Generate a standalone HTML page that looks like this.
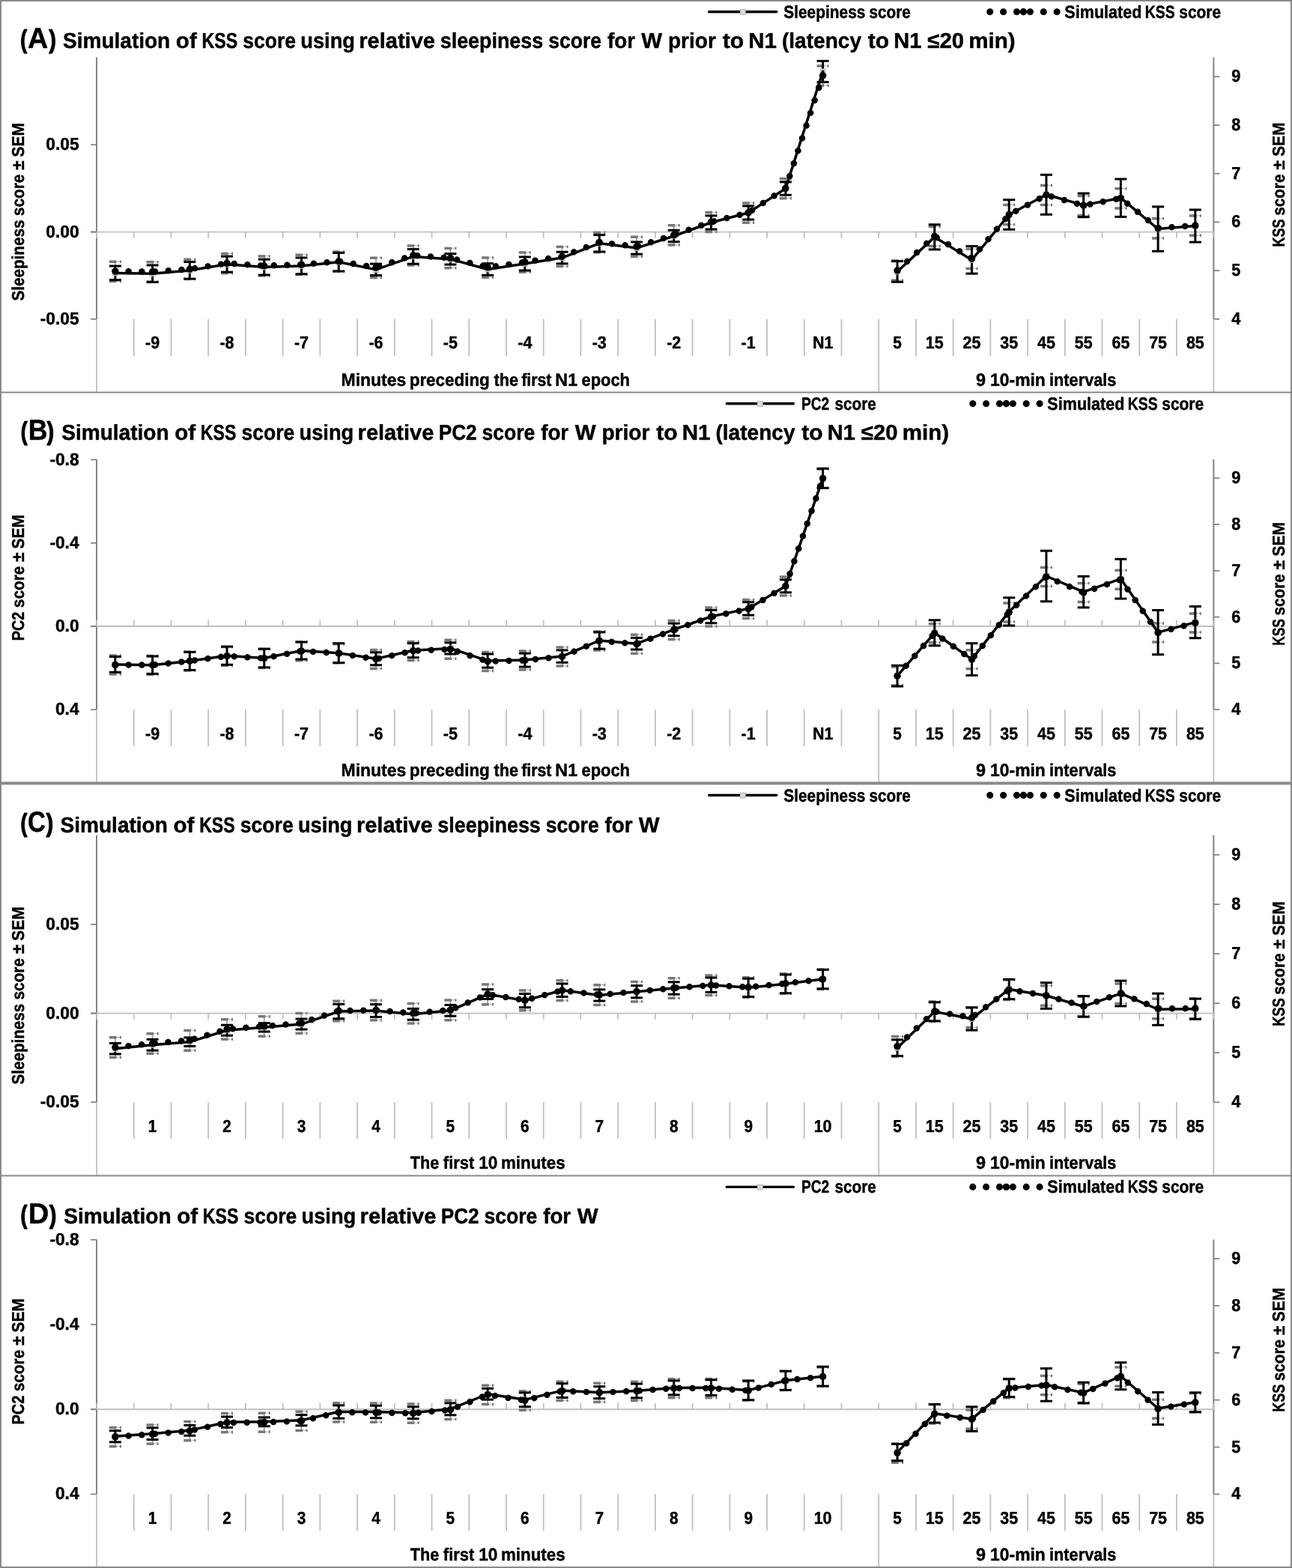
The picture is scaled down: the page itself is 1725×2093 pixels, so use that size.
<!DOCTYPE html>
<html lang="en">
<head>
<meta charset="utf-8">
<title>Simulation of KSS score</title>
<style>
html,body{margin:0;padding:0;background:#fff;}
body{width:1725px;height:2093px;overflow:hidden;}
svg{display:block;}
text{font-family:'Liberation Sans', Arial, sans-serif;font-weight:700;text-rendering:geometricPrecision;fill:#000;stroke:#000;stroke-width:0.45px;stroke-linejoin:round;}
</style>
</head>
<body>
<svg width="1725" height="2093" viewBox="0 0 1725 2093">
<rect width="1725" height="2093" fill="#fff"/>
<g transform="translate(0 0.5)">
<line x1="129" y1="75.9" x2="129" y2="425.5" stroke="#848484" stroke-width="2"/>
<line x1="1620.35" y1="75.9" x2="1620.35" y2="425.5" stroke="#848484" stroke-width="2"/>
<line x1="121.2" y1="192.7" x2="129" y2="192.7" stroke="#848484" stroke-width="1.8"/>
<line x1="121.2" y1="309.1" x2="129" y2="309.1" stroke="#848484" stroke-width="1.8"/>
<line x1="121.2" y1="425.5" x2="129" y2="425.5" stroke="#848484" stroke-width="1.8"/>
<line x1="1620.35" y1="101.8" x2="1628.35" y2="101.8" stroke="#848484" stroke-width="1.8"/>
<line x1="1620.35" y1="166.52" x2="1628.35" y2="166.52" stroke="#848484" stroke-width="1.8"/>
<line x1="1620.35" y1="231.24" x2="1628.35" y2="231.24" stroke="#848484" stroke-width="1.8"/>
<line x1="1620.35" y1="295.96" x2="1628.35" y2="295.96" stroke="#848484" stroke-width="1.8"/>
<line x1="1620.35" y1="360.68" x2="1628.35" y2="360.68" stroke="#848484" stroke-width="1.8"/>
<line x1="1620.35" y1="425.4" x2="1628.35" y2="425.4" stroke="#848484" stroke-width="1.8"/>
<line x1="129" y1="309.1" x2="1620.35" y2="309.1" stroke="#bfbfbf" stroke-width="1.8"/>
<line x1="129" y1="309.1" x2="129" y2="317.3" stroke="#bfbfbf" stroke-width="1.8"/>
<line x1="178.72" y1="309.1" x2="178.72" y2="317.3" stroke="#bfbfbf" stroke-width="1.8"/>
<line x1="228.45" y1="309.1" x2="228.45" y2="317.3" stroke="#bfbfbf" stroke-width="1.8"/>
<line x1="278.17" y1="309.1" x2="278.17" y2="317.3" stroke="#bfbfbf" stroke-width="1.8"/>
<line x1="327.89" y1="309.1" x2="327.89" y2="317.3" stroke="#bfbfbf" stroke-width="1.8"/>
<line x1="377.62" y1="309.1" x2="377.62" y2="317.3" stroke="#bfbfbf" stroke-width="1.8"/>
<line x1="427.34" y1="309.1" x2="427.34" y2="317.3" stroke="#bfbfbf" stroke-width="1.8"/>
<line x1="477.06" y1="309.1" x2="477.06" y2="317.3" stroke="#bfbfbf" stroke-width="1.8"/>
<line x1="526.79" y1="309.1" x2="526.79" y2="317.3" stroke="#bfbfbf" stroke-width="1.8"/>
<line x1="576.51" y1="309.1" x2="576.51" y2="317.3" stroke="#bfbfbf" stroke-width="1.8"/>
<line x1="626.23" y1="309.1" x2="626.23" y2="317.3" stroke="#bfbfbf" stroke-width="1.8"/>
<line x1="675.96" y1="309.1" x2="675.96" y2="317.3" stroke="#bfbfbf" stroke-width="1.8"/>
<line x1="725.68" y1="309.1" x2="725.68" y2="317.3" stroke="#bfbfbf" stroke-width="1.8"/>
<line x1="775.4" y1="309.1" x2="775.4" y2="317.3" stroke="#bfbfbf" stroke-width="1.8"/>
<line x1="825.13" y1="309.1" x2="825.13" y2="317.3" stroke="#bfbfbf" stroke-width="1.8"/>
<line x1="874.85" y1="309.1" x2="874.85" y2="317.3" stroke="#bfbfbf" stroke-width="1.8"/>
<line x1="924.57" y1="309.1" x2="924.57" y2="317.3" stroke="#bfbfbf" stroke-width="1.8"/>
<line x1="974.3" y1="309.1" x2="974.3" y2="317.3" stroke="#bfbfbf" stroke-width="1.8"/>
<line x1="1024.02" y1="309.1" x2="1024.02" y2="317.3" stroke="#bfbfbf" stroke-width="1.8"/>
<line x1="1073.74" y1="309.1" x2="1073.74" y2="317.3" stroke="#bfbfbf" stroke-width="1.8"/>
<line x1="1123.47" y1="309.1" x2="1123.47" y2="317.3" stroke="#bfbfbf" stroke-width="1.8"/>
<line x1="1173.19" y1="309.1" x2="1173.19" y2="317.3" stroke="#bfbfbf" stroke-width="1.8"/>
<line x1="1222.91" y1="309.1" x2="1222.91" y2="317.3" stroke="#bfbfbf" stroke-width="1.8"/>
<line x1="1272.64" y1="309.1" x2="1272.64" y2="317.3" stroke="#bfbfbf" stroke-width="1.8"/>
<line x1="1322.36" y1="309.1" x2="1322.36" y2="317.3" stroke="#bfbfbf" stroke-width="1.8"/>
<line x1="1372.08" y1="309.1" x2="1372.08" y2="317.3" stroke="#bfbfbf" stroke-width="1.8"/>
<line x1="1421.81" y1="309.1" x2="1421.81" y2="317.3" stroke="#bfbfbf" stroke-width="1.8"/>
<line x1="1471.53" y1="309.1" x2="1471.53" y2="317.3" stroke="#bfbfbf" stroke-width="1.8"/>
<line x1="1521.25" y1="309.1" x2="1521.25" y2="317.3" stroke="#bfbfbf" stroke-width="1.8"/>
<line x1="1570.98" y1="309.1" x2="1570.98" y2="317.3" stroke="#bfbfbf" stroke-width="1.8"/>
<line x1="1620.35" y1="309.1" x2="1620.35" y2="317.3" stroke="#bfbfbf" stroke-width="1.8"/>
<line x1="121.2" y1="309.1" x2="128.2" y2="309.1" stroke="#848484" stroke-width="1.8"/>
<line x1="178.72" y1="425.5" x2="178.72" y2="474.8" stroke="#bfbfbf" stroke-width="1.8"/>
<line x1="228.45" y1="425.5" x2="228.45" y2="474.8" stroke="#bfbfbf" stroke-width="1.8"/>
<line x1="278.17" y1="425.5" x2="278.17" y2="474.8" stroke="#bfbfbf" stroke-width="1.8"/>
<line x1="327.89" y1="425.5" x2="327.89" y2="474.8" stroke="#bfbfbf" stroke-width="1.8"/>
<line x1="377.62" y1="425.5" x2="377.62" y2="474.8" stroke="#bfbfbf" stroke-width="1.8"/>
<line x1="427.34" y1="425.5" x2="427.34" y2="474.8" stroke="#bfbfbf" stroke-width="1.8"/>
<line x1="477.06" y1="425.5" x2="477.06" y2="474.8" stroke="#bfbfbf" stroke-width="1.8"/>
<line x1="526.79" y1="425.5" x2="526.79" y2="474.8" stroke="#bfbfbf" stroke-width="1.8"/>
<line x1="576.51" y1="425.5" x2="576.51" y2="474.8" stroke="#bfbfbf" stroke-width="1.8"/>
<line x1="626.23" y1="425.5" x2="626.23" y2="474.8" stroke="#bfbfbf" stroke-width="1.8"/>
<line x1="675.96" y1="425.5" x2="675.96" y2="474.8" stroke="#bfbfbf" stroke-width="1.8"/>
<line x1="725.68" y1="425.5" x2="725.68" y2="474.8" stroke="#bfbfbf" stroke-width="1.8"/>
<line x1="775.4" y1="425.5" x2="775.4" y2="474.8" stroke="#bfbfbf" stroke-width="1.8"/>
<line x1="825.13" y1="425.5" x2="825.13" y2="474.8" stroke="#bfbfbf" stroke-width="1.8"/>
<line x1="874.85" y1="425.5" x2="874.85" y2="474.8" stroke="#bfbfbf" stroke-width="1.8"/>
<line x1="924.57" y1="425.5" x2="924.57" y2="474.8" stroke="#bfbfbf" stroke-width="1.8"/>
<line x1="974.3" y1="425.5" x2="974.3" y2="474.8" stroke="#bfbfbf" stroke-width="1.8"/>
<line x1="1024.02" y1="425.5" x2="1024.02" y2="474.8" stroke="#bfbfbf" stroke-width="1.8"/>
<line x1="1073.74" y1="425.5" x2="1073.74" y2="474.8" stroke="#bfbfbf" stroke-width="1.8"/>
<line x1="1123.47" y1="425.5" x2="1123.47" y2="474.8" stroke="#bfbfbf" stroke-width="1.8"/>
<line x1="1173.19" y1="425.5" x2="1173.19" y2="523.7" stroke="#bfbfbf" stroke-width="1.8"/>
<line x1="1222.91" y1="425.5" x2="1222.91" y2="474.8" stroke="#bfbfbf" stroke-width="1.8"/>
<line x1="1272.64" y1="425.5" x2="1272.64" y2="474.8" stroke="#bfbfbf" stroke-width="1.8"/>
<line x1="1322.36" y1="425.5" x2="1322.36" y2="474.8" stroke="#bfbfbf" stroke-width="1.8"/>
<line x1="1372.08" y1="425.5" x2="1372.08" y2="474.8" stroke="#bfbfbf" stroke-width="1.8"/>
<line x1="1421.81" y1="425.5" x2="1421.81" y2="474.8" stroke="#bfbfbf" stroke-width="1.8"/>
<line x1="1471.53" y1="425.5" x2="1471.53" y2="474.8" stroke="#bfbfbf" stroke-width="1.8"/>
<line x1="1521.25" y1="425.5" x2="1521.25" y2="474.8" stroke="#bfbfbf" stroke-width="1.8"/>
<line x1="1570.98" y1="425.5" x2="1570.98" y2="474.8" stroke="#bfbfbf" stroke-width="1.8"/>
<line x1="129" y1="425.5" x2="129" y2="523.7" stroke="#bfbfbf" stroke-width="1.8"/>
<line x1="1620.35" y1="425.5" x2="1620.35" y2="523.7" stroke="#bfbfbf" stroke-width="1.8"/>
</g>
<g transform="translate(0 0.5)">
<line x1="153.86" y1="348.5" x2="153.86" y2="374.7" stroke="#a8a8a8" stroke-width="2"/>
<line x1="145.86" y1="348.5" x2="161.86" y2="348.5" stroke="#b4b4b4" stroke-width="1"/>
<line x1="145.86" y1="348.7" x2="161.86" y2="348.7" stroke="#787878" stroke-width="3.5" stroke-dasharray="9.7 4.3 2 10"/>
<line x1="145.86" y1="374.7" x2="161.86" y2="374.7" stroke="#b4b4b4" stroke-width="1"/>
<line x1="145.86" y1="374.9" x2="161.86" y2="374.9" stroke="#787878" stroke-width="3.5" stroke-dasharray="9.7 4.3 2 10"/>
<line x1="203.59" y1="349.1" x2="203.59" y2="375.3" stroke="#a8a8a8" stroke-width="2"/>
<line x1="195.59" y1="349.1" x2="211.59" y2="349.1" stroke="#b4b4b4" stroke-width="1"/>
<line x1="195.59" y1="349.3" x2="211.59" y2="349.3" stroke="#787878" stroke-width="3.5" stroke-dasharray="9.7 4.3 2 10"/>
<line x1="195.59" y1="375.3" x2="211.59" y2="375.3" stroke="#b4b4b4" stroke-width="1"/>
<line x1="195.59" y1="375.5" x2="211.59" y2="375.5" stroke="#787878" stroke-width="3.5" stroke-dasharray="9.7 4.3 2 10"/>
<line x1="253.31" y1="345.6" x2="253.31" y2="371.8" stroke="#a8a8a8" stroke-width="2"/>
<line x1="245.31" y1="345.6" x2="261.31" y2="345.6" stroke="#b4b4b4" stroke-width="1"/>
<line x1="245.31" y1="345.8" x2="261.31" y2="345.8" stroke="#787878" stroke-width="3.5" stroke-dasharray="9.7 4.3 2 10"/>
<line x1="245.31" y1="371.8" x2="261.31" y2="371.8" stroke="#b4b4b4" stroke-width="1"/>
<line x1="245.31" y1="372" x2="261.31" y2="372" stroke="#787878" stroke-width="3.5" stroke-dasharray="9.7 4.3 2 10"/>
<line x1="303.03" y1="337.8" x2="303.03" y2="364" stroke="#a8a8a8" stroke-width="2"/>
<line x1="295.03" y1="337.8" x2="311.03" y2="337.8" stroke="#b4b4b4" stroke-width="1"/>
<line x1="295.03" y1="338" x2="311.03" y2="338" stroke="#787878" stroke-width="3.5" stroke-dasharray="9.7 4.3 2 10"/>
<line x1="295.03" y1="364" x2="311.03" y2="364" stroke="#b4b4b4" stroke-width="1"/>
<line x1="295.03" y1="364.2" x2="311.03" y2="364.2" stroke="#787878" stroke-width="3.5" stroke-dasharray="9.7 4.3 2 10"/>
<line x1="352.75" y1="341.2" x2="352.75" y2="367.4" stroke="#a8a8a8" stroke-width="2"/>
<line x1="344.75" y1="341.2" x2="360.75" y2="341.2" stroke="#b4b4b4" stroke-width="1"/>
<line x1="344.75" y1="341.4" x2="360.75" y2="341.4" stroke="#787878" stroke-width="3.5" stroke-dasharray="9.7 4.3 2 10"/>
<line x1="344.75" y1="367.4" x2="360.75" y2="367.4" stroke="#b4b4b4" stroke-width="1"/>
<line x1="344.75" y1="367.6" x2="360.75" y2="367.6" stroke="#787878" stroke-width="3.5" stroke-dasharray="9.7 4.3 2 10"/>
<line x1="402.48" y1="339.5" x2="402.48" y2="365.7" stroke="#a8a8a8" stroke-width="2"/>
<line x1="394.48" y1="339.5" x2="410.48" y2="339.5" stroke="#b4b4b4" stroke-width="1"/>
<line x1="394.48" y1="339.7" x2="410.48" y2="339.7" stroke="#787878" stroke-width="3.5" stroke-dasharray="9.7 4.3 2 10"/>
<line x1="394.48" y1="365.7" x2="410.48" y2="365.7" stroke="#b4b4b4" stroke-width="1"/>
<line x1="394.48" y1="365.9" x2="410.48" y2="365.9" stroke="#787878" stroke-width="3.5" stroke-dasharray="9.7 4.3 2 10"/>
<line x1="452.2" y1="335.2" x2="452.2" y2="361.4" stroke="#a8a8a8" stroke-width="2"/>
<line x1="444.2" y1="335.2" x2="460.2" y2="335.2" stroke="#b4b4b4" stroke-width="1"/>
<line x1="444.2" y1="335.4" x2="460.2" y2="335.4" stroke="#787878" stroke-width="3.5" stroke-dasharray="9.7 4.3 2 10"/>
<line x1="444.2" y1="361.4" x2="460.2" y2="361.4" stroke="#b4b4b4" stroke-width="1"/>
<line x1="444.2" y1="361.6" x2="460.2" y2="361.6" stroke="#787878" stroke-width="3.5" stroke-dasharray="9.7 4.3 2 10"/>
<line x1="501.93" y1="343.5" x2="501.93" y2="369.7" stroke="#a8a8a8" stroke-width="2"/>
<line x1="493.93" y1="343.5" x2="509.93" y2="343.5" stroke="#b4b4b4" stroke-width="1"/>
<line x1="493.93" y1="343.7" x2="509.93" y2="343.7" stroke="#787878" stroke-width="3.5" stroke-dasharray="9.7 4.3 2 10"/>
<line x1="493.93" y1="369.7" x2="509.93" y2="369.7" stroke="#b4b4b4" stroke-width="1"/>
<line x1="493.93" y1="369.9" x2="509.93" y2="369.9" stroke="#787878" stroke-width="3.5" stroke-dasharray="9.7 4.3 2 10"/>
<line x1="551.65" y1="327.2" x2="551.65" y2="353.4" stroke="#a8a8a8" stroke-width="2"/>
<line x1="543.65" y1="327.2" x2="559.65" y2="327.2" stroke="#b4b4b4" stroke-width="1"/>
<line x1="543.65" y1="327.4" x2="559.65" y2="327.4" stroke="#787878" stroke-width="3.5" stroke-dasharray="9.7 4.3 2 10"/>
<line x1="543.65" y1="353.4" x2="559.65" y2="353.4" stroke="#b4b4b4" stroke-width="1"/>
<line x1="543.65" y1="353.6" x2="559.65" y2="353.6" stroke="#787878" stroke-width="3.5" stroke-dasharray="9.7 4.3 2 10"/>
<line x1="601.37" y1="330.8" x2="601.37" y2="357" stroke="#a8a8a8" stroke-width="2"/>
<line x1="593.37" y1="330.8" x2="609.37" y2="330.8" stroke="#b4b4b4" stroke-width="1"/>
<line x1="593.37" y1="331" x2="609.37" y2="331" stroke="#787878" stroke-width="3.5" stroke-dasharray="9.7 4.3 2 10"/>
<line x1="593.37" y1="357" x2="609.37" y2="357" stroke="#b4b4b4" stroke-width="1"/>
<line x1="593.37" y1="357.2" x2="609.37" y2="357.2" stroke="#787878" stroke-width="3.5" stroke-dasharray="9.7 4.3 2 10"/>
<line x1="651.1" y1="343.3" x2="651.1" y2="369.5" stroke="#a8a8a8" stroke-width="2"/>
<line x1="643.1" y1="343.3" x2="659.1" y2="343.3" stroke="#b4b4b4" stroke-width="1"/>
<line x1="643.1" y1="343.5" x2="659.1" y2="343.5" stroke="#787878" stroke-width="3.5" stroke-dasharray="9.7 4.3 2 10"/>
<line x1="643.1" y1="369.5" x2="659.1" y2="369.5" stroke="#b4b4b4" stroke-width="1"/>
<line x1="643.1" y1="369.7" x2="659.1" y2="369.7" stroke="#787878" stroke-width="3.5" stroke-dasharray="9.7 4.3 2 10"/>
<line x1="700.82" y1="336.3" x2="700.82" y2="362.5" stroke="#a8a8a8" stroke-width="2"/>
<line x1="692.82" y1="336.3" x2="708.82" y2="336.3" stroke="#b4b4b4" stroke-width="1"/>
<line x1="692.82" y1="336.5" x2="708.82" y2="336.5" stroke="#787878" stroke-width="3.5" stroke-dasharray="9.7 4.3 2 10"/>
<line x1="692.82" y1="362.5" x2="708.82" y2="362.5" stroke="#b4b4b4" stroke-width="1"/>
<line x1="692.82" y1="362.7" x2="708.82" y2="362.7" stroke="#787878" stroke-width="3.5" stroke-dasharray="9.7 4.3 2 10"/>
<line x1="750.54" y1="328.7" x2="750.54" y2="354.9" stroke="#a8a8a8" stroke-width="2"/>
<line x1="742.54" y1="328.7" x2="758.54" y2="328.7" stroke="#b4b4b4" stroke-width="1"/>
<line x1="742.54" y1="328.9" x2="758.54" y2="328.9" stroke="#787878" stroke-width="3.5" stroke-dasharray="9.7 4.3 2 10"/>
<line x1="742.54" y1="354.9" x2="758.54" y2="354.9" stroke="#b4b4b4" stroke-width="1"/>
<line x1="742.54" y1="355.1" x2="758.54" y2="355.1" stroke="#787878" stroke-width="3.5" stroke-dasharray="9.7 4.3 2 10"/>
<line x1="800.26" y1="309.9" x2="800.26" y2="336.1" stroke="#a8a8a8" stroke-width="2"/>
<line x1="792.26" y1="309.9" x2="808.26" y2="309.9" stroke="#b4b4b4" stroke-width="1"/>
<line x1="792.26" y1="310.1" x2="808.26" y2="310.1" stroke="#787878" stroke-width="3.5" stroke-dasharray="9.7 4.3 2 10"/>
<line x1="792.26" y1="336.1" x2="808.26" y2="336.1" stroke="#b4b4b4" stroke-width="1"/>
<line x1="792.26" y1="336.3" x2="808.26" y2="336.3" stroke="#787878" stroke-width="3.5" stroke-dasharray="9.7 4.3 2 10"/>
<line x1="849.99" y1="315.5" x2="849.99" y2="341.7" stroke="#a8a8a8" stroke-width="2"/>
<line x1="841.99" y1="315.5" x2="857.99" y2="315.5" stroke="#b4b4b4" stroke-width="1"/>
<line x1="841.99" y1="315.7" x2="857.99" y2="315.7" stroke="#787878" stroke-width="3.5" stroke-dasharray="9.7 4.3 2 10"/>
<line x1="841.99" y1="341.7" x2="857.99" y2="341.7" stroke="#b4b4b4" stroke-width="1"/>
<line x1="841.99" y1="341.9" x2="857.99" y2="341.9" stroke="#787878" stroke-width="3.5" stroke-dasharray="9.7 4.3 2 10"/>
<line x1="899.71" y1="300.1" x2="899.71" y2="326.3" stroke="#a8a8a8" stroke-width="2"/>
<line x1="891.71" y1="300.1" x2="907.71" y2="300.1" stroke="#b4b4b4" stroke-width="1"/>
<line x1="891.71" y1="300.3" x2="907.71" y2="300.3" stroke="#787878" stroke-width="3.5" stroke-dasharray="9.7 4.3 2 10"/>
<line x1="891.71" y1="326.3" x2="907.71" y2="326.3" stroke="#b4b4b4" stroke-width="1"/>
<line x1="891.71" y1="326.5" x2="907.71" y2="326.5" stroke="#787878" stroke-width="3.5" stroke-dasharray="9.7 4.3 2 10"/>
<line x1="949.44" y1="282.7" x2="949.44" y2="308.9" stroke="#a8a8a8" stroke-width="2"/>
<line x1="941.44" y1="282.7" x2="957.44" y2="282.7" stroke="#b4b4b4" stroke-width="1"/>
<line x1="941.44" y1="282.9" x2="957.44" y2="282.9" stroke="#787878" stroke-width="3.5" stroke-dasharray="9.7 4.3 2 10"/>
<line x1="941.44" y1="308.9" x2="957.44" y2="308.9" stroke="#b4b4b4" stroke-width="1"/>
<line x1="941.44" y1="309.1" x2="957.44" y2="309.1" stroke="#787878" stroke-width="3.5" stroke-dasharray="9.7 4.3 2 10"/>
<line x1="999.16" y1="270.3" x2="999.16" y2="296.5" stroke="#a8a8a8" stroke-width="2"/>
<line x1="991.16" y1="270.3" x2="1007.16" y2="270.3" stroke="#b4b4b4" stroke-width="1"/>
<line x1="991.16" y1="270.5" x2="1007.16" y2="270.5" stroke="#787878" stroke-width="3.5" stroke-dasharray="9.7 4.3 2 10"/>
<line x1="991.16" y1="296.5" x2="1007.16" y2="296.5" stroke="#b4b4b4" stroke-width="1"/>
<line x1="991.16" y1="296.7" x2="1007.16" y2="296.7" stroke="#787878" stroke-width="3.5" stroke-dasharray="9.7 4.3 2 10"/>
<line x1="1048.88" y1="237.8" x2="1048.88" y2="264" stroke="#a8a8a8" stroke-width="2"/>
<line x1="1040.88" y1="237.8" x2="1056.88" y2="237.8" stroke="#b4b4b4" stroke-width="1"/>
<line x1="1040.88" y1="238" x2="1056.88" y2="238" stroke="#787878" stroke-width="3.5" stroke-dasharray="9.7 4.3 2 10"/>
<line x1="1040.88" y1="264" x2="1056.88" y2="264" stroke="#b4b4b4" stroke-width="1"/>
<line x1="1040.88" y1="264.2" x2="1056.88" y2="264.2" stroke="#787878" stroke-width="3.5" stroke-dasharray="9.7 4.3 2 10"/>
<line x1="1098.61" y1="87.3" x2="1098.61" y2="113.5" stroke="#a8a8a8" stroke-width="2"/>
<line x1="1090.61" y1="87.3" x2="1106.61" y2="87.3" stroke="#b4b4b4" stroke-width="1"/>
<line x1="1090.61" y1="87.5" x2="1106.61" y2="87.5" stroke="#787878" stroke-width="3.5" stroke-dasharray="9.7 4.3 2 10"/>
<line x1="1090.61" y1="113.5" x2="1106.61" y2="113.5" stroke="#b4b4b4" stroke-width="1"/>
<line x1="1090.61" y1="113.7" x2="1106.61" y2="113.7" stroke="#787878" stroke-width="3.5" stroke-dasharray="9.7 4.3 2 10"/>
<line x1="1198.05" y1="347.4" x2="1198.05" y2="373.6" stroke="#a8a8a8" stroke-width="2"/>
<line x1="1190.05" y1="347.4" x2="1206.05" y2="347.4" stroke="#b4b4b4" stroke-width="1"/>
<line x1="1190.05" y1="347.6" x2="1206.05" y2="347.6" stroke="#787878" stroke-width="3.5" stroke-dasharray="9.7 4.3 2 10"/>
<line x1="1190.05" y1="373.6" x2="1206.05" y2="373.6" stroke="#b4b4b4" stroke-width="1"/>
<line x1="1190.05" y1="373.8" x2="1206.05" y2="373.8" stroke="#787878" stroke-width="3.5" stroke-dasharray="9.7 4.3 2 10"/>
<line x1="1247.78" y1="301.7" x2="1247.78" y2="327.9" stroke="#a8a8a8" stroke-width="2"/>
<line x1="1239.78" y1="301.7" x2="1255.78" y2="301.7" stroke="#b4b4b4" stroke-width="1"/>
<line x1="1239.78" y1="301.9" x2="1255.78" y2="301.9" stroke="#787878" stroke-width="3.5" stroke-dasharray="9.7 4.3 2 10"/>
<line x1="1239.78" y1="327.9" x2="1255.78" y2="327.9" stroke="#b4b4b4" stroke-width="1"/>
<line x1="1239.78" y1="328.1" x2="1255.78" y2="328.1" stroke="#787878" stroke-width="3.5" stroke-dasharray="9.7 4.3 2 10"/>
<line x1="1297.5" y1="331.6" x2="1297.5" y2="357.8" stroke="#a8a8a8" stroke-width="2"/>
<line x1="1289.5" y1="331.6" x2="1305.5" y2="331.6" stroke="#b4b4b4" stroke-width="1"/>
<line x1="1289.5" y1="331.8" x2="1305.5" y2="331.8" stroke="#787878" stroke-width="3.5" stroke-dasharray="9.7 4.3 2 10"/>
<line x1="1289.5" y1="357.8" x2="1305.5" y2="357.8" stroke="#b4b4b4" stroke-width="1"/>
<line x1="1289.5" y1="358" x2="1305.5" y2="358" stroke="#787878" stroke-width="3.5" stroke-dasharray="9.7 4.3 2 10"/>
<line x1="1347.22" y1="272.9" x2="1347.22" y2="299.1" stroke="#a8a8a8" stroke-width="2"/>
<line x1="1339.22" y1="272.9" x2="1355.22" y2="272.9" stroke="#b4b4b4" stroke-width="1"/>
<line x1="1339.22" y1="273.1" x2="1355.22" y2="273.1" stroke="#787878" stroke-width="3.5" stroke-dasharray="9.7 4.3 2 10"/>
<line x1="1339.22" y1="299.1" x2="1355.22" y2="299.1" stroke="#b4b4b4" stroke-width="1"/>
<line x1="1339.22" y1="299.3" x2="1355.22" y2="299.3" stroke="#787878" stroke-width="3.5" stroke-dasharray="9.7 4.3 2 10"/>
<line x1="1396.95" y1="246.7" x2="1396.95" y2="272.9" stroke="#a8a8a8" stroke-width="2"/>
<line x1="1388.95" y1="246.7" x2="1404.95" y2="246.7" stroke="#b4b4b4" stroke-width="1"/>
<line x1="1388.95" y1="246.9" x2="1404.95" y2="246.9" stroke="#787878" stroke-width="3.5" stroke-dasharray="9.7 4.3 2 10"/>
<line x1="1388.95" y1="272.9" x2="1404.95" y2="272.9" stroke="#b4b4b4" stroke-width="1"/>
<line x1="1388.95" y1="273.1" x2="1404.95" y2="273.1" stroke="#787878" stroke-width="3.5" stroke-dasharray="9.7 4.3 2 10"/>
<line x1="1446.67" y1="260.7" x2="1446.67" y2="286.9" stroke="#a8a8a8" stroke-width="2"/>
<line x1="1438.67" y1="260.7" x2="1454.67" y2="260.7" stroke="#b4b4b4" stroke-width="1"/>
<line x1="1438.67" y1="260.9" x2="1454.67" y2="260.9" stroke="#787878" stroke-width="3.5" stroke-dasharray="9.7 4.3 2 10"/>
<line x1="1438.67" y1="286.9" x2="1454.67" y2="286.9" stroke="#b4b4b4" stroke-width="1"/>
<line x1="1438.67" y1="287.1" x2="1454.67" y2="287.1" stroke="#787878" stroke-width="3.5" stroke-dasharray="9.7 4.3 2 10"/>
<line x1="1496.39" y1="251" x2="1496.39" y2="277.2" stroke="#a8a8a8" stroke-width="2"/>
<line x1="1488.39" y1="251" x2="1504.39" y2="251" stroke="#b4b4b4" stroke-width="1"/>
<line x1="1488.39" y1="251.2" x2="1504.39" y2="251.2" stroke="#787878" stroke-width="3.5" stroke-dasharray="9.7 4.3 2 10"/>
<line x1="1488.39" y1="277.2" x2="1504.39" y2="277.2" stroke="#b4b4b4" stroke-width="1"/>
<line x1="1488.39" y1="277.4" x2="1504.39" y2="277.4" stroke="#787878" stroke-width="3.5" stroke-dasharray="9.7 4.3 2 10"/>
<line x1="1546.12" y1="291" x2="1546.12" y2="317.2" stroke="#a8a8a8" stroke-width="2"/>
<line x1="1538.12" y1="291" x2="1554.12" y2="291" stroke="#b4b4b4" stroke-width="1"/>
<line x1="1538.12" y1="291.2" x2="1554.12" y2="291.2" stroke="#787878" stroke-width="3.5" stroke-dasharray="9.7 4.3 2 10"/>
<line x1="1538.12" y1="317.2" x2="1554.12" y2="317.2" stroke="#b4b4b4" stroke-width="1"/>
<line x1="1538.12" y1="317.4" x2="1554.12" y2="317.4" stroke="#787878" stroke-width="3.5" stroke-dasharray="9.7 4.3 2 10"/>
<line x1="1595.84" y1="287.4" x2="1595.84" y2="313.6" stroke="#a8a8a8" stroke-width="2"/>
<line x1="1587.84" y1="287.4" x2="1603.84" y2="287.4" stroke="#b4b4b4" stroke-width="1"/>
<line x1="1587.84" y1="287.6" x2="1603.84" y2="287.6" stroke="#787878" stroke-width="3.5" stroke-dasharray="9.7 4.3 2 10"/>
<line x1="1587.84" y1="313.6" x2="1603.84" y2="313.6" stroke="#b4b4b4" stroke-width="1"/>
<line x1="1587.84" y1="313.8" x2="1603.84" y2="313.8" stroke="#787878" stroke-width="3.5" stroke-dasharray="9.7 4.3 2 10"/>
<line x1="153.86" y1="354.6" x2="153.86" y2="373.2" stroke="#000" stroke-width="3"/>
<line x1="145.86" y1="354.6" x2="161.86" y2="354.6" stroke="#000" stroke-width="3"/>
<line x1="145.86" y1="373.2" x2="161.86" y2="373.2" stroke="#000" stroke-width="3"/>
<line x1="203.59" y1="353.5" x2="203.59" y2="376.1" stroke="#000" stroke-width="3"/>
<line x1="195.59" y1="353.5" x2="211.59" y2="353.5" stroke="#000" stroke-width="3"/>
<line x1="195.59" y1="376.1" x2="211.59" y2="376.1" stroke="#000" stroke-width="3"/>
<line x1="253.31" y1="349.1" x2="253.31" y2="371.7" stroke="#000" stroke-width="3"/>
<line x1="245.31" y1="349.1" x2="261.31" y2="349.1" stroke="#000" stroke-width="3"/>
<line x1="245.31" y1="371.7" x2="261.31" y2="371.7" stroke="#000" stroke-width="3"/>
<line x1="303.03" y1="341.7" x2="303.03" y2="362.7" stroke="#000" stroke-width="3"/>
<line x1="295.03" y1="341.7" x2="311.03" y2="341.7" stroke="#000" stroke-width="3"/>
<line x1="295.03" y1="362.7" x2="311.03" y2="362.7" stroke="#000" stroke-width="3"/>
<line x1="352.75" y1="345.7" x2="352.75" y2="366.5" stroke="#000" stroke-width="3"/>
<line x1="344.75" y1="345.7" x2="360.75" y2="345.7" stroke="#000" stroke-width="3"/>
<line x1="344.75" y1="366.5" x2="360.75" y2="366.5" stroke="#000" stroke-width="3"/>
<line x1="402.48" y1="343.5" x2="402.48" y2="365.3" stroke="#000" stroke-width="3"/>
<line x1="394.48" y1="343.5" x2="410.48" y2="343.5" stroke="#000" stroke-width="3"/>
<line x1="394.48" y1="365.3" x2="410.48" y2="365.3" stroke="#000" stroke-width="3"/>
<line x1="452.2" y1="337" x2="452.2" y2="361.6" stroke="#000" stroke-width="3"/>
<line x1="444.2" y1="337" x2="460.2" y2="337" stroke="#000" stroke-width="3"/>
<line x1="444.2" y1="361.6" x2="460.2" y2="361.6" stroke="#000" stroke-width="3"/>
<line x1="501.93" y1="351.7" x2="501.93" y2="367.1" stroke="#000" stroke-width="3"/>
<line x1="493.93" y1="351.7" x2="509.93" y2="351.7" stroke="#000" stroke-width="3"/>
<line x1="493.93" y1="367.1" x2="509.93" y2="367.1" stroke="#000" stroke-width="3"/>
<line x1="551.65" y1="332.1" x2="551.65" y2="351.7" stroke="#000" stroke-width="3"/>
<line x1="543.65" y1="332.1" x2="559.65" y2="332.1" stroke="#000" stroke-width="3"/>
<line x1="543.65" y1="351.7" x2="559.65" y2="351.7" stroke="#000" stroke-width="3"/>
<line x1="601.37" y1="338.2" x2="601.37" y2="352.6" stroke="#000" stroke-width="3"/>
<line x1="593.37" y1="338.2" x2="609.37" y2="338.2" stroke="#000" stroke-width="3"/>
<line x1="593.37" y1="352.6" x2="609.37" y2="352.6" stroke="#000" stroke-width="3"/>
<line x1="651.1" y1="351.2" x2="651.1" y2="366.8" stroke="#000" stroke-width="3"/>
<line x1="643.1" y1="351.2" x2="659.1" y2="351.2" stroke="#000" stroke-width="3"/>
<line x1="643.1" y1="366.8" x2="659.1" y2="366.8" stroke="#000" stroke-width="3"/>
<line x1="700.82" y1="342.5" x2="700.82" y2="360.5" stroke="#000" stroke-width="3"/>
<line x1="692.82" y1="342.5" x2="708.82" y2="342.5" stroke="#000" stroke-width="3"/>
<line x1="692.82" y1="360.5" x2="708.82" y2="360.5" stroke="#000" stroke-width="3"/>
<line x1="750.54" y1="335.8" x2="750.54" y2="351.4" stroke="#000" stroke-width="3"/>
<line x1="742.54" y1="335.8" x2="758.54" y2="335.8" stroke="#000" stroke-width="3"/>
<line x1="742.54" y1="351.4" x2="758.54" y2="351.4" stroke="#000" stroke-width="3"/>
<line x1="800.26" y1="313.1" x2="800.26" y2="335.5" stroke="#000" stroke-width="3"/>
<line x1="792.26" y1="313.1" x2="808.26" y2="313.1" stroke="#000" stroke-width="3"/>
<line x1="792.26" y1="335.5" x2="808.26" y2="335.5" stroke="#000" stroke-width="3"/>
<line x1="849.99" y1="322.5" x2="849.99" y2="338.7" stroke="#000" stroke-width="3"/>
<line x1="841.99" y1="322.5" x2="857.99" y2="322.5" stroke="#000" stroke-width="3"/>
<line x1="841.99" y1="338.7" x2="857.99" y2="338.7" stroke="#000" stroke-width="3"/>
<line x1="899.71" y1="306.8" x2="899.71" y2="322.2" stroke="#000" stroke-width="3"/>
<line x1="891.71" y1="306.8" x2="907.71" y2="306.8" stroke="#000" stroke-width="3"/>
<line x1="891.71" y1="322.2" x2="907.71" y2="322.2" stroke="#000" stroke-width="3"/>
<line x1="949.44" y1="287.4" x2="949.44" y2="305.6" stroke="#000" stroke-width="3"/>
<line x1="941.44" y1="287.4" x2="957.44" y2="287.4" stroke="#000" stroke-width="3"/>
<line x1="941.44" y1="305.6" x2="957.44" y2="305.6" stroke="#000" stroke-width="3"/>
<line x1="999.16" y1="274.4" x2="999.16" y2="292.6" stroke="#000" stroke-width="3"/>
<line x1="991.16" y1="274.4" x2="1007.16" y2="274.4" stroke="#000" stroke-width="3"/>
<line x1="991.16" y1="292.6" x2="1007.16" y2="292.6" stroke="#000" stroke-width="3"/>
<line x1="1048.88" y1="242.4" x2="1048.88" y2="259.8" stroke="#000" stroke-width="3"/>
<line x1="1040.88" y1="242.4" x2="1056.88" y2="242.4" stroke="#000" stroke-width="3"/>
<line x1="1040.88" y1="259.8" x2="1056.88" y2="259.8" stroke="#000" stroke-width="3"/>
<line x1="1098.61" y1="80.9" x2="1098.61" y2="109.1" stroke="#000" stroke-width="3"/>
<line x1="1090.61" y1="80.9" x2="1106.61" y2="80.9" stroke="#000" stroke-width="3"/>
<line x1="1090.61" y1="109.1" x2="1106.61" y2="109.1" stroke="#000" stroke-width="3"/>
<line x1="1198.05" y1="348.2" x2="1198.05" y2="375.8" stroke="#000" stroke-width="3"/>
<line x1="1190.05" y1="348.2" x2="1206.05" y2="348.2" stroke="#000" stroke-width="3"/>
<line x1="1190.05" y1="375.8" x2="1206.05" y2="375.8" stroke="#000" stroke-width="3"/>
<line x1="1247.78" y1="299.3" x2="1247.78" y2="332.5" stroke="#000" stroke-width="3"/>
<line x1="1239.78" y1="299.3" x2="1255.78" y2="299.3" stroke="#000" stroke-width="3"/>
<line x1="1239.78" y1="332.5" x2="1255.78" y2="332.5" stroke="#000" stroke-width="3"/>
<line x1="1297.5" y1="328.1" x2="1297.5" y2="364.7" stroke="#000" stroke-width="3"/>
<line x1="1289.5" y1="328.1" x2="1305.5" y2="328.1" stroke="#000" stroke-width="3"/>
<line x1="1289.5" y1="364.7" x2="1305.5" y2="364.7" stroke="#000" stroke-width="3"/>
<line x1="1347.22" y1="266.2" x2="1347.22" y2="305.8" stroke="#000" stroke-width="3"/>
<line x1="1339.22" y1="266.2" x2="1355.22" y2="266.2" stroke="#000" stroke-width="3"/>
<line x1="1339.22" y1="305.8" x2="1355.22" y2="305.8" stroke="#000" stroke-width="3"/>
<line x1="1396.95" y1="232.8" x2="1396.95" y2="285.8" stroke="#000" stroke-width="3"/>
<line x1="1388.95" y1="232.8" x2="1404.95" y2="232.8" stroke="#000" stroke-width="3"/>
<line x1="1388.95" y1="285.8" x2="1404.95" y2="285.8" stroke="#000" stroke-width="3"/>
<line x1="1446.67" y1="257.6" x2="1446.67" y2="289.2" stroke="#000" stroke-width="3"/>
<line x1="1438.67" y1="257.6" x2="1454.67" y2="257.6" stroke="#000" stroke-width="3"/>
<line x1="1438.67" y1="289.2" x2="1454.67" y2="289.2" stroke="#000" stroke-width="3"/>
<line x1="1496.39" y1="238.5" x2="1496.39" y2="288.9" stroke="#000" stroke-width="3"/>
<line x1="1488.39" y1="238.5" x2="1504.39" y2="238.5" stroke="#000" stroke-width="3"/>
<line x1="1488.39" y1="288.9" x2="1504.39" y2="288.9" stroke="#000" stroke-width="3"/>
<line x1="1546.12" y1="275.4" x2="1546.12" y2="334.8" stroke="#000" stroke-width="3"/>
<line x1="1538.12" y1="275.4" x2="1554.12" y2="275.4" stroke="#000" stroke-width="3"/>
<line x1="1538.12" y1="334.8" x2="1554.12" y2="334.8" stroke="#000" stroke-width="3"/>
<line x1="1595.84" y1="279.5" x2="1595.84" y2="322.7" stroke="#000" stroke-width="3"/>
<line x1="1587.84" y1="279.5" x2="1603.84" y2="279.5" stroke="#000" stroke-width="3"/>
<line x1="1587.84" y1="322.7" x2="1603.84" y2="322.7" stroke="#000" stroke-width="3"/>
<rect x="150.46" y="360.5" width="6.8" height="6.8" fill="#dadada" stroke="#b9b9b9" stroke-width="1.1"/>
<rect x="200.19" y="361.4" width="6.8" height="6.8" fill="#dadada" stroke="#b9b9b9" stroke-width="1.1"/>
<rect x="249.91" y="357" width="6.8" height="6.8" fill="#dadada" stroke="#b9b9b9" stroke-width="1.1"/>
<rect x="299.63" y="348.8" width="6.8" height="6.8" fill="#dadada" stroke="#b9b9b9" stroke-width="1.1"/>
<rect x="349.36" y="352.7" width="6.8" height="6.8" fill="#dadada" stroke="#b9b9b9" stroke-width="1.1"/>
<rect x="399.08" y="351" width="6.8" height="6.8" fill="#dadada" stroke="#b9b9b9" stroke-width="1.1"/>
<rect x="448.8" y="345.9" width="6.8" height="6.8" fill="#dadada" stroke="#b9b9b9" stroke-width="1.1"/>
<rect x="498.53" y="356" width="6.8" height="6.8" fill="#dadada" stroke="#b9b9b9" stroke-width="1.1"/>
<rect x="548.25" y="338.5" width="6.8" height="6.8" fill="#dadada" stroke="#b9b9b9" stroke-width="1.1"/>
<rect x="597.97" y="342" width="6.8" height="6.8" fill="#dadada" stroke="#b9b9b9" stroke-width="1.1"/>
<rect x="647.7" y="355.6" width="6.8" height="6.8" fill="#dadada" stroke="#b9b9b9" stroke-width="1.1"/>
<rect x="697.42" y="348.1" width="6.8" height="6.8" fill="#dadada" stroke="#b9b9b9" stroke-width="1.1"/>
<rect x="747.14" y="340.2" width="6.8" height="6.8" fill="#dadada" stroke="#b9b9b9" stroke-width="1.1"/>
<rect x="796.87" y="320.9" width="6.8" height="6.8" fill="#dadada" stroke="#b9b9b9" stroke-width="1.1"/>
<rect x="846.59" y="327.2" width="6.8" height="6.8" fill="#dadada" stroke="#b9b9b9" stroke-width="1.1"/>
<rect x="896.31" y="311.1" width="6.8" height="6.8" fill="#dadada" stroke="#b9b9b9" stroke-width="1.1"/>
<rect x="946.04" y="293.1" width="6.8" height="6.8" fill="#dadada" stroke="#b9b9b9" stroke-width="1.1"/>
<rect x="995.76" y="280.1" width="6.8" height="6.8" fill="#dadada" stroke="#b9b9b9" stroke-width="1.1"/>
<rect x="1045.48" y="247.7" width="6.8" height="6.8" fill="#dadada" stroke="#b9b9b9" stroke-width="1.1"/>
<rect x="1095.2" y="91.6" width="6.8" height="6.8" fill="#dadada" stroke="#b9b9b9" stroke-width="1.1"/>
<rect x="1194.65" y="358.6" width="6.8" height="6.8" fill="#dadada" stroke="#b9b9b9" stroke-width="1.1"/>
<rect x="1244.38" y="312.5" width="6.8" height="6.8" fill="#dadada" stroke="#b9b9b9" stroke-width="1.1"/>
<rect x="1294.1" y="343" width="6.8" height="6.8" fill="#dadada" stroke="#b9b9b9" stroke-width="1.1"/>
<rect x="1343.82" y="282.6" width="6.8" height="6.8" fill="#dadada" stroke="#b9b9b9" stroke-width="1.1"/>
<rect x="1393.55" y="255.9" width="6.8" height="6.8" fill="#dadada" stroke="#b9b9b9" stroke-width="1.1"/>
<rect x="1443.27" y="270" width="6.8" height="6.8" fill="#dadada" stroke="#b9b9b9" stroke-width="1.1"/>
<rect x="1492.99" y="260.3" width="6.8" height="6.8" fill="#dadada" stroke="#b9b9b9" stroke-width="1.1"/>
<rect x="1542.71" y="301.7" width="6.8" height="6.8" fill="#dadada" stroke="#b9b9b9" stroke-width="1.1"/>
<rect x="1592.44" y="297.7" width="6.8" height="6.8" fill="#dadada" stroke="#b9b9b9" stroke-width="1.1"/>
<polyline points="153.86,363.9 203.59,364.8 253.31,360.4 303.03,352.2 352.75,356.1 402.48,354.4 452.2,349.3 501.93,359.4 551.65,341.9 601.37,345.4 651.1,359 700.82,351.5 750.54,343.6 800.26,324.3 849.99,330.6 899.71,314.5 949.44,296.5 999.16,283.5 1048.88,251.1 1098.61,95" fill="none" stroke="#000" stroke-width="3.5" stroke-linejoin="round" stroke-linecap="round"/>
<polyline points="1198.05,362 1247.78,315.9 1297.5,346.4 1347.22,286 1396.95,259.3 1446.67,273.4 1496.39,263.7 1546.12,305.1 1595.84,301.1" fill="none" stroke="#000" stroke-width="3.5" stroke-linejoin="round" stroke-linecap="round"/>
<polyline points="153.86,361.6 203.59,362.2 253.31,358.7 303.03,350.9 352.75,354.3 402.48,352.6 452.2,348.3 501.93,356.6 551.65,340.3 601.37,343.9 651.1,356.4 700.82,349.4 750.54,341.8 800.26,323 849.99,328.6 899.71,313.2 949.44,295.8 999.16,283.4 1048.88,250.9 1098.61,100.4" fill="none" stroke="#000" stroke-width="8.5" stroke-linecap="round" stroke-linejoin="round" stroke-dasharray="0.01 17.72"/>
<polyline points="1198.05,360.5 1247.78,314.8 1297.5,344.7 1347.22,286 1396.95,259.8 1446.67,273.8 1496.39,264.1 1546.12,304.1 1595.84,300.5" fill="none" stroke="#000" stroke-width="8.5" stroke-linecap="round" stroke-linejoin="round" stroke-dasharray="0.01 17.72"/>
<circle cx="153.86" cy="361.6" r="4.7" fill="#000"/>
<circle cx="203.59" cy="362.2" r="4.7" fill="#000"/>
<circle cx="253.31" cy="358.7" r="4.7" fill="#000"/>
<circle cx="303.03" cy="350.9" r="4.7" fill="#000"/>
<circle cx="352.75" cy="354.3" r="4.7" fill="#000"/>
<circle cx="402.48" cy="352.6" r="4.7" fill="#000"/>
<circle cx="452.2" cy="348.3" r="4.7" fill="#000"/>
<circle cx="501.93" cy="356.6" r="4.7" fill="#000"/>
<circle cx="551.65" cy="340.3" r="4.7" fill="#000"/>
<circle cx="601.37" cy="343.9" r="4.7" fill="#000"/>
<circle cx="651.1" cy="356.4" r="4.7" fill="#000"/>
<circle cx="700.82" cy="349.4" r="4.7" fill="#000"/>
<circle cx="750.54" cy="341.8" r="4.7" fill="#000"/>
<circle cx="800.26" cy="323" r="4.7" fill="#000"/>
<circle cx="849.99" cy="328.6" r="4.7" fill="#000"/>
<circle cx="899.71" cy="313.2" r="4.7" fill="#000"/>
<circle cx="949.44" cy="295.8" r="4.7" fill="#000"/>
<circle cx="999.16" cy="283.4" r="4.7" fill="#000"/>
<circle cx="1048.88" cy="250.9" r="4.7" fill="#000"/>
<circle cx="1098.61" cy="100.4" r="4.7" fill="#000"/>
<circle cx="1198.05" cy="360.5" r="4.7" fill="#000"/>
<circle cx="1247.78" cy="314.8" r="4.7" fill="#000"/>
<circle cx="1297.5" cy="344.7" r="4.7" fill="#000"/>
<circle cx="1347.22" cy="286" r="4.7" fill="#000"/>
<circle cx="1396.95" cy="259.8" r="4.7" fill="#000"/>
<circle cx="1446.67" cy="273.8" r="4.7" fill="#000"/>
<circle cx="1496.39" cy="264.1" r="4.7" fill="#000"/>
<circle cx="1546.12" cy="304.1" r="4.7" fill="#000"/>
<circle cx="1595.84" cy="300.5" r="4.7" fill="#000"/>
</g>
<g>
<line x1="946.7" y1="15.7" x2="1036.8" y2="15.7" stroke="#000" stroke-width="3.4" stroke-linecap="round"/>
<rect x="988.35" y="12.55" width="6.8" height="6.8" fill="#dadada" stroke="#b9b9b9" stroke-width="1.1"/>
<line x1="1321.7" y1="15.7" x2="1411.6" y2="15.7" stroke="#000" stroke-width="9.1" stroke-linecap="round" stroke-dasharray="0.01 17.88"/>
<circle cx="1366.4" cy="15.7" r="4.7" fill="#000"/>
</g>
<g>
<text y="23.7" font-size="23.5"><tspan x="1046.23" textLength="109.17" lengthAdjust="spacingAndGlyphs">Sleepiness</tspan> <tspan x="1160.43" textLength="55.37" lengthAdjust="spacingAndGlyphs">score</tspan></text>
<text y="23.7" font-size="23.5"><tspan x="1421.32" textLength="103.14" lengthAdjust="spacingAndGlyphs">Simulated</tspan> <tspan x="1528.78" textLength="39.99" lengthAdjust="spacingAndGlyphs">KSS</tspan> <tspan x="1574.22" textLength="55.98" lengthAdjust="spacingAndGlyphs">score</tspan></text>
<text y="63.8" font-size="38.4"><tspan x="27.15" font-size="33.8" stroke-width="1.3" textLength="8.77" lengthAdjust="spacingAndGlyphs">(</tspan><tspan x="37.05" font-size="38.4" textLength="27.19" lengthAdjust="spacingAndGlyphs">A</tspan><tspan x="65.5" font-size="33.8" stroke-width="1.3" textLength="9.3" lengthAdjust="spacingAndGlyphs">)</tspan></text>
<text y="64.1" font-size="28.8"><tspan x="83.99" textLength="143.27" lengthAdjust="spacingAndGlyphs">Simulation</tspan> <tspan x="234.86" textLength="27.88" lengthAdjust="spacingAndGlyphs">of</tspan> <tspan x="269.56" textLength="47.54" lengthAdjust="spacingAndGlyphs">KSS</tspan> <tspan x="324.25" textLength="70.79" lengthAdjust="spacingAndGlyphs">score</tspan> <tspan x="401.32" textLength="72.59" lengthAdjust="spacingAndGlyphs">using</tspan> <tspan x="479.31" textLength="101.7" lengthAdjust="spacingAndGlyphs">relative</tspan> <tspan x="587.74" textLength="137.48" lengthAdjust="spacingAndGlyphs">sleepiness</tspan> <tspan x="732.25" textLength="70.79" lengthAdjust="spacingAndGlyphs">score</tspan> <tspan x="810.97" textLength="37.03" lengthAdjust="spacingAndGlyphs">for</tspan> <tspan x="856.25" textLength="27.82" lengthAdjust="spacingAndGlyphs">W</tspan> <tspan x="891.96" textLength="64.04" lengthAdjust="spacingAndGlyphs">prior</tspan> <tspan x="964.75" textLength="28.43" lengthAdjust="spacingAndGlyphs">to</tspan> <tspan x="999.28" textLength="37.74" lengthAdjust="spacingAndGlyphs">N1</tspan> <tspan x="1043.93" textLength="106.12" lengthAdjust="spacingAndGlyphs">(latency</tspan> <tspan x="1158.65" textLength="28.43" lengthAdjust="spacingAndGlyphs">to</tspan> <tspan x="1193.21" textLength="37.1" lengthAdjust="spacingAndGlyphs">N1</tspan> <tspan x="1238.36" textLength="48.85" lengthAdjust="spacingAndGlyphs">≤20</tspan> <tspan x="1293.17" textLength="62.45" lengthAdjust="spacingAndGlyphs">min)</tspan></text>
<text x="105.6" y="200.2" font-size="23.1" text-anchor="end" textLength="44.28" lengthAdjust="spacingAndGlyphs">0.05</text>
<text x="105.6" y="316.6" font-size="23.1" text-anchor="end" textLength="44.28" lengthAdjust="spacingAndGlyphs">0.00</text>
<text x="105.6" y="433" font-size="23.1" text-anchor="end" textLength="51.86" lengthAdjust="spacingAndGlyphs">-0.05</text>
<text x="1644.3" y="109.3" font-size="23.1" textLength="12.08" lengthAdjust="spacingAndGlyphs">9</text>
<text x="1644.3" y="174.02" font-size="23.1" textLength="12.08" lengthAdjust="spacingAndGlyphs">8</text>
<text x="1644.3" y="238.74" font-size="23.1" textLength="12.08" lengthAdjust="spacingAndGlyphs">7</text>
<text x="1644.3" y="303.46" font-size="23.1" textLength="12.08" lengthAdjust="spacingAndGlyphs">6</text>
<text x="1644.3" y="368.18" font-size="23.1" textLength="12.08" lengthAdjust="spacingAndGlyphs">5</text>
<text x="1644.3" y="432.9" font-size="23.1" textLength="12.08" lengthAdjust="spacingAndGlyphs">4</text>
<text y="31.8" font-size="23" transform="rotate(-90)"><tspan x="-401.46" textLength="107.86" lengthAdjust="spacingAndGlyphs">Sleepiness</tspan> <tspan x="-288.17" textLength="55.47" lengthAdjust="spacingAndGlyphs">score</tspan> <tspan x="-226.7" textLength="12.38" lengthAdjust="spacingAndGlyphs">±</tspan> <tspan x="-209.47" textLength="45.34" lengthAdjust="spacingAndGlyphs">SEM</tspan></text>
<text y="1714.7" font-size="23" transform="rotate(-90)"><tspan x="-329.53" textLength="37.05" lengthAdjust="spacingAndGlyphs">KSS</tspan> <tspan x="-287.87" textLength="55.26" lengthAdjust="spacingAndGlyphs">score</tspan> <tspan x="-226.6" textLength="12.38" lengthAdjust="spacingAndGlyphs">±</tspan> <tspan x="-208.87" textLength="45.34" lengthAdjust="spacingAndGlyphs">SEM</tspan></text>
<text x="203.59" y="465.4" font-size="23.1" text-anchor="middle" textLength="19.1" lengthAdjust="spacingAndGlyphs">-9</text>
<text x="303.03" y="465.4" font-size="23.1" text-anchor="middle" textLength="19.1" lengthAdjust="spacingAndGlyphs">-8</text>
<text x="402.48" y="465.4" font-size="23.1" text-anchor="middle" textLength="19.1" lengthAdjust="spacingAndGlyphs">-7</text>
<text x="501.93" y="465.4" font-size="23.1" text-anchor="middle" textLength="19.1" lengthAdjust="spacingAndGlyphs">-6</text>
<text x="601.37" y="465.4" font-size="23.1" text-anchor="middle" textLength="19.1" lengthAdjust="spacingAndGlyphs">-5</text>
<text x="700.82" y="465.4" font-size="23.1" text-anchor="middle" textLength="19.1" lengthAdjust="spacingAndGlyphs">-4</text>
<text x="800.26" y="465.4" font-size="23.1" text-anchor="middle" textLength="19.1" lengthAdjust="spacingAndGlyphs">-3</text>
<text x="899.71" y="465.4" font-size="23.1" text-anchor="middle" textLength="19.1" lengthAdjust="spacingAndGlyphs">-2</text>
<text x="999.16" y="465.4" font-size="23.1" text-anchor="middle" textLength="19.1" lengthAdjust="spacingAndGlyphs">-1</text>
<text x="1098.61" y="465.4" font-size="23.1" text-anchor="middle" textLength="27.46" lengthAdjust="spacingAndGlyphs">N1</text>
<text x="1198.05" y="465.4" font-size="23.1" text-anchor="middle" textLength="11.56" lengthAdjust="spacingAndGlyphs">5</text>
<text x="1247.78" y="465.4" font-size="23.1" text-anchor="middle" textLength="23.9" lengthAdjust="spacingAndGlyphs">15</text>
<text x="1297.5" y="465.4" font-size="23.1" text-anchor="middle" textLength="23.9" lengthAdjust="spacingAndGlyphs">25</text>
<text x="1347.22" y="465.4" font-size="23.1" text-anchor="middle" textLength="23.9" lengthAdjust="spacingAndGlyphs">35</text>
<text x="1396.95" y="465.4" font-size="23.1" text-anchor="middle" textLength="23.9" lengthAdjust="spacingAndGlyphs">45</text>
<text x="1446.67" y="465.4" font-size="23.1" text-anchor="middle" textLength="23.9" lengthAdjust="spacingAndGlyphs">55</text>
<text x="1496.39" y="465.4" font-size="23.1" text-anchor="middle" textLength="23.9" lengthAdjust="spacingAndGlyphs">65</text>
<text x="1546.12" y="465.4" font-size="23.1" text-anchor="middle" textLength="23.9" lengthAdjust="spacingAndGlyphs">75</text>
<text x="1595.84" y="465.4" font-size="23.1" text-anchor="middle" textLength="23.9" lengthAdjust="spacingAndGlyphs">85</text>
<text y="514.5" font-size="23.5"><tspan x="455.57" textLength="86.6" lengthAdjust="spacingAndGlyphs">Minutes</tspan> <tspan x="546.71" textLength="107.11" lengthAdjust="spacingAndGlyphs">preceding</tspan> <tspan x="659.53" textLength="32.59" lengthAdjust="spacingAndGlyphs">the</tspan> <tspan x="696.14" textLength="40.28" lengthAdjust="spacingAndGlyphs">first</tspan> <tspan x="741.36" textLength="29.7" lengthAdjust="spacingAndGlyphs">N1</tspan> <tspan x="776.49" textLength="64.49" lengthAdjust="spacingAndGlyphs">epoch</tspan></text>
<text y="514.5" font-size="23.5"><tspan x="1303.05" textLength="13.05" lengthAdjust="spacingAndGlyphs">9</tspan> <tspan x="1322.08" textLength="73.77" lengthAdjust="spacingAndGlyphs">10-min</tspan> <tspan x="1401.05" textLength="89.39" lengthAdjust="spacingAndGlyphs">intervals</tspan></text>
</g>
<g transform="translate(0 0.4)">
<line x1="129" y1="612.8" x2="129" y2="946.8" stroke="#848484" stroke-width="2"/>
<line x1="1620.35" y1="612.8" x2="1620.35" y2="946.8" stroke="#848484" stroke-width="2"/>
<line x1="121.2" y1="613.2" x2="129" y2="613.2" stroke="#848484" stroke-width="1.8"/>
<line x1="121.2" y1="724.4" x2="129" y2="724.4" stroke="#848484" stroke-width="1.8"/>
<line x1="121.2" y1="835.6" x2="129" y2="835.6" stroke="#848484" stroke-width="1.8"/>
<line x1="121.2" y1="946.8" x2="129" y2="946.8" stroke="#848484" stroke-width="1.8"/>
<line x1="1620.35" y1="637.8" x2="1628.35" y2="637.8" stroke="#848484" stroke-width="1.8"/>
<line x1="1620.35" y1="699.6" x2="1628.35" y2="699.6" stroke="#848484" stroke-width="1.8"/>
<line x1="1620.35" y1="761.4" x2="1628.35" y2="761.4" stroke="#848484" stroke-width="1.8"/>
<line x1="1620.35" y1="823.2" x2="1628.35" y2="823.2" stroke="#848484" stroke-width="1.8"/>
<line x1="1620.35" y1="885" x2="1628.35" y2="885" stroke="#848484" stroke-width="1.8"/>
<line x1="1620.35" y1="946.8" x2="1628.35" y2="946.8" stroke="#848484" stroke-width="1.8"/>
<line x1="129" y1="835.6" x2="1620.35" y2="835.6" stroke="#bfbfbf" stroke-width="1.8"/>
<line x1="129" y1="835.6" x2="129" y2="827.4" stroke="#bfbfbf" stroke-width="1.8"/>
<line x1="178.72" y1="835.6" x2="178.72" y2="827.4" stroke="#bfbfbf" stroke-width="1.8"/>
<line x1="228.45" y1="835.6" x2="228.45" y2="827.4" stroke="#bfbfbf" stroke-width="1.8"/>
<line x1="278.17" y1="835.6" x2="278.17" y2="827.4" stroke="#bfbfbf" stroke-width="1.8"/>
<line x1="327.89" y1="835.6" x2="327.89" y2="827.4" stroke="#bfbfbf" stroke-width="1.8"/>
<line x1="377.62" y1="835.6" x2="377.62" y2="827.4" stroke="#bfbfbf" stroke-width="1.8"/>
<line x1="427.34" y1="835.6" x2="427.34" y2="827.4" stroke="#bfbfbf" stroke-width="1.8"/>
<line x1="477.06" y1="835.6" x2="477.06" y2="827.4" stroke="#bfbfbf" stroke-width="1.8"/>
<line x1="526.79" y1="835.6" x2="526.79" y2="827.4" stroke="#bfbfbf" stroke-width="1.8"/>
<line x1="576.51" y1="835.6" x2="576.51" y2="827.4" stroke="#bfbfbf" stroke-width="1.8"/>
<line x1="626.23" y1="835.6" x2="626.23" y2="827.4" stroke="#bfbfbf" stroke-width="1.8"/>
<line x1="675.96" y1="835.6" x2="675.96" y2="827.4" stroke="#bfbfbf" stroke-width="1.8"/>
<line x1="725.68" y1="835.6" x2="725.68" y2="827.4" stroke="#bfbfbf" stroke-width="1.8"/>
<line x1="775.4" y1="835.6" x2="775.4" y2="827.4" stroke="#bfbfbf" stroke-width="1.8"/>
<line x1="825.13" y1="835.6" x2="825.13" y2="827.4" stroke="#bfbfbf" stroke-width="1.8"/>
<line x1="874.85" y1="835.6" x2="874.85" y2="827.4" stroke="#bfbfbf" stroke-width="1.8"/>
<line x1="924.57" y1="835.6" x2="924.57" y2="827.4" stroke="#bfbfbf" stroke-width="1.8"/>
<line x1="974.3" y1="835.6" x2="974.3" y2="827.4" stroke="#bfbfbf" stroke-width="1.8"/>
<line x1="1024.02" y1="835.6" x2="1024.02" y2="827.4" stroke="#bfbfbf" stroke-width="1.8"/>
<line x1="1073.74" y1="835.6" x2="1073.74" y2="827.4" stroke="#bfbfbf" stroke-width="1.8"/>
<line x1="1123.47" y1="835.6" x2="1123.47" y2="827.4" stroke="#bfbfbf" stroke-width="1.8"/>
<line x1="1173.19" y1="835.6" x2="1173.19" y2="827.4" stroke="#bfbfbf" stroke-width="1.8"/>
<line x1="1222.91" y1="835.6" x2="1222.91" y2="827.4" stroke="#bfbfbf" stroke-width="1.8"/>
<line x1="1272.64" y1="835.6" x2="1272.64" y2="827.4" stroke="#bfbfbf" stroke-width="1.8"/>
<line x1="1322.36" y1="835.6" x2="1322.36" y2="827.4" stroke="#bfbfbf" stroke-width="1.8"/>
<line x1="1372.08" y1="835.6" x2="1372.08" y2="827.4" stroke="#bfbfbf" stroke-width="1.8"/>
<line x1="1421.81" y1="835.6" x2="1421.81" y2="827.4" stroke="#bfbfbf" stroke-width="1.8"/>
<line x1="1471.53" y1="835.6" x2="1471.53" y2="827.4" stroke="#bfbfbf" stroke-width="1.8"/>
<line x1="1521.25" y1="835.6" x2="1521.25" y2="827.4" stroke="#bfbfbf" stroke-width="1.8"/>
<line x1="1570.98" y1="835.6" x2="1570.98" y2="827.4" stroke="#bfbfbf" stroke-width="1.8"/>
<line x1="1620.35" y1="835.6" x2="1620.35" y2="827.4" stroke="#bfbfbf" stroke-width="1.8"/>
<line x1="121.2" y1="835.6" x2="128.2" y2="835.6" stroke="#848484" stroke-width="1.8"/>
<line x1="178.72" y1="946.8" x2="178.72" y2="995.6" stroke="#bfbfbf" stroke-width="1.8"/>
<line x1="228.45" y1="946.8" x2="228.45" y2="995.6" stroke="#bfbfbf" stroke-width="1.8"/>
<line x1="278.17" y1="946.8" x2="278.17" y2="995.6" stroke="#bfbfbf" stroke-width="1.8"/>
<line x1="327.89" y1="946.8" x2="327.89" y2="995.6" stroke="#bfbfbf" stroke-width="1.8"/>
<line x1="377.62" y1="946.8" x2="377.62" y2="995.6" stroke="#bfbfbf" stroke-width="1.8"/>
<line x1="427.34" y1="946.8" x2="427.34" y2="995.6" stroke="#bfbfbf" stroke-width="1.8"/>
<line x1="477.06" y1="946.8" x2="477.06" y2="995.6" stroke="#bfbfbf" stroke-width="1.8"/>
<line x1="526.79" y1="946.8" x2="526.79" y2="995.6" stroke="#bfbfbf" stroke-width="1.8"/>
<line x1="576.51" y1="946.8" x2="576.51" y2="995.6" stroke="#bfbfbf" stroke-width="1.8"/>
<line x1="626.23" y1="946.8" x2="626.23" y2="995.6" stroke="#bfbfbf" stroke-width="1.8"/>
<line x1="675.96" y1="946.8" x2="675.96" y2="995.6" stroke="#bfbfbf" stroke-width="1.8"/>
<line x1="725.68" y1="946.8" x2="725.68" y2="995.6" stroke="#bfbfbf" stroke-width="1.8"/>
<line x1="775.4" y1="946.8" x2="775.4" y2="995.6" stroke="#bfbfbf" stroke-width="1.8"/>
<line x1="825.13" y1="946.8" x2="825.13" y2="995.6" stroke="#bfbfbf" stroke-width="1.8"/>
<line x1="874.85" y1="946.8" x2="874.85" y2="995.6" stroke="#bfbfbf" stroke-width="1.8"/>
<line x1="924.57" y1="946.8" x2="924.57" y2="995.6" stroke="#bfbfbf" stroke-width="1.8"/>
<line x1="974.3" y1="946.8" x2="974.3" y2="995.6" stroke="#bfbfbf" stroke-width="1.8"/>
<line x1="1024.02" y1="946.8" x2="1024.02" y2="995.6" stroke="#bfbfbf" stroke-width="1.8"/>
<line x1="1073.74" y1="946.8" x2="1073.74" y2="995.6" stroke="#bfbfbf" stroke-width="1.8"/>
<line x1="1123.47" y1="946.8" x2="1123.47" y2="995.6" stroke="#bfbfbf" stroke-width="1.8"/>
<line x1="1173.19" y1="946.8" x2="1173.19" y2="1045.5" stroke="#bfbfbf" stroke-width="1.8"/>
<line x1="1222.91" y1="946.8" x2="1222.91" y2="995.6" stroke="#bfbfbf" stroke-width="1.8"/>
<line x1="1272.64" y1="946.8" x2="1272.64" y2="995.6" stroke="#bfbfbf" stroke-width="1.8"/>
<line x1="1322.36" y1="946.8" x2="1322.36" y2="995.6" stroke="#bfbfbf" stroke-width="1.8"/>
<line x1="1372.08" y1="946.8" x2="1372.08" y2="995.6" stroke="#bfbfbf" stroke-width="1.8"/>
<line x1="1421.81" y1="946.8" x2="1421.81" y2="995.6" stroke="#bfbfbf" stroke-width="1.8"/>
<line x1="1471.53" y1="946.8" x2="1471.53" y2="995.6" stroke="#bfbfbf" stroke-width="1.8"/>
<line x1="1521.25" y1="946.8" x2="1521.25" y2="995.6" stroke="#bfbfbf" stroke-width="1.8"/>
<line x1="1570.98" y1="946.8" x2="1570.98" y2="995.6" stroke="#bfbfbf" stroke-width="1.8"/>
<line x1="129" y1="946.8" x2="129" y2="1045.5" stroke="#bfbfbf" stroke-width="1.8"/>
<line x1="1620.35" y1="946.8" x2="1620.35" y2="1045.5" stroke="#bfbfbf" stroke-width="1.8"/>
</g>
<g transform="translate(0 0.4)">
<line x1="153.86" y1="874.5" x2="153.86" y2="899.5" stroke="#a8a8a8" stroke-width="2"/>
<line x1="145.86" y1="874.5" x2="161.86" y2="874.5" stroke="#b4b4b4" stroke-width="1"/>
<line x1="145.86" y1="874.7" x2="161.86" y2="874.7" stroke="#787878" stroke-width="3.5" stroke-dasharray="9.7 4.3 2 10"/>
<line x1="145.86" y1="899.5" x2="161.86" y2="899.5" stroke="#b4b4b4" stroke-width="1"/>
<line x1="145.86" y1="899.7" x2="161.86" y2="899.7" stroke="#787878" stroke-width="3.5" stroke-dasharray="9.7 4.3 2 10"/>
<line x1="203.59" y1="874.8" x2="203.59" y2="899.8" stroke="#a8a8a8" stroke-width="2"/>
<line x1="195.59" y1="874.8" x2="211.59" y2="874.8" stroke="#b4b4b4" stroke-width="1"/>
<line x1="195.59" y1="875" x2="211.59" y2="875" stroke="#787878" stroke-width="3.5" stroke-dasharray="9.7 4.3 2 10"/>
<line x1="195.59" y1="899.8" x2="211.59" y2="899.8" stroke="#b4b4b4" stroke-width="1"/>
<line x1="195.59" y1="900" x2="211.59" y2="900" stroke="#787878" stroke-width="3.5" stroke-dasharray="9.7 4.3 2 10"/>
<line x1="253.31" y1="869.4" x2="253.31" y2="894.4" stroke="#a8a8a8" stroke-width="2"/>
<line x1="245.31" y1="869.4" x2="261.31" y2="869.4" stroke="#b4b4b4" stroke-width="1"/>
<line x1="245.31" y1="869.6" x2="261.31" y2="869.6" stroke="#787878" stroke-width="3.5" stroke-dasharray="9.7 4.3 2 10"/>
<line x1="245.31" y1="894.4" x2="261.31" y2="894.4" stroke="#b4b4b4" stroke-width="1"/>
<line x1="245.31" y1="894.6" x2="261.31" y2="894.6" stroke="#787878" stroke-width="3.5" stroke-dasharray="9.7 4.3 2 10"/>
<line x1="303.03" y1="862.8" x2="303.03" y2="887.8" stroke="#a8a8a8" stroke-width="2"/>
<line x1="295.03" y1="862.8" x2="311.03" y2="862.8" stroke="#b4b4b4" stroke-width="1"/>
<line x1="295.03" y1="863" x2="311.03" y2="863" stroke="#787878" stroke-width="3.5" stroke-dasharray="9.7 4.3 2 10"/>
<line x1="295.03" y1="887.8" x2="311.03" y2="887.8" stroke="#b4b4b4" stroke-width="1"/>
<line x1="295.03" y1="888" x2="311.03" y2="888" stroke="#787878" stroke-width="3.5" stroke-dasharray="9.7 4.3 2 10"/>
<line x1="352.75" y1="865.8" x2="352.75" y2="890.8" stroke="#a8a8a8" stroke-width="2"/>
<line x1="344.75" y1="865.8" x2="360.75" y2="865.8" stroke="#b4b4b4" stroke-width="1"/>
<line x1="344.75" y1="866" x2="360.75" y2="866" stroke="#787878" stroke-width="3.5" stroke-dasharray="9.7 4.3 2 10"/>
<line x1="344.75" y1="890.8" x2="360.75" y2="890.8" stroke="#b4b4b4" stroke-width="1"/>
<line x1="344.75" y1="891" x2="360.75" y2="891" stroke="#787878" stroke-width="3.5" stroke-dasharray="9.7 4.3 2 10"/>
<line x1="402.48" y1="856.1" x2="402.48" y2="881.1" stroke="#a8a8a8" stroke-width="2"/>
<line x1="394.48" y1="856.1" x2="410.48" y2="856.1" stroke="#b4b4b4" stroke-width="1"/>
<line x1="394.48" y1="856.3" x2="410.48" y2="856.3" stroke="#787878" stroke-width="3.5" stroke-dasharray="9.7 4.3 2 10"/>
<line x1="394.48" y1="881.1" x2="410.48" y2="881.1" stroke="#b4b4b4" stroke-width="1"/>
<line x1="394.48" y1="881.3" x2="410.48" y2="881.3" stroke="#787878" stroke-width="3.5" stroke-dasharray="9.7 4.3 2 10"/>
<line x1="452.2" y1="859.1" x2="452.2" y2="884.1" stroke="#a8a8a8" stroke-width="2"/>
<line x1="444.2" y1="859.1" x2="460.2" y2="859.1" stroke="#b4b4b4" stroke-width="1"/>
<line x1="444.2" y1="859.3" x2="460.2" y2="859.3" stroke="#787878" stroke-width="3.5" stroke-dasharray="9.7 4.3 2 10"/>
<line x1="444.2" y1="884.1" x2="460.2" y2="884.1" stroke="#b4b4b4" stroke-width="1"/>
<line x1="444.2" y1="884.3" x2="460.2" y2="884.3" stroke="#787878" stroke-width="3.5" stroke-dasharray="9.7 4.3 2 10"/>
<line x1="501.93" y1="866.9" x2="501.93" y2="891.9" stroke="#a8a8a8" stroke-width="2"/>
<line x1="493.93" y1="866.9" x2="509.93" y2="866.9" stroke="#b4b4b4" stroke-width="1"/>
<line x1="493.93" y1="867.1" x2="509.93" y2="867.1" stroke="#787878" stroke-width="3.5" stroke-dasharray="9.7 4.3 2 10"/>
<line x1="493.93" y1="891.9" x2="509.93" y2="891.9" stroke="#b4b4b4" stroke-width="1"/>
<line x1="493.93" y1="892.1" x2="509.93" y2="892.1" stroke="#787878" stroke-width="3.5" stroke-dasharray="9.7 4.3 2 10"/>
<line x1="551.65" y1="855.8" x2="551.65" y2="880.8" stroke="#a8a8a8" stroke-width="2"/>
<line x1="543.65" y1="855.8" x2="559.65" y2="855.8" stroke="#b4b4b4" stroke-width="1"/>
<line x1="543.65" y1="856" x2="559.65" y2="856" stroke="#787878" stroke-width="3.5" stroke-dasharray="9.7 4.3 2 10"/>
<line x1="543.65" y1="880.8" x2="559.65" y2="880.8" stroke="#b4b4b4" stroke-width="1"/>
<line x1="543.65" y1="881" x2="559.65" y2="881" stroke="#787878" stroke-width="3.5" stroke-dasharray="9.7 4.3 2 10"/>
<line x1="601.37" y1="853.7" x2="601.37" y2="878.7" stroke="#a8a8a8" stroke-width="2"/>
<line x1="593.37" y1="853.7" x2="609.37" y2="853.7" stroke="#b4b4b4" stroke-width="1"/>
<line x1="593.37" y1="853.9" x2="609.37" y2="853.9" stroke="#787878" stroke-width="3.5" stroke-dasharray="9.7 4.3 2 10"/>
<line x1="593.37" y1="878.7" x2="609.37" y2="878.7" stroke="#b4b4b4" stroke-width="1"/>
<line x1="593.37" y1="878.9" x2="609.37" y2="878.9" stroke="#787878" stroke-width="3.5" stroke-dasharray="9.7 4.3 2 10"/>
<line x1="651.1" y1="869.9" x2="651.1" y2="894.9" stroke="#a8a8a8" stroke-width="2"/>
<line x1="643.1" y1="869.9" x2="659.1" y2="869.9" stroke="#b4b4b4" stroke-width="1"/>
<line x1="643.1" y1="870.1" x2="659.1" y2="870.1" stroke="#787878" stroke-width="3.5" stroke-dasharray="9.7 4.3 2 10"/>
<line x1="643.1" y1="894.9" x2="659.1" y2="894.9" stroke="#b4b4b4" stroke-width="1"/>
<line x1="643.1" y1="895.1" x2="659.1" y2="895.1" stroke="#787878" stroke-width="3.5" stroke-dasharray="9.7 4.3 2 10"/>
<line x1="700.82" y1="868.5" x2="700.82" y2="893.5" stroke="#a8a8a8" stroke-width="2"/>
<line x1="692.82" y1="868.5" x2="708.82" y2="868.5" stroke="#b4b4b4" stroke-width="1"/>
<line x1="692.82" y1="868.7" x2="708.82" y2="868.7" stroke="#787878" stroke-width="3.5" stroke-dasharray="9.7 4.3 2 10"/>
<line x1="692.82" y1="893.5" x2="708.82" y2="893.5" stroke="#b4b4b4" stroke-width="1"/>
<line x1="692.82" y1="893.7" x2="708.82" y2="893.7" stroke="#787878" stroke-width="3.5" stroke-dasharray="9.7 4.3 2 10"/>
<line x1="750.54" y1="863.5" x2="750.54" y2="888.5" stroke="#a8a8a8" stroke-width="2"/>
<line x1="742.54" y1="863.5" x2="758.54" y2="863.5" stroke="#b4b4b4" stroke-width="1"/>
<line x1="742.54" y1="863.7" x2="758.54" y2="863.7" stroke="#787878" stroke-width="3.5" stroke-dasharray="9.7 4.3 2 10"/>
<line x1="742.54" y1="888.5" x2="758.54" y2="888.5" stroke="#b4b4b4" stroke-width="1"/>
<line x1="742.54" y1="888.7" x2="758.54" y2="888.7" stroke="#787878" stroke-width="3.5" stroke-dasharray="9.7 4.3 2 10"/>
<line x1="800.26" y1="842.3" x2="800.26" y2="867.3" stroke="#a8a8a8" stroke-width="2"/>
<line x1="792.26" y1="842.3" x2="808.26" y2="842.3" stroke="#b4b4b4" stroke-width="1"/>
<line x1="792.26" y1="842.5" x2="808.26" y2="842.5" stroke="#787878" stroke-width="3.5" stroke-dasharray="9.7 4.3 2 10"/>
<line x1="792.26" y1="867.3" x2="808.26" y2="867.3" stroke="#b4b4b4" stroke-width="1"/>
<line x1="792.26" y1="867.5" x2="808.26" y2="867.5" stroke="#787878" stroke-width="3.5" stroke-dasharray="9.7 4.3 2 10"/>
<line x1="849.99" y1="846.7" x2="849.99" y2="871.7" stroke="#a8a8a8" stroke-width="2"/>
<line x1="841.99" y1="846.7" x2="857.99" y2="846.7" stroke="#b4b4b4" stroke-width="1"/>
<line x1="841.99" y1="846.9" x2="857.99" y2="846.9" stroke="#787878" stroke-width="3.5" stroke-dasharray="9.7 4.3 2 10"/>
<line x1="841.99" y1="871.7" x2="857.99" y2="871.7" stroke="#b4b4b4" stroke-width="1"/>
<line x1="841.99" y1="871.9" x2="857.99" y2="871.9" stroke="#787878" stroke-width="3.5" stroke-dasharray="9.7 4.3 2 10"/>
<line x1="899.71" y1="827.9" x2="899.71" y2="852.9" stroke="#a8a8a8" stroke-width="2"/>
<line x1="891.71" y1="827.9" x2="907.71" y2="827.9" stroke="#b4b4b4" stroke-width="1"/>
<line x1="891.71" y1="828.1" x2="907.71" y2="828.1" stroke="#787878" stroke-width="3.5" stroke-dasharray="9.7 4.3 2 10"/>
<line x1="891.71" y1="852.9" x2="907.71" y2="852.9" stroke="#b4b4b4" stroke-width="1"/>
<line x1="891.71" y1="853.1" x2="907.71" y2="853.1" stroke="#787878" stroke-width="3.5" stroke-dasharray="9.7 4.3 2 10"/>
<line x1="949.44" y1="810.5" x2="949.44" y2="835.5" stroke="#a8a8a8" stroke-width="2"/>
<line x1="941.44" y1="810.5" x2="957.44" y2="810.5" stroke="#b4b4b4" stroke-width="1"/>
<line x1="941.44" y1="810.7" x2="957.44" y2="810.7" stroke="#787878" stroke-width="3.5" stroke-dasharray="9.7 4.3 2 10"/>
<line x1="941.44" y1="835.5" x2="957.44" y2="835.5" stroke="#b4b4b4" stroke-width="1"/>
<line x1="941.44" y1="835.7" x2="957.44" y2="835.7" stroke="#787878" stroke-width="3.5" stroke-dasharray="9.7 4.3 2 10"/>
<line x1="999.16" y1="799.9" x2="999.16" y2="824.9" stroke="#a8a8a8" stroke-width="2"/>
<line x1="991.16" y1="799.9" x2="1007.16" y2="799.9" stroke="#b4b4b4" stroke-width="1"/>
<line x1="991.16" y1="800.1" x2="1007.16" y2="800.1" stroke="#787878" stroke-width="3.5" stroke-dasharray="9.7 4.3 2 10"/>
<line x1="991.16" y1="824.9" x2="1007.16" y2="824.9" stroke="#b4b4b4" stroke-width="1"/>
<line x1="991.16" y1="825.1" x2="1007.16" y2="825.1" stroke="#787878" stroke-width="3.5" stroke-dasharray="9.7 4.3 2 10"/>
<line x1="1048.88" y1="769.5" x2="1048.88" y2="794.5" stroke="#a8a8a8" stroke-width="2"/>
<line x1="1040.88" y1="769.5" x2="1056.88" y2="769.5" stroke="#b4b4b4" stroke-width="1"/>
<line x1="1040.88" y1="769.7" x2="1056.88" y2="769.7" stroke="#787878" stroke-width="3.5" stroke-dasharray="9.7 4.3 2 10"/>
<line x1="1040.88" y1="794.5" x2="1056.88" y2="794.5" stroke="#b4b4b4" stroke-width="1"/>
<line x1="1040.88" y1="794.7" x2="1056.88" y2="794.7" stroke="#787878" stroke-width="3.5" stroke-dasharray="9.7 4.3 2 10"/>
<line x1="1098.61" y1="625.7" x2="1098.61" y2="650.7" stroke="#a8a8a8" stroke-width="2"/>
<line x1="1090.61" y1="625.7" x2="1106.61" y2="625.7" stroke="#b4b4b4" stroke-width="1"/>
<line x1="1090.61" y1="625.9" x2="1106.61" y2="625.9" stroke="#787878" stroke-width="3.5" stroke-dasharray="9.7 4.3 2 10"/>
<line x1="1090.61" y1="650.7" x2="1106.61" y2="650.7" stroke="#b4b4b4" stroke-width="1"/>
<line x1="1090.61" y1="650.9" x2="1106.61" y2="650.9" stroke="#787878" stroke-width="3.5" stroke-dasharray="9.7 4.3 2 10"/>
<line x1="1198.05" y1="889.3" x2="1198.05" y2="914.3" stroke="#a8a8a8" stroke-width="2"/>
<line x1="1190.05" y1="889.3" x2="1206.05" y2="889.3" stroke="#b4b4b4" stroke-width="1"/>
<line x1="1190.05" y1="889.5" x2="1206.05" y2="889.5" stroke="#787878" stroke-width="3.5" stroke-dasharray="9.7 4.3 2 10"/>
<line x1="1190.05" y1="914.3" x2="1206.05" y2="914.3" stroke="#b4b4b4" stroke-width="1"/>
<line x1="1190.05" y1="914.5" x2="1206.05" y2="914.5" stroke="#787878" stroke-width="3.5" stroke-dasharray="9.7 4.3 2 10"/>
<line x1="1247.78" y1="832.2" x2="1247.78" y2="857.2" stroke="#a8a8a8" stroke-width="2"/>
<line x1="1239.78" y1="832.2" x2="1255.78" y2="832.2" stroke="#b4b4b4" stroke-width="1"/>
<line x1="1239.78" y1="832.4" x2="1255.78" y2="832.4" stroke="#787878" stroke-width="3.5" stroke-dasharray="9.7 4.3 2 10"/>
<line x1="1239.78" y1="857.2" x2="1255.78" y2="857.2" stroke="#b4b4b4" stroke-width="1"/>
<line x1="1239.78" y1="857.4" x2="1255.78" y2="857.4" stroke="#787878" stroke-width="3.5" stroke-dasharray="9.7 4.3 2 10"/>
<line x1="1297.5" y1="867.2" x2="1297.5" y2="892.2" stroke="#a8a8a8" stroke-width="2"/>
<line x1="1289.5" y1="867.2" x2="1305.5" y2="867.2" stroke="#b4b4b4" stroke-width="1"/>
<line x1="1289.5" y1="867.4" x2="1305.5" y2="867.4" stroke="#787878" stroke-width="3.5" stroke-dasharray="9.7 4.3 2 10"/>
<line x1="1289.5" y1="892.2" x2="1305.5" y2="892.2" stroke="#b4b4b4" stroke-width="1"/>
<line x1="1289.5" y1="892.4" x2="1305.5" y2="892.4" stroke="#787878" stroke-width="3.5" stroke-dasharray="9.7 4.3 2 10"/>
<line x1="1347.22" y1="804.3" x2="1347.22" y2="829.3" stroke="#a8a8a8" stroke-width="2"/>
<line x1="1339.22" y1="804.3" x2="1355.22" y2="804.3" stroke="#b4b4b4" stroke-width="1"/>
<line x1="1339.22" y1="804.5" x2="1355.22" y2="804.5" stroke="#787878" stroke-width="3.5" stroke-dasharray="9.7 4.3 2 10"/>
<line x1="1339.22" y1="829.3" x2="1355.22" y2="829.3" stroke="#b4b4b4" stroke-width="1"/>
<line x1="1339.22" y1="829.5" x2="1355.22" y2="829.5" stroke="#787878" stroke-width="3.5" stroke-dasharray="9.7 4.3 2 10"/>
<line x1="1396.95" y1="757" x2="1396.95" y2="782" stroke="#a8a8a8" stroke-width="2"/>
<line x1="1388.95" y1="757" x2="1404.95" y2="757" stroke="#b4b4b4" stroke-width="1"/>
<line x1="1388.95" y1="757.2" x2="1404.95" y2="757.2" stroke="#787878" stroke-width="3.5" stroke-dasharray="9.7 4.3 2 10"/>
<line x1="1388.95" y1="782" x2="1404.95" y2="782" stroke="#b4b4b4" stroke-width="1"/>
<line x1="1388.95" y1="782.2" x2="1404.95" y2="782.2" stroke="#787878" stroke-width="3.5" stroke-dasharray="9.7 4.3 2 10"/>
<line x1="1446.67" y1="778" x2="1446.67" y2="803" stroke="#a8a8a8" stroke-width="2"/>
<line x1="1438.67" y1="778" x2="1454.67" y2="778" stroke="#b4b4b4" stroke-width="1"/>
<line x1="1438.67" y1="778.2" x2="1454.67" y2="778.2" stroke="#787878" stroke-width="3.5" stroke-dasharray="9.7 4.3 2 10"/>
<line x1="1438.67" y1="803" x2="1454.67" y2="803" stroke="#b4b4b4" stroke-width="1"/>
<line x1="1438.67" y1="803.2" x2="1454.67" y2="803.2" stroke="#787878" stroke-width="3.5" stroke-dasharray="9.7 4.3 2 10"/>
<line x1="1496.39" y1="760.7" x2="1496.39" y2="785.7" stroke="#a8a8a8" stroke-width="2"/>
<line x1="1488.39" y1="760.7" x2="1504.39" y2="760.7" stroke="#b4b4b4" stroke-width="1"/>
<line x1="1488.39" y1="760.9" x2="1504.39" y2="760.9" stroke="#787878" stroke-width="3.5" stroke-dasharray="9.7 4.3 2 10"/>
<line x1="1488.39" y1="785.7" x2="1504.39" y2="785.7" stroke="#b4b4b4" stroke-width="1"/>
<line x1="1488.39" y1="785.9" x2="1504.39" y2="785.9" stroke="#787878" stroke-width="3.5" stroke-dasharray="9.7 4.3 2 10"/>
<line x1="1546.12" y1="831.5" x2="1546.12" y2="856.5" stroke="#a8a8a8" stroke-width="2"/>
<line x1="1538.12" y1="831.5" x2="1554.12" y2="831.5" stroke="#b4b4b4" stroke-width="1"/>
<line x1="1538.12" y1="831.7" x2="1554.12" y2="831.7" stroke="#787878" stroke-width="3.5" stroke-dasharray="9.7 4.3 2 10"/>
<line x1="1538.12" y1="856.5" x2="1554.12" y2="856.5" stroke="#b4b4b4" stroke-width="1"/>
<line x1="1538.12" y1="856.7" x2="1554.12" y2="856.7" stroke="#787878" stroke-width="3.5" stroke-dasharray="9.7 4.3 2 10"/>
<line x1="1595.84" y1="818.5" x2="1595.84" y2="843.5" stroke="#a8a8a8" stroke-width="2"/>
<line x1="1587.84" y1="818.5" x2="1603.84" y2="818.5" stroke="#b4b4b4" stroke-width="1"/>
<line x1="1587.84" y1="818.7" x2="1603.84" y2="818.7" stroke="#787878" stroke-width="3.5" stroke-dasharray="9.7 4.3 2 10"/>
<line x1="1587.84" y1="843.5" x2="1603.84" y2="843.5" stroke="#b4b4b4" stroke-width="1"/>
<line x1="1587.84" y1="843.7" x2="1603.84" y2="843.7" stroke="#787878" stroke-width="3.5" stroke-dasharray="9.7 4.3 2 10"/>
<line x1="153.86" y1="876.1" x2="153.86" y2="896.9" stroke="#000" stroke-width="3"/>
<line x1="145.86" y1="876.1" x2="161.86" y2="876.1" stroke="#000" stroke-width="3"/>
<line x1="145.86" y1="896.9" x2="161.86" y2="896.9" stroke="#000" stroke-width="3"/>
<line x1="203.59" y1="875.6" x2="203.59" y2="899" stroke="#000" stroke-width="3"/>
<line x1="195.59" y1="875.6" x2="211.59" y2="875.6" stroke="#000" stroke-width="3"/>
<line x1="195.59" y1="899" x2="211.59" y2="899" stroke="#000" stroke-width="3"/>
<line x1="253.31" y1="870" x2="253.31" y2="894" stroke="#000" stroke-width="3"/>
<line x1="245.31" y1="870" x2="261.31" y2="870" stroke="#000" stroke-width="3"/>
<line x1="245.31" y1="894" x2="261.31" y2="894" stroke="#000" stroke-width="3"/>
<line x1="303.03" y1="862.7" x2="303.03" y2="886.9" stroke="#000" stroke-width="3"/>
<line x1="295.03" y1="862.7" x2="311.03" y2="862.7" stroke="#000" stroke-width="3"/>
<line x1="295.03" y1="886.9" x2="311.03" y2="886.9" stroke="#000" stroke-width="3"/>
<line x1="352.75" y1="865.7" x2="352.75" y2="890.5" stroke="#000" stroke-width="3"/>
<line x1="344.75" y1="865.7" x2="360.75" y2="865.7" stroke="#000" stroke-width="3"/>
<line x1="344.75" y1="890.5" x2="360.75" y2="890.5" stroke="#000" stroke-width="3"/>
<line x1="402.48" y1="856.6" x2="402.48" y2="879.6" stroke="#000" stroke-width="3"/>
<line x1="394.48" y1="856.6" x2="410.48" y2="856.6" stroke="#000" stroke-width="3"/>
<line x1="394.48" y1="879.6" x2="410.48" y2="879.6" stroke="#000" stroke-width="3"/>
<line x1="452.2" y1="858.3" x2="452.2" y2="884.3" stroke="#000" stroke-width="3"/>
<line x1="444.2" y1="858.3" x2="460.2" y2="858.3" stroke="#000" stroke-width="3"/>
<line x1="444.2" y1="884.3" x2="460.2" y2="884.3" stroke="#000" stroke-width="3"/>
<line x1="501.93" y1="870.4" x2="501.93" y2="887.4" stroke="#000" stroke-width="3"/>
<line x1="493.93" y1="870.4" x2="509.93" y2="870.4" stroke="#000" stroke-width="3"/>
<line x1="493.93" y1="887.4" x2="509.93" y2="887.4" stroke="#000" stroke-width="3"/>
<line x1="551.65" y1="858.3" x2="551.65" y2="877.3" stroke="#000" stroke-width="3"/>
<line x1="543.65" y1="858.3" x2="559.65" y2="858.3" stroke="#000" stroke-width="3"/>
<line x1="543.65" y1="877.3" x2="559.65" y2="877.3" stroke="#000" stroke-width="3"/>
<line x1="601.37" y1="857.4" x2="601.37" y2="872.6" stroke="#000" stroke-width="3"/>
<line x1="593.37" y1="857.4" x2="609.37" y2="857.4" stroke="#000" stroke-width="3"/>
<line x1="593.37" y1="872.6" x2="609.37" y2="872.6" stroke="#000" stroke-width="3"/>
<line x1="651.1" y1="872.6" x2="651.1" y2="890.8" stroke="#000" stroke-width="3"/>
<line x1="643.1" y1="872.6" x2="659.1" y2="872.6" stroke="#000" stroke-width="3"/>
<line x1="643.1" y1="890.8" x2="659.1" y2="890.8" stroke="#000" stroke-width="3"/>
<line x1="700.82" y1="871.7" x2="700.82" y2="889.7" stroke="#000" stroke-width="3"/>
<line x1="692.82" y1="871.7" x2="708.82" y2="871.7" stroke="#000" stroke-width="3"/>
<line x1="692.82" y1="889.7" x2="708.82" y2="889.7" stroke="#000" stroke-width="3"/>
<line x1="750.54" y1="867.5" x2="750.54" y2="883.9" stroke="#000" stroke-width="3"/>
<line x1="742.54" y1="867.5" x2="758.54" y2="867.5" stroke="#000" stroke-width="3"/>
<line x1="742.54" y1="883.9" x2="758.54" y2="883.9" stroke="#000" stroke-width="3"/>
<line x1="800.26" y1="843.5" x2="800.26" y2="865.7" stroke="#000" stroke-width="3"/>
<line x1="792.26" y1="843.5" x2="808.26" y2="843.5" stroke="#000" stroke-width="3"/>
<line x1="792.26" y1="865.7" x2="808.26" y2="865.7" stroke="#000" stroke-width="3"/>
<line x1="849.99" y1="851" x2="849.99" y2="866.6" stroke="#000" stroke-width="3"/>
<line x1="841.99" y1="851" x2="857.99" y2="851" stroke="#000" stroke-width="3"/>
<line x1="841.99" y1="866.6" x2="857.99" y2="866.6" stroke="#000" stroke-width="3"/>
<line x1="899.71" y1="831.7" x2="899.71" y2="848.3" stroke="#000" stroke-width="3"/>
<line x1="891.71" y1="831.7" x2="907.71" y2="831.7" stroke="#000" stroke-width="3"/>
<line x1="891.71" y1="848.3" x2="907.71" y2="848.3" stroke="#000" stroke-width="3"/>
<line x1="949.44" y1="813.9" x2="949.44" y2="831.3" stroke="#000" stroke-width="3"/>
<line x1="941.44" y1="813.9" x2="957.44" y2="813.9" stroke="#000" stroke-width="3"/>
<line x1="941.44" y1="831.3" x2="957.44" y2="831.3" stroke="#000" stroke-width="3"/>
<line x1="999.16" y1="803.3" x2="999.16" y2="820.7" stroke="#000" stroke-width="3"/>
<line x1="991.16" y1="803.3" x2="1007.16" y2="803.3" stroke="#000" stroke-width="3"/>
<line x1="991.16" y1="820.7" x2="1007.16" y2="820.7" stroke="#000" stroke-width="3"/>
<line x1="1048.88" y1="773.4" x2="1048.88" y2="790.4" stroke="#000" stroke-width="3"/>
<line x1="1040.88" y1="773.4" x2="1056.88" y2="773.4" stroke="#000" stroke-width="3"/>
<line x1="1040.88" y1="790.4" x2="1056.88" y2="790.4" stroke="#000" stroke-width="3"/>
<line x1="1098.61" y1="625" x2="1098.61" y2="651" stroke="#000" stroke-width="3"/>
<line x1="1090.61" y1="625" x2="1106.61" y2="625" stroke="#000" stroke-width="3"/>
<line x1="1090.61" y1="651" x2="1106.61" y2="651" stroke="#000" stroke-width="3"/>
<line x1="1198.05" y1="887.9" x2="1198.05" y2="915.7" stroke="#000" stroke-width="3"/>
<line x1="1190.05" y1="887.9" x2="1206.05" y2="887.9" stroke="#000" stroke-width="3"/>
<line x1="1190.05" y1="915.7" x2="1206.05" y2="915.7" stroke="#000" stroke-width="3"/>
<line x1="1247.78" y1="827.4" x2="1247.78" y2="861.4" stroke="#000" stroke-width="3"/>
<line x1="1239.78" y1="827.4" x2="1255.78" y2="827.4" stroke="#000" stroke-width="3"/>
<line x1="1239.78" y1="861.4" x2="1255.78" y2="861.4" stroke="#000" stroke-width="3"/>
<line x1="1297.5" y1="858.3" x2="1297.5" y2="901.1" stroke="#000" stroke-width="3"/>
<line x1="1289.5" y1="858.3" x2="1305.5" y2="858.3" stroke="#000" stroke-width="3"/>
<line x1="1289.5" y1="901.1" x2="1305.5" y2="901.1" stroke="#000" stroke-width="3"/>
<line x1="1347.22" y1="797.4" x2="1347.22" y2="834.6" stroke="#000" stroke-width="3"/>
<line x1="1339.22" y1="797.4" x2="1355.22" y2="797.4" stroke="#000" stroke-width="3"/>
<line x1="1339.22" y1="834.6" x2="1355.22" y2="834.6" stroke="#000" stroke-width="3"/>
<line x1="1396.95" y1="734.8" x2="1396.95" y2="802.4" stroke="#000" stroke-width="3"/>
<line x1="1388.95" y1="734.8" x2="1404.95" y2="734.8" stroke="#000" stroke-width="3"/>
<line x1="1388.95" y1="802.4" x2="1404.95" y2="802.4" stroke="#000" stroke-width="3"/>
<line x1="1446.67" y1="768.9" x2="1446.67" y2="810.5" stroke="#000" stroke-width="3"/>
<line x1="1438.67" y1="768.9" x2="1454.67" y2="768.9" stroke="#000" stroke-width="3"/>
<line x1="1438.67" y1="810.5" x2="1454.67" y2="810.5" stroke="#000" stroke-width="3"/>
<line x1="1496.39" y1="745.9" x2="1496.39" y2="798.7" stroke="#000" stroke-width="3"/>
<line x1="1488.39" y1="745.9" x2="1504.39" y2="745.9" stroke="#000" stroke-width="3"/>
<line x1="1488.39" y1="798.7" x2="1504.39" y2="798.7" stroke="#000" stroke-width="3"/>
<line x1="1546.12" y1="814.1" x2="1546.12" y2="873.3" stroke="#000" stroke-width="3"/>
<line x1="1538.12" y1="814.1" x2="1554.12" y2="814.1" stroke="#000" stroke-width="3"/>
<line x1="1538.12" y1="873.3" x2="1554.12" y2="873.3" stroke="#000" stroke-width="3"/>
<line x1="1595.84" y1="809.1" x2="1595.84" y2="851.3" stroke="#000" stroke-width="3"/>
<line x1="1587.84" y1="809.1" x2="1603.84" y2="809.1" stroke="#000" stroke-width="3"/>
<line x1="1587.84" y1="851.3" x2="1603.84" y2="851.3" stroke="#000" stroke-width="3"/>
<rect x="150.46" y="883.1" width="6.8" height="6.8" fill="#dadada" stroke="#b9b9b9" stroke-width="1.1"/>
<rect x="200.19" y="883.9" width="6.8" height="6.8" fill="#dadada" stroke="#b9b9b9" stroke-width="1.1"/>
<rect x="249.91" y="878.6" width="6.8" height="6.8" fill="#dadada" stroke="#b9b9b9" stroke-width="1.1"/>
<rect x="299.63" y="871.4" width="6.8" height="6.8" fill="#dadada" stroke="#b9b9b9" stroke-width="1.1"/>
<rect x="349.36" y="874.7" width="6.8" height="6.8" fill="#dadada" stroke="#b9b9b9" stroke-width="1.1"/>
<rect x="399.08" y="864.7" width="6.8" height="6.8" fill="#dadada" stroke="#b9b9b9" stroke-width="1.1"/>
<rect x="448.8" y="867.9" width="6.8" height="6.8" fill="#dadada" stroke="#b9b9b9" stroke-width="1.1"/>
<rect x="498.53" y="875.5" width="6.8" height="6.8" fill="#dadada" stroke="#b9b9b9" stroke-width="1.1"/>
<rect x="548.25" y="864.4" width="6.8" height="6.8" fill="#dadada" stroke="#b9b9b9" stroke-width="1.1"/>
<rect x="597.97" y="861.6" width="6.8" height="6.8" fill="#dadada" stroke="#b9b9b9" stroke-width="1.1"/>
<rect x="647.7" y="878.3" width="6.8" height="6.8" fill="#dadada" stroke="#b9b9b9" stroke-width="1.1"/>
<rect x="697.42" y="877.3" width="6.8" height="6.8" fill="#dadada" stroke="#b9b9b9" stroke-width="1.1"/>
<rect x="747.14" y="872.3" width="6.8" height="6.8" fill="#dadada" stroke="#b9b9b9" stroke-width="1.1"/>
<rect x="796.87" y="851.2" width="6.8" height="6.8" fill="#dadada" stroke="#b9b9b9" stroke-width="1.1"/>
<rect x="846.59" y="855.4" width="6.8" height="6.8" fill="#dadada" stroke="#b9b9b9" stroke-width="1.1"/>
<rect x="896.31" y="836.6" width="6.8" height="6.8" fill="#dadada" stroke="#b9b9b9" stroke-width="1.1"/>
<rect x="946.04" y="819.2" width="6.8" height="6.8" fill="#dadada" stroke="#b9b9b9" stroke-width="1.1"/>
<rect x="995.76" y="808.6" width="6.8" height="6.8" fill="#dadada" stroke="#b9b9b9" stroke-width="1.1"/>
<rect x="1045.48" y="778.5" width="6.8" height="6.8" fill="#dadada" stroke="#b9b9b9" stroke-width="1.1"/>
<rect x="1095.2" y="634.6" width="6.8" height="6.8" fill="#dadada" stroke="#b9b9b9" stroke-width="1.1"/>
<rect x="1194.65" y="898.4" width="6.8" height="6.8" fill="#dadada" stroke="#b9b9b9" stroke-width="1.1"/>
<rect x="1244.38" y="841" width="6.8" height="6.8" fill="#dadada" stroke="#b9b9b9" stroke-width="1.1"/>
<rect x="1294.1" y="876.3" width="6.8" height="6.8" fill="#dadada" stroke="#b9b9b9" stroke-width="1.1"/>
<rect x="1343.82" y="812.6" width="6.8" height="6.8" fill="#dadada" stroke="#b9b9b9" stroke-width="1.1"/>
<rect x="1393.55" y="765.2" width="6.8" height="6.8" fill="#dadada" stroke="#b9b9b9" stroke-width="1.1"/>
<rect x="1443.27" y="786.3" width="6.8" height="6.8" fill="#dadada" stroke="#b9b9b9" stroke-width="1.1"/>
<rect x="1492.99" y="768.9" width="6.8" height="6.8" fill="#dadada" stroke="#b9b9b9" stroke-width="1.1"/>
<rect x="1542.71" y="840.3" width="6.8" height="6.8" fill="#dadada" stroke="#b9b9b9" stroke-width="1.1"/>
<rect x="1592.44" y="826.8" width="6.8" height="6.8" fill="#dadada" stroke="#b9b9b9" stroke-width="1.1"/>
<polyline points="153.86,886.5 203.59,887.3 253.31,882 303.03,874.8 352.75,878.1 402.48,868.1 452.2,871.3 501.93,878.9 551.65,867.8 601.37,865 651.1,881.7 700.82,880.7 750.54,875.7 800.26,854.6 849.99,858.8 899.71,840 949.44,822.6 999.16,812 1048.88,781.9 1098.61,638" fill="none" stroke="#000" stroke-width="3.5" stroke-linejoin="round" stroke-linecap="round"/>
<polyline points="1198.05,901.8 1247.78,844.4 1297.5,879.7 1347.22,816 1396.95,768.6 1446.67,789.7 1496.39,772.3 1546.12,843.7 1595.84,830.2" fill="none" stroke="#000" stroke-width="3.5" stroke-linejoin="round" stroke-linecap="round"/>
<polyline points="153.86,887 203.59,887.3 253.31,881.9 303.03,875.3 352.75,878.3 402.48,868.6 452.2,871.6 501.93,879.4 551.65,868.3 601.37,866.2 651.1,882.4 700.82,881 750.54,876 800.26,854.8 849.99,859.2 899.71,840.4 949.44,823 999.16,812.4 1048.88,782 1098.61,638.2" fill="none" stroke="#000" stroke-width="8.5" stroke-linecap="round" stroke-linejoin="round" stroke-dasharray="0.01 17.72"/>
<polyline points="1198.05,901.8 1247.78,844.7 1297.5,879.7 1347.22,816.8 1396.95,769.5 1446.67,790.5 1496.39,773.2 1546.12,844 1595.84,831" fill="none" stroke="#000" stroke-width="8.5" stroke-linecap="round" stroke-linejoin="round" stroke-dasharray="0.01 17.72"/>
<circle cx="153.86" cy="887" r="4.7" fill="#000"/>
<circle cx="203.59" cy="887.3" r="4.7" fill="#000"/>
<circle cx="253.31" cy="881.9" r="4.7" fill="#000"/>
<circle cx="303.03" cy="875.3" r="4.7" fill="#000"/>
<circle cx="352.75" cy="878.3" r="4.7" fill="#000"/>
<circle cx="402.48" cy="868.6" r="4.7" fill="#000"/>
<circle cx="452.2" cy="871.6" r="4.7" fill="#000"/>
<circle cx="501.93" cy="879.4" r="4.7" fill="#000"/>
<circle cx="551.65" cy="868.3" r="4.7" fill="#000"/>
<circle cx="601.37" cy="866.2" r="4.7" fill="#000"/>
<circle cx="651.1" cy="882.4" r="4.7" fill="#000"/>
<circle cx="700.82" cy="881" r="4.7" fill="#000"/>
<circle cx="750.54" cy="876" r="4.7" fill="#000"/>
<circle cx="800.26" cy="854.8" r="4.7" fill="#000"/>
<circle cx="849.99" cy="859.2" r="4.7" fill="#000"/>
<circle cx="899.71" cy="840.4" r="4.7" fill="#000"/>
<circle cx="949.44" cy="823" r="4.7" fill="#000"/>
<circle cx="999.16" cy="812.4" r="4.7" fill="#000"/>
<circle cx="1048.88" cy="782" r="4.7" fill="#000"/>
<circle cx="1098.61" cy="638.2" r="4.7" fill="#000"/>
<circle cx="1198.05" cy="901.8" r="4.7" fill="#000"/>
<circle cx="1247.78" cy="844.7" r="4.7" fill="#000"/>
<circle cx="1297.5" cy="879.7" r="4.7" fill="#000"/>
<circle cx="1347.22" cy="816.8" r="4.7" fill="#000"/>
<circle cx="1396.95" cy="769.5" r="4.7" fill="#000"/>
<circle cx="1446.67" cy="790.5" r="4.7" fill="#000"/>
<circle cx="1496.39" cy="773.2" r="4.7" fill="#000"/>
<circle cx="1546.12" cy="844" r="4.7" fill="#000"/>
<circle cx="1595.84" cy="831" r="4.7" fill="#000"/>
</g>
<g>
<line x1="970.3" y1="538.8" x2="1059.4" y2="538.8" stroke="#000" stroke-width="3.4" stroke-linecap="round"/>
<rect x="1011.45" y="535.65" width="6.8" height="6.8" fill="#dadada" stroke="#b9b9b9" stroke-width="1.1"/>
<line x1="1298.8" y1="538.8" x2="1388.5" y2="538.8" stroke="#000" stroke-width="9.1" stroke-linecap="round" stroke-dasharray="0.01 17.84"/>
<circle cx="1343.4" cy="538.8" r="4.7" fill="#000"/>
</g>
<g>
<text y="546.8" font-size="23.5"><tspan x="1069.9" textLength="37.35" lengthAdjust="spacingAndGlyphs">PC2</tspan> <tspan x="1114.43" textLength="55.37" lengthAdjust="spacingAndGlyphs">score</tspan></text>
<text y="546.8" font-size="23.5"><tspan x="1398.32" textLength="103.14" lengthAdjust="spacingAndGlyphs">Simulated</tspan> <tspan x="1505.78" textLength="39.99" lengthAdjust="spacingAndGlyphs">KSS</tspan> <tspan x="1551.22" textLength="55.98" lengthAdjust="spacingAndGlyphs">score</tspan></text>
<text y="587" font-size="38.4"><tspan x="27.65" font-size="33.8" stroke-width="1.3" textLength="8.77" lengthAdjust="spacingAndGlyphs">(</tspan><tspan x="37.66" font-size="38.4" textLength="25.74" lengthAdjust="spacingAndGlyphs">B</tspan><tspan x="62.8" font-size="33.8" stroke-width="1.3" textLength="9.3" lengthAdjust="spacingAndGlyphs">)</tspan></text>
<text y="587.3" font-size="28.8"><tspan x="82.29" textLength="143.27" lengthAdjust="spacingAndGlyphs">Simulation</tspan> <tspan x="233.16" textLength="27.88" lengthAdjust="spacingAndGlyphs">of</tspan> <tspan x="267.86" textLength="47.54" lengthAdjust="spacingAndGlyphs">KSS</tspan> <tspan x="322.55" textLength="70.79" lengthAdjust="spacingAndGlyphs">score</tspan> <tspan x="399.62" textLength="72.59" lengthAdjust="spacingAndGlyphs">using</tspan> <tspan x="477.61" textLength="101.7" lengthAdjust="spacingAndGlyphs">relative</tspan> <tspan x="585.68" textLength="51.02" lengthAdjust="spacingAndGlyphs">PC2</tspan> <tspan x="643.45" textLength="70.79" lengthAdjust="spacingAndGlyphs">score</tspan> <tspan x="722.17" textLength="37.03" lengthAdjust="spacingAndGlyphs">for</tspan> <tspan x="767.75" textLength="27.82" lengthAdjust="spacingAndGlyphs">W</tspan> <tspan x="803.46" textLength="64.04" lengthAdjust="spacingAndGlyphs">prior</tspan> <tspan x="876.25" textLength="28.43" lengthAdjust="spacingAndGlyphs">to</tspan> <tspan x="910.78" textLength="37.74" lengthAdjust="spacingAndGlyphs">N1</tspan> <tspan x="955.43" textLength="106.12" lengthAdjust="spacingAndGlyphs">(latency</tspan> <tspan x="1070.15" textLength="28.43" lengthAdjust="spacingAndGlyphs">to</tspan> <tspan x="1104.71" textLength="37.1" lengthAdjust="spacingAndGlyphs">N1</tspan> <tspan x="1149.86" textLength="48.85" lengthAdjust="spacingAndGlyphs">≤20</tspan> <tspan x="1204.67" textLength="62.45" lengthAdjust="spacingAndGlyphs">min)</tspan></text>
<text x="105.6" y="620.6" font-size="23.1" text-anchor="end" textLength="39.21" lengthAdjust="spacingAndGlyphs">-0.8</text>
<text x="105.6" y="731.8" font-size="23.1" text-anchor="end" textLength="39.21" lengthAdjust="spacingAndGlyphs">-0.4</text>
<text x="105.6" y="843" font-size="23.1" text-anchor="end" textLength="31.63" lengthAdjust="spacingAndGlyphs">0.0</text>
<text x="105.6" y="954.2" font-size="23.1" text-anchor="end" textLength="31.63" lengthAdjust="spacingAndGlyphs">0.4</text>
<text x="1644.3" y="645.2" font-size="23.1" textLength="12.08" lengthAdjust="spacingAndGlyphs">9</text>
<text x="1644.3" y="707" font-size="23.1" textLength="12.08" lengthAdjust="spacingAndGlyphs">8</text>
<text x="1644.3" y="768.8" font-size="23.1" textLength="12.08" lengthAdjust="spacingAndGlyphs">7</text>
<text x="1644.3" y="830.6" font-size="23.1" textLength="12.08" lengthAdjust="spacingAndGlyphs">6</text>
<text x="1644.3" y="892.4" font-size="23.1" textLength="12.08" lengthAdjust="spacingAndGlyphs">5</text>
<text x="1644.3" y="954.2" font-size="23.1" textLength="12.08" lengthAdjust="spacingAndGlyphs">4</text>
<text y="31.8" font-size="23" transform="rotate(-90)"><tspan x="-855.14" textLength="38.5" lengthAdjust="spacingAndGlyphs">PC2</tspan> <tspan x="-811.17" textLength="55.47" lengthAdjust="spacingAndGlyphs">score</tspan> <tspan x="-749.7" textLength="12.38" lengthAdjust="spacingAndGlyphs">±</tspan> <tspan x="-732.47" textLength="45.34" lengthAdjust="spacingAndGlyphs">SEM</tspan></text>
<text y="1714.7" font-size="23" transform="rotate(-90)"><tspan x="-861.79" textLength="35.68" lengthAdjust="spacingAndGlyphs">KSS</tspan> <tspan x="-821.47" textLength="55.26" lengthAdjust="spacingAndGlyphs">score</tspan> <tspan x="-760.2" textLength="12.38" lengthAdjust="spacingAndGlyphs">±</tspan> <tspan x="-742.47" textLength="45.34" lengthAdjust="spacingAndGlyphs">SEM</tspan></text>
<text x="203.59" y="986.7" font-size="23.1" text-anchor="middle" textLength="19.1" lengthAdjust="spacingAndGlyphs">-9</text>
<text x="303.03" y="986.7" font-size="23.1" text-anchor="middle" textLength="19.1" lengthAdjust="spacingAndGlyphs">-8</text>
<text x="402.48" y="986.7" font-size="23.1" text-anchor="middle" textLength="19.1" lengthAdjust="spacingAndGlyphs">-7</text>
<text x="501.93" y="986.7" font-size="23.1" text-anchor="middle" textLength="19.1" lengthAdjust="spacingAndGlyphs">-6</text>
<text x="601.37" y="986.7" font-size="23.1" text-anchor="middle" textLength="19.1" lengthAdjust="spacingAndGlyphs">-5</text>
<text x="700.82" y="986.7" font-size="23.1" text-anchor="middle" textLength="19.1" lengthAdjust="spacingAndGlyphs">-4</text>
<text x="800.26" y="986.7" font-size="23.1" text-anchor="middle" textLength="19.1" lengthAdjust="spacingAndGlyphs">-3</text>
<text x="899.71" y="986.7" font-size="23.1" text-anchor="middle" textLength="19.1" lengthAdjust="spacingAndGlyphs">-2</text>
<text x="999.16" y="986.7" font-size="23.1" text-anchor="middle" textLength="19.1" lengthAdjust="spacingAndGlyphs">-1</text>
<text x="1098.61" y="986.7" font-size="23.1" text-anchor="middle" textLength="27.46" lengthAdjust="spacingAndGlyphs">N1</text>
<text x="1198.05" y="986.7" font-size="23.1" text-anchor="middle" textLength="11.56" lengthAdjust="spacingAndGlyphs">5</text>
<text x="1247.78" y="986.7" font-size="23.1" text-anchor="middle" textLength="23.9" lengthAdjust="spacingAndGlyphs">15</text>
<text x="1297.5" y="986.7" font-size="23.1" text-anchor="middle" textLength="23.9" lengthAdjust="spacingAndGlyphs">25</text>
<text x="1347.22" y="986.7" font-size="23.1" text-anchor="middle" textLength="23.9" lengthAdjust="spacingAndGlyphs">35</text>
<text x="1396.95" y="986.7" font-size="23.1" text-anchor="middle" textLength="23.9" lengthAdjust="spacingAndGlyphs">45</text>
<text x="1446.67" y="986.7" font-size="23.1" text-anchor="middle" textLength="23.9" lengthAdjust="spacingAndGlyphs">55</text>
<text x="1496.39" y="986.7" font-size="23.1" text-anchor="middle" textLength="23.9" lengthAdjust="spacingAndGlyphs">65</text>
<text x="1546.12" y="986.7" font-size="23.1" text-anchor="middle" textLength="23.9" lengthAdjust="spacingAndGlyphs">75</text>
<text x="1595.84" y="986.7" font-size="23.1" text-anchor="middle" textLength="23.9" lengthAdjust="spacingAndGlyphs">85</text>
<text y="1035.8" font-size="23.5"><tspan x="455.57" textLength="86.6" lengthAdjust="spacingAndGlyphs">Minutes</tspan> <tspan x="546.71" textLength="107.11" lengthAdjust="spacingAndGlyphs">preceding</tspan> <tspan x="659.53" textLength="32.59" lengthAdjust="spacingAndGlyphs">the</tspan> <tspan x="696.14" textLength="40.28" lengthAdjust="spacingAndGlyphs">first</tspan> <tspan x="741.36" textLength="29.7" lengthAdjust="spacingAndGlyphs">N1</tspan> <tspan x="776.49" textLength="64.49" lengthAdjust="spacingAndGlyphs">epoch</tspan></text>
<text y="1035.8" font-size="23.5"><tspan x="1303.05" textLength="13.05" lengthAdjust="spacingAndGlyphs">9</tspan> <tspan x="1322.08" textLength="73.77" lengthAdjust="spacingAndGlyphs">10-min</tspan> <tspan x="1401.05" textLength="89.39" lengthAdjust="spacingAndGlyphs">intervals</tspan></text>
</g>
<g transform="translate(0 0.05)">
<line x1="129" y1="1114.75" x2="129" y2="1471.2" stroke="#848484" stroke-width="2"/>
<line x1="1620.35" y1="1114.75" x2="1620.35" y2="1471.2" stroke="#848484" stroke-width="2"/>
<line x1="121.2" y1="1233.8" x2="129" y2="1233.8" stroke="#848484" stroke-width="1.8"/>
<line x1="121.2" y1="1352.5" x2="129" y2="1352.5" stroke="#848484" stroke-width="1.8"/>
<line x1="121.2" y1="1471.2" x2="129" y2="1471.2" stroke="#848484" stroke-width="1.8"/>
<line x1="1620.35" y1="1141" x2="1628.35" y2="1141" stroke="#848484" stroke-width="1.8"/>
<line x1="1620.35" y1="1207.05" x2="1628.35" y2="1207.05" stroke="#848484" stroke-width="1.8"/>
<line x1="1620.35" y1="1273.1" x2="1628.35" y2="1273.1" stroke="#848484" stroke-width="1.8"/>
<line x1="1620.35" y1="1339.15" x2="1628.35" y2="1339.15" stroke="#848484" stroke-width="1.8"/>
<line x1="1620.35" y1="1405.2" x2="1628.35" y2="1405.2" stroke="#848484" stroke-width="1.8"/>
<line x1="1620.35" y1="1471.25" x2="1628.35" y2="1471.25" stroke="#848484" stroke-width="1.8"/>
<line x1="129" y1="1352.5" x2="1620.35" y2="1352.5" stroke="#bfbfbf" stroke-width="1.8"/>
<line x1="129" y1="1352.5" x2="129" y2="1360.7" stroke="#bfbfbf" stroke-width="1.8"/>
<line x1="178.72" y1="1352.5" x2="178.72" y2="1360.7" stroke="#bfbfbf" stroke-width="1.8"/>
<line x1="228.45" y1="1352.5" x2="228.45" y2="1360.7" stroke="#bfbfbf" stroke-width="1.8"/>
<line x1="278.17" y1="1352.5" x2="278.17" y2="1360.7" stroke="#bfbfbf" stroke-width="1.8"/>
<line x1="327.89" y1="1352.5" x2="327.89" y2="1360.7" stroke="#bfbfbf" stroke-width="1.8"/>
<line x1="377.62" y1="1352.5" x2="377.62" y2="1360.7" stroke="#bfbfbf" stroke-width="1.8"/>
<line x1="427.34" y1="1352.5" x2="427.34" y2="1360.7" stroke="#bfbfbf" stroke-width="1.8"/>
<line x1="477.06" y1="1352.5" x2="477.06" y2="1360.7" stroke="#bfbfbf" stroke-width="1.8"/>
<line x1="526.79" y1="1352.5" x2="526.79" y2="1360.7" stroke="#bfbfbf" stroke-width="1.8"/>
<line x1="576.51" y1="1352.5" x2="576.51" y2="1360.7" stroke="#bfbfbf" stroke-width="1.8"/>
<line x1="626.23" y1="1352.5" x2="626.23" y2="1360.7" stroke="#bfbfbf" stroke-width="1.8"/>
<line x1="675.96" y1="1352.5" x2="675.96" y2="1360.7" stroke="#bfbfbf" stroke-width="1.8"/>
<line x1="725.68" y1="1352.5" x2="725.68" y2="1360.7" stroke="#bfbfbf" stroke-width="1.8"/>
<line x1="775.4" y1="1352.5" x2="775.4" y2="1360.7" stroke="#bfbfbf" stroke-width="1.8"/>
<line x1="825.13" y1="1352.5" x2="825.13" y2="1360.7" stroke="#bfbfbf" stroke-width="1.8"/>
<line x1="874.85" y1="1352.5" x2="874.85" y2="1360.7" stroke="#bfbfbf" stroke-width="1.8"/>
<line x1="924.57" y1="1352.5" x2="924.57" y2="1360.7" stroke="#bfbfbf" stroke-width="1.8"/>
<line x1="974.3" y1="1352.5" x2="974.3" y2="1360.7" stroke="#bfbfbf" stroke-width="1.8"/>
<line x1="1024.02" y1="1352.5" x2="1024.02" y2="1360.7" stroke="#bfbfbf" stroke-width="1.8"/>
<line x1="1073.74" y1="1352.5" x2="1073.74" y2="1360.7" stroke="#bfbfbf" stroke-width="1.8"/>
<line x1="1123.47" y1="1352.5" x2="1123.47" y2="1360.7" stroke="#bfbfbf" stroke-width="1.8"/>
<line x1="1173.19" y1="1352.5" x2="1173.19" y2="1360.7" stroke="#bfbfbf" stroke-width="1.8"/>
<line x1="1222.91" y1="1352.5" x2="1222.91" y2="1360.7" stroke="#bfbfbf" stroke-width="1.8"/>
<line x1="1272.64" y1="1352.5" x2="1272.64" y2="1360.7" stroke="#bfbfbf" stroke-width="1.8"/>
<line x1="1322.36" y1="1352.5" x2="1322.36" y2="1360.7" stroke="#bfbfbf" stroke-width="1.8"/>
<line x1="1372.08" y1="1352.5" x2="1372.08" y2="1360.7" stroke="#bfbfbf" stroke-width="1.8"/>
<line x1="1421.81" y1="1352.5" x2="1421.81" y2="1360.7" stroke="#bfbfbf" stroke-width="1.8"/>
<line x1="1471.53" y1="1352.5" x2="1471.53" y2="1360.7" stroke="#bfbfbf" stroke-width="1.8"/>
<line x1="1521.25" y1="1352.5" x2="1521.25" y2="1360.7" stroke="#bfbfbf" stroke-width="1.8"/>
<line x1="1570.98" y1="1352.5" x2="1570.98" y2="1360.7" stroke="#bfbfbf" stroke-width="1.8"/>
<line x1="1620.35" y1="1352.5" x2="1620.35" y2="1360.7" stroke="#bfbfbf" stroke-width="1.8"/>
<line x1="121.2" y1="1352.5" x2="128.2" y2="1352.5" stroke="#848484" stroke-width="1.8"/>
<line x1="178.72" y1="1471.2" x2="178.72" y2="1520" stroke="#bfbfbf" stroke-width="1.8"/>
<line x1="228.45" y1="1471.2" x2="228.45" y2="1520" stroke="#bfbfbf" stroke-width="1.8"/>
<line x1="278.17" y1="1471.2" x2="278.17" y2="1520" stroke="#bfbfbf" stroke-width="1.8"/>
<line x1="327.89" y1="1471.2" x2="327.89" y2="1520" stroke="#bfbfbf" stroke-width="1.8"/>
<line x1="377.62" y1="1471.2" x2="377.62" y2="1520" stroke="#bfbfbf" stroke-width="1.8"/>
<line x1="427.34" y1="1471.2" x2="427.34" y2="1520" stroke="#bfbfbf" stroke-width="1.8"/>
<line x1="477.06" y1="1471.2" x2="477.06" y2="1520" stroke="#bfbfbf" stroke-width="1.8"/>
<line x1="526.79" y1="1471.2" x2="526.79" y2="1520" stroke="#bfbfbf" stroke-width="1.8"/>
<line x1="576.51" y1="1471.2" x2="576.51" y2="1520" stroke="#bfbfbf" stroke-width="1.8"/>
<line x1="626.23" y1="1471.2" x2="626.23" y2="1520" stroke="#bfbfbf" stroke-width="1.8"/>
<line x1="675.96" y1="1471.2" x2="675.96" y2="1520" stroke="#bfbfbf" stroke-width="1.8"/>
<line x1="725.68" y1="1471.2" x2="725.68" y2="1520" stroke="#bfbfbf" stroke-width="1.8"/>
<line x1="775.4" y1="1471.2" x2="775.4" y2="1520" stroke="#bfbfbf" stroke-width="1.8"/>
<line x1="825.13" y1="1471.2" x2="825.13" y2="1520" stroke="#bfbfbf" stroke-width="1.8"/>
<line x1="874.85" y1="1471.2" x2="874.85" y2="1520" stroke="#bfbfbf" stroke-width="1.8"/>
<line x1="924.57" y1="1471.2" x2="924.57" y2="1520" stroke="#bfbfbf" stroke-width="1.8"/>
<line x1="974.3" y1="1471.2" x2="974.3" y2="1520" stroke="#bfbfbf" stroke-width="1.8"/>
<line x1="1024.02" y1="1471.2" x2="1024.02" y2="1520" stroke="#bfbfbf" stroke-width="1.8"/>
<line x1="1073.74" y1="1471.2" x2="1073.74" y2="1520" stroke="#bfbfbf" stroke-width="1.8"/>
<line x1="1123.47" y1="1471.2" x2="1123.47" y2="1520" stroke="#bfbfbf" stroke-width="1.8"/>
<line x1="1173.19" y1="1471.2" x2="1173.19" y2="1569.4" stroke="#bfbfbf" stroke-width="1.8"/>
<line x1="1222.91" y1="1471.2" x2="1222.91" y2="1520" stroke="#bfbfbf" stroke-width="1.8"/>
<line x1="1272.64" y1="1471.2" x2="1272.64" y2="1520" stroke="#bfbfbf" stroke-width="1.8"/>
<line x1="1322.36" y1="1471.2" x2="1322.36" y2="1520" stroke="#bfbfbf" stroke-width="1.8"/>
<line x1="1372.08" y1="1471.2" x2="1372.08" y2="1520" stroke="#bfbfbf" stroke-width="1.8"/>
<line x1="1421.81" y1="1471.2" x2="1421.81" y2="1520" stroke="#bfbfbf" stroke-width="1.8"/>
<line x1="1471.53" y1="1471.2" x2="1471.53" y2="1520" stroke="#bfbfbf" stroke-width="1.8"/>
<line x1="1521.25" y1="1471.2" x2="1521.25" y2="1520" stroke="#bfbfbf" stroke-width="1.8"/>
<line x1="1570.98" y1="1471.2" x2="1570.98" y2="1520" stroke="#bfbfbf" stroke-width="1.8"/>
<line x1="129" y1="1471.2" x2="129" y2="1569.4" stroke="#bfbfbf" stroke-width="1.8"/>
<line x1="1620.35" y1="1471.2" x2="1620.35" y2="1569.4" stroke="#bfbfbf" stroke-width="1.8"/>
</g>
<g transform="translate(0 0.05)">
<line x1="153.86" y1="1384.6" x2="153.86" y2="1411.2" stroke="#a8a8a8" stroke-width="2"/>
<line x1="145.86" y1="1384.6" x2="161.86" y2="1384.6" stroke="#b4b4b4" stroke-width="1"/>
<line x1="145.86" y1="1384.8" x2="161.86" y2="1384.8" stroke="#787878" stroke-width="3.5" stroke-dasharray="9.7 4.3 2 10"/>
<line x1="145.86" y1="1411.2" x2="161.86" y2="1411.2" stroke="#b4b4b4" stroke-width="1"/>
<line x1="145.86" y1="1411.4" x2="161.86" y2="1411.4" stroke="#787878" stroke-width="3.5" stroke-dasharray="9.7 4.3 2 10"/>
<line x1="203.59" y1="1379.5" x2="203.59" y2="1406.1" stroke="#a8a8a8" stroke-width="2"/>
<line x1="195.59" y1="1379.5" x2="211.59" y2="1379.5" stroke="#b4b4b4" stroke-width="1"/>
<line x1="195.59" y1="1379.7" x2="211.59" y2="1379.7" stroke="#787878" stroke-width="3.5" stroke-dasharray="9.7 4.3 2 10"/>
<line x1="195.59" y1="1406.1" x2="211.59" y2="1406.1" stroke="#b4b4b4" stroke-width="1"/>
<line x1="195.59" y1="1406.3" x2="211.59" y2="1406.3" stroke="#787878" stroke-width="3.5" stroke-dasharray="9.7 4.3 2 10"/>
<line x1="253.31" y1="1375.3" x2="253.31" y2="1401.9" stroke="#a8a8a8" stroke-width="2"/>
<line x1="245.31" y1="1375.3" x2="261.31" y2="1375.3" stroke="#b4b4b4" stroke-width="1"/>
<line x1="245.31" y1="1375.5" x2="261.31" y2="1375.5" stroke="#787878" stroke-width="3.5" stroke-dasharray="9.7 4.3 2 10"/>
<line x1="245.31" y1="1401.9" x2="261.31" y2="1401.9" stroke="#b4b4b4" stroke-width="1"/>
<line x1="245.31" y1="1402.1" x2="261.31" y2="1402.1" stroke="#787878" stroke-width="3.5" stroke-dasharray="9.7 4.3 2 10"/>
<line x1="303.03" y1="1360.5" x2="303.03" y2="1387.1" stroke="#a8a8a8" stroke-width="2"/>
<line x1="295.03" y1="1360.5" x2="311.03" y2="1360.5" stroke="#b4b4b4" stroke-width="1"/>
<line x1="295.03" y1="1360.7" x2="311.03" y2="1360.7" stroke="#787878" stroke-width="3.5" stroke-dasharray="9.7 4.3 2 10"/>
<line x1="295.03" y1="1387.1" x2="311.03" y2="1387.1" stroke="#b4b4b4" stroke-width="1"/>
<line x1="295.03" y1="1387.3" x2="311.03" y2="1387.3" stroke="#787878" stroke-width="3.5" stroke-dasharray="9.7 4.3 2 10"/>
<line x1="352.75" y1="1356.5" x2="352.75" y2="1383.1" stroke="#a8a8a8" stroke-width="2"/>
<line x1="344.75" y1="1356.5" x2="360.75" y2="1356.5" stroke="#b4b4b4" stroke-width="1"/>
<line x1="344.75" y1="1356.7" x2="360.75" y2="1356.7" stroke="#787878" stroke-width="3.5" stroke-dasharray="9.7 4.3 2 10"/>
<line x1="344.75" y1="1383.1" x2="360.75" y2="1383.1" stroke="#b4b4b4" stroke-width="1"/>
<line x1="344.75" y1="1383.3" x2="360.75" y2="1383.3" stroke="#787878" stroke-width="3.5" stroke-dasharray="9.7 4.3 2 10"/>
<line x1="402.48" y1="1352.3" x2="402.48" y2="1378.9" stroke="#a8a8a8" stroke-width="2"/>
<line x1="394.48" y1="1352.3" x2="410.48" y2="1352.3" stroke="#b4b4b4" stroke-width="1"/>
<line x1="394.48" y1="1352.5" x2="410.48" y2="1352.5" stroke="#787878" stroke-width="3.5" stroke-dasharray="9.7 4.3 2 10"/>
<line x1="394.48" y1="1378.9" x2="410.48" y2="1378.9" stroke="#b4b4b4" stroke-width="1"/>
<line x1="394.48" y1="1379.1" x2="410.48" y2="1379.1" stroke="#787878" stroke-width="3.5" stroke-dasharray="9.7 4.3 2 10"/>
<line x1="452.2" y1="1335.9" x2="452.2" y2="1362.5" stroke="#a8a8a8" stroke-width="2"/>
<line x1="444.2" y1="1335.9" x2="460.2" y2="1335.9" stroke="#b4b4b4" stroke-width="1"/>
<line x1="444.2" y1="1336.1" x2="460.2" y2="1336.1" stroke="#787878" stroke-width="3.5" stroke-dasharray="9.7 4.3 2 10"/>
<line x1="444.2" y1="1362.5" x2="460.2" y2="1362.5" stroke="#b4b4b4" stroke-width="1"/>
<line x1="444.2" y1="1362.7" x2="460.2" y2="1362.7" stroke="#787878" stroke-width="3.5" stroke-dasharray="9.7 4.3 2 10"/>
<line x1="501.93" y1="1335" x2="501.93" y2="1361.6" stroke="#a8a8a8" stroke-width="2"/>
<line x1="493.93" y1="1335" x2="509.93" y2="1335" stroke="#b4b4b4" stroke-width="1"/>
<line x1="493.93" y1="1335.2" x2="509.93" y2="1335.2" stroke="#787878" stroke-width="3.5" stroke-dasharray="9.7 4.3 2 10"/>
<line x1="493.93" y1="1361.6" x2="509.93" y2="1361.6" stroke="#b4b4b4" stroke-width="1"/>
<line x1="493.93" y1="1361.8" x2="509.93" y2="1361.8" stroke="#787878" stroke-width="3.5" stroke-dasharray="9.7 4.3 2 10"/>
<line x1="551.65" y1="1339.2" x2="551.65" y2="1365.8" stroke="#a8a8a8" stroke-width="2"/>
<line x1="543.65" y1="1339.2" x2="559.65" y2="1339.2" stroke="#b4b4b4" stroke-width="1"/>
<line x1="543.65" y1="1339.4" x2="559.65" y2="1339.4" stroke="#787878" stroke-width="3.5" stroke-dasharray="9.7 4.3 2 10"/>
<line x1="543.65" y1="1365.8" x2="559.65" y2="1365.8" stroke="#b4b4b4" stroke-width="1"/>
<line x1="543.65" y1="1366" x2="559.65" y2="1366" stroke="#787878" stroke-width="3.5" stroke-dasharray="9.7 4.3 2 10"/>
<line x1="601.37" y1="1334.8" x2="601.37" y2="1361.4" stroke="#a8a8a8" stroke-width="2"/>
<line x1="593.37" y1="1334.8" x2="609.37" y2="1334.8" stroke="#b4b4b4" stroke-width="1"/>
<line x1="593.37" y1="1335" x2="609.37" y2="1335" stroke="#787878" stroke-width="3.5" stroke-dasharray="9.7 4.3 2 10"/>
<line x1="593.37" y1="1361.4" x2="609.37" y2="1361.4" stroke="#b4b4b4" stroke-width="1"/>
<line x1="593.37" y1="1361.6" x2="609.37" y2="1361.6" stroke="#787878" stroke-width="3.5" stroke-dasharray="9.7 4.3 2 10"/>
<line x1="651.1" y1="1313.8" x2="651.1" y2="1340.4" stroke="#a8a8a8" stroke-width="2"/>
<line x1="643.1" y1="1313.8" x2="659.1" y2="1313.8" stroke="#b4b4b4" stroke-width="1"/>
<line x1="643.1" y1="1314" x2="659.1" y2="1314" stroke="#787878" stroke-width="3.5" stroke-dasharray="9.7 4.3 2 10"/>
<line x1="643.1" y1="1340.4" x2="659.1" y2="1340.4" stroke="#b4b4b4" stroke-width="1"/>
<line x1="643.1" y1="1340.6" x2="659.1" y2="1340.6" stroke="#787878" stroke-width="3.5" stroke-dasharray="9.7 4.3 2 10"/>
<line x1="700.82" y1="1321.8" x2="700.82" y2="1348.4" stroke="#a8a8a8" stroke-width="2"/>
<line x1="692.82" y1="1321.8" x2="708.82" y2="1321.8" stroke="#b4b4b4" stroke-width="1"/>
<line x1="692.82" y1="1322" x2="708.82" y2="1322" stroke="#787878" stroke-width="3.5" stroke-dasharray="9.7 4.3 2 10"/>
<line x1="692.82" y1="1348.4" x2="708.82" y2="1348.4" stroke="#b4b4b4" stroke-width="1"/>
<line x1="692.82" y1="1348.6" x2="708.82" y2="1348.6" stroke="#787878" stroke-width="3.5" stroke-dasharray="9.7 4.3 2 10"/>
<line x1="750.54" y1="1308.6" x2="750.54" y2="1335.2" stroke="#a8a8a8" stroke-width="2"/>
<line x1="742.54" y1="1308.6" x2="758.54" y2="1308.6" stroke="#b4b4b4" stroke-width="1"/>
<line x1="742.54" y1="1308.8" x2="758.54" y2="1308.8" stroke="#787878" stroke-width="3.5" stroke-dasharray="9.7 4.3 2 10"/>
<line x1="742.54" y1="1335.2" x2="758.54" y2="1335.2" stroke="#b4b4b4" stroke-width="1"/>
<line x1="742.54" y1="1335.4" x2="758.54" y2="1335.4" stroke="#787878" stroke-width="3.5" stroke-dasharray="9.7 4.3 2 10"/>
<line x1="800.26" y1="1314.6" x2="800.26" y2="1341.2" stroke="#a8a8a8" stroke-width="2"/>
<line x1="792.26" y1="1314.6" x2="808.26" y2="1314.6" stroke="#b4b4b4" stroke-width="1"/>
<line x1="792.26" y1="1314.8" x2="808.26" y2="1314.8" stroke="#787878" stroke-width="3.5" stroke-dasharray="9.7 4.3 2 10"/>
<line x1="792.26" y1="1341.2" x2="808.26" y2="1341.2" stroke="#b4b4b4" stroke-width="1"/>
<line x1="792.26" y1="1341.4" x2="808.26" y2="1341.4" stroke="#787878" stroke-width="3.5" stroke-dasharray="9.7 4.3 2 10"/>
<line x1="849.99" y1="1310.2" x2="849.99" y2="1336.8" stroke="#a8a8a8" stroke-width="2"/>
<line x1="841.99" y1="1310.2" x2="857.99" y2="1310.2" stroke="#b4b4b4" stroke-width="1"/>
<line x1="841.99" y1="1310.4" x2="857.99" y2="1310.4" stroke="#787878" stroke-width="3.5" stroke-dasharray="9.7 4.3 2 10"/>
<line x1="841.99" y1="1336.8" x2="857.99" y2="1336.8" stroke="#b4b4b4" stroke-width="1"/>
<line x1="841.99" y1="1337" x2="857.99" y2="1337" stroke="#787878" stroke-width="3.5" stroke-dasharray="9.7 4.3 2 10"/>
<line x1="899.71" y1="1305.5" x2="899.71" y2="1332.1" stroke="#a8a8a8" stroke-width="2"/>
<line x1="891.71" y1="1305.5" x2="907.71" y2="1305.5" stroke="#b4b4b4" stroke-width="1"/>
<line x1="891.71" y1="1305.7" x2="907.71" y2="1305.7" stroke="#787878" stroke-width="3.5" stroke-dasharray="9.7 4.3 2 10"/>
<line x1="891.71" y1="1332.1" x2="907.71" y2="1332.1" stroke="#b4b4b4" stroke-width="1"/>
<line x1="891.71" y1="1332.3" x2="907.71" y2="1332.3" stroke="#787878" stroke-width="3.5" stroke-dasharray="9.7 4.3 2 10"/>
<line x1="949.44" y1="1301.7" x2="949.44" y2="1328.3" stroke="#a8a8a8" stroke-width="2"/>
<line x1="941.44" y1="1301.7" x2="957.44" y2="1301.7" stroke="#b4b4b4" stroke-width="1"/>
<line x1="941.44" y1="1301.9" x2="957.44" y2="1301.9" stroke="#787878" stroke-width="3.5" stroke-dasharray="9.7 4.3 2 10"/>
<line x1="941.44" y1="1328.3" x2="957.44" y2="1328.3" stroke="#b4b4b4" stroke-width="1"/>
<line x1="941.44" y1="1328.5" x2="957.44" y2="1328.5" stroke="#787878" stroke-width="3.5" stroke-dasharray="9.7 4.3 2 10"/>
<line x1="999.16" y1="1304.4" x2="999.16" y2="1331" stroke="#a8a8a8" stroke-width="2"/>
<line x1="991.16" y1="1304.4" x2="1007.16" y2="1304.4" stroke="#b4b4b4" stroke-width="1"/>
<line x1="991.16" y1="1304.6" x2="1007.16" y2="1304.6" stroke="#787878" stroke-width="3.5" stroke-dasharray="9.7 4.3 2 10"/>
<line x1="991.16" y1="1331" x2="1007.16" y2="1331" stroke="#b4b4b4" stroke-width="1"/>
<line x1="991.16" y1="1331.2" x2="1007.16" y2="1331.2" stroke="#787878" stroke-width="3.5" stroke-dasharray="9.7 4.3 2 10"/>
<line x1="1048.88" y1="1299.4" x2="1048.88" y2="1326" stroke="#a8a8a8" stroke-width="2"/>
<line x1="1040.88" y1="1299.4" x2="1056.88" y2="1299.4" stroke="#b4b4b4" stroke-width="1"/>
<line x1="1040.88" y1="1299.6" x2="1056.88" y2="1299.6" stroke="#787878" stroke-width="3.5" stroke-dasharray="9.7 4.3 2 10"/>
<line x1="1040.88" y1="1326" x2="1056.88" y2="1326" stroke="#b4b4b4" stroke-width="1"/>
<line x1="1040.88" y1="1326.2" x2="1056.88" y2="1326.2" stroke="#787878" stroke-width="3.5" stroke-dasharray="9.7 4.3 2 10"/>
<line x1="1098.61" y1="1293.7" x2="1098.61" y2="1320.3" stroke="#a8a8a8" stroke-width="2"/>
<line x1="1090.61" y1="1293.7" x2="1106.61" y2="1293.7" stroke="#b4b4b4" stroke-width="1"/>
<line x1="1090.61" y1="1293.9" x2="1106.61" y2="1293.9" stroke="#787878" stroke-width="3.5" stroke-dasharray="9.7 4.3 2 10"/>
<line x1="1090.61" y1="1320.3" x2="1106.61" y2="1320.3" stroke="#b4b4b4" stroke-width="1"/>
<line x1="1090.61" y1="1320.5" x2="1106.61" y2="1320.5" stroke="#787878" stroke-width="3.5" stroke-dasharray="9.7 4.3 2 10"/>
<line x1="1198.05" y1="1383.3" x2="1198.05" y2="1409.9" stroke="#a8a8a8" stroke-width="2"/>
<line x1="1190.05" y1="1383.3" x2="1206.05" y2="1383.3" stroke="#b4b4b4" stroke-width="1"/>
<line x1="1190.05" y1="1383.5" x2="1206.05" y2="1383.5" stroke="#787878" stroke-width="3.5" stroke-dasharray="9.7 4.3 2 10"/>
<line x1="1190.05" y1="1409.9" x2="1206.05" y2="1409.9" stroke="#b4b4b4" stroke-width="1"/>
<line x1="1190.05" y1="1410.1" x2="1206.05" y2="1410.1" stroke="#787878" stroke-width="3.5" stroke-dasharray="9.7 4.3 2 10"/>
<line x1="1247.78" y1="1336.7" x2="1247.78" y2="1363.3" stroke="#a8a8a8" stroke-width="2"/>
<line x1="1239.78" y1="1336.7" x2="1255.78" y2="1336.7" stroke="#b4b4b4" stroke-width="1"/>
<line x1="1239.78" y1="1336.9" x2="1255.78" y2="1336.9" stroke="#787878" stroke-width="3.5" stroke-dasharray="9.7 4.3 2 10"/>
<line x1="1239.78" y1="1363.3" x2="1255.78" y2="1363.3" stroke="#b4b4b4" stroke-width="1"/>
<line x1="1239.78" y1="1363.5" x2="1255.78" y2="1363.5" stroke="#787878" stroke-width="3.5" stroke-dasharray="9.7 4.3 2 10"/>
<line x1="1297.5" y1="1344.9" x2="1297.5" y2="1371.5" stroke="#a8a8a8" stroke-width="2"/>
<line x1="1289.5" y1="1344.9" x2="1305.5" y2="1344.9" stroke="#b4b4b4" stroke-width="1"/>
<line x1="1289.5" y1="1345.1" x2="1305.5" y2="1345.1" stroke="#787878" stroke-width="3.5" stroke-dasharray="9.7 4.3 2 10"/>
<line x1="1289.5" y1="1371.5" x2="1305.5" y2="1371.5" stroke="#b4b4b4" stroke-width="1"/>
<line x1="1289.5" y1="1371.7" x2="1305.5" y2="1371.7" stroke="#787878" stroke-width="3.5" stroke-dasharray="9.7 4.3 2 10"/>
<line x1="1347.22" y1="1307.7" x2="1347.22" y2="1334.3" stroke="#a8a8a8" stroke-width="2"/>
<line x1="1339.22" y1="1307.7" x2="1355.22" y2="1307.7" stroke="#b4b4b4" stroke-width="1"/>
<line x1="1339.22" y1="1307.9" x2="1355.22" y2="1307.9" stroke="#787878" stroke-width="3.5" stroke-dasharray="9.7 4.3 2 10"/>
<line x1="1339.22" y1="1334.3" x2="1355.22" y2="1334.3" stroke="#b4b4b4" stroke-width="1"/>
<line x1="1339.22" y1="1334.5" x2="1355.22" y2="1334.5" stroke="#787878" stroke-width="3.5" stroke-dasharray="9.7 4.3 2 10"/>
<line x1="1396.95" y1="1315.5" x2="1396.95" y2="1342.1" stroke="#a8a8a8" stroke-width="2"/>
<line x1="1388.95" y1="1315.5" x2="1404.95" y2="1315.5" stroke="#b4b4b4" stroke-width="1"/>
<line x1="1388.95" y1="1315.7" x2="1404.95" y2="1315.7" stroke="#787878" stroke-width="3.5" stroke-dasharray="9.7 4.3 2 10"/>
<line x1="1388.95" y1="1342.1" x2="1404.95" y2="1342.1" stroke="#b4b4b4" stroke-width="1"/>
<line x1="1388.95" y1="1342.3" x2="1404.95" y2="1342.3" stroke="#787878" stroke-width="3.5" stroke-dasharray="9.7 4.3 2 10"/>
<line x1="1446.67" y1="1329.7" x2="1446.67" y2="1356.3" stroke="#a8a8a8" stroke-width="2"/>
<line x1="1438.67" y1="1329.7" x2="1454.67" y2="1329.7" stroke="#b4b4b4" stroke-width="1"/>
<line x1="1438.67" y1="1329.9" x2="1454.67" y2="1329.9" stroke="#787878" stroke-width="3.5" stroke-dasharray="9.7 4.3 2 10"/>
<line x1="1438.67" y1="1356.3" x2="1454.67" y2="1356.3" stroke="#b4b4b4" stroke-width="1"/>
<line x1="1438.67" y1="1356.5" x2="1454.67" y2="1356.5" stroke="#787878" stroke-width="3.5" stroke-dasharray="9.7 4.3 2 10"/>
<line x1="1496.39" y1="1312.7" x2="1496.39" y2="1339.3" stroke="#a8a8a8" stroke-width="2"/>
<line x1="1488.39" y1="1312.7" x2="1504.39" y2="1312.7" stroke="#b4b4b4" stroke-width="1"/>
<line x1="1488.39" y1="1312.9" x2="1504.39" y2="1312.9" stroke="#787878" stroke-width="3.5" stroke-dasharray="9.7 4.3 2 10"/>
<line x1="1488.39" y1="1339.3" x2="1504.39" y2="1339.3" stroke="#b4b4b4" stroke-width="1"/>
<line x1="1488.39" y1="1339.5" x2="1504.39" y2="1339.5" stroke="#787878" stroke-width="3.5" stroke-dasharray="9.7 4.3 2 10"/>
<line x1="1546.12" y1="1332.9" x2="1546.12" y2="1359.5" stroke="#a8a8a8" stroke-width="2"/>
<line x1="1538.12" y1="1332.9" x2="1554.12" y2="1332.9" stroke="#b4b4b4" stroke-width="1"/>
<line x1="1538.12" y1="1333.1" x2="1554.12" y2="1333.1" stroke="#787878" stroke-width="3.5" stroke-dasharray="9.7 4.3 2 10"/>
<line x1="1538.12" y1="1359.5" x2="1554.12" y2="1359.5" stroke="#b4b4b4" stroke-width="1"/>
<line x1="1538.12" y1="1359.7" x2="1554.12" y2="1359.7" stroke="#787878" stroke-width="3.5" stroke-dasharray="9.7 4.3 2 10"/>
<line x1="1595.84" y1="1332.7" x2="1595.84" y2="1359.3" stroke="#a8a8a8" stroke-width="2"/>
<line x1="1587.84" y1="1332.7" x2="1603.84" y2="1332.7" stroke="#b4b4b4" stroke-width="1"/>
<line x1="1587.84" y1="1332.9" x2="1603.84" y2="1332.9" stroke="#787878" stroke-width="3.5" stroke-dasharray="9.7 4.3 2 10"/>
<line x1="1587.84" y1="1359.3" x2="1603.84" y2="1359.3" stroke="#b4b4b4" stroke-width="1"/>
<line x1="1587.84" y1="1359.5" x2="1603.84" y2="1359.5" stroke="#787878" stroke-width="3.5" stroke-dasharray="9.7 4.3 2 10"/>
<line x1="153.86" y1="1392.5" x2="153.86" y2="1406.9" stroke="#000" stroke-width="3"/>
<line x1="145.86" y1="1392.5" x2="161.86" y2="1392.5" stroke="#000" stroke-width="3"/>
<line x1="145.86" y1="1406.9" x2="161.86" y2="1406.9" stroke="#000" stroke-width="3"/>
<line x1="203.59" y1="1387.3" x2="203.59" y2="1402.1" stroke="#000" stroke-width="3"/>
<line x1="195.59" y1="1387.3" x2="211.59" y2="1387.3" stroke="#000" stroke-width="3"/>
<line x1="195.59" y1="1402.1" x2="211.59" y2="1402.1" stroke="#000" stroke-width="3"/>
<line x1="253.31" y1="1384.9" x2="253.31" y2="1396.5" stroke="#000" stroke-width="3"/>
<line x1="245.31" y1="1384.9" x2="261.31" y2="1384.9" stroke="#000" stroke-width="3"/>
<line x1="245.31" y1="1396.5" x2="261.31" y2="1396.5" stroke="#000" stroke-width="3"/>
<line x1="303.03" y1="1368.2" x2="303.03" y2="1382.2" stroke="#000" stroke-width="3"/>
<line x1="295.03" y1="1368.2" x2="311.03" y2="1368.2" stroke="#000" stroke-width="3"/>
<line x1="295.03" y1="1382.2" x2="311.03" y2="1382.2" stroke="#000" stroke-width="3"/>
<line x1="352.75" y1="1365.6" x2="352.75" y2="1377" stroke="#000" stroke-width="3"/>
<line x1="344.75" y1="1365.6" x2="360.75" y2="1365.6" stroke="#000" stroke-width="3"/>
<line x1="344.75" y1="1377" x2="360.75" y2="1377" stroke="#000" stroke-width="3"/>
<line x1="402.48" y1="1360" x2="402.48" y2="1374" stroke="#000" stroke-width="3"/>
<line x1="394.48" y1="1360" x2="410.48" y2="1360" stroke="#000" stroke-width="3"/>
<line x1="394.48" y1="1374" x2="410.48" y2="1374" stroke="#000" stroke-width="3"/>
<line x1="452.2" y1="1340.3" x2="452.2" y2="1359.7" stroke="#000" stroke-width="3"/>
<line x1="444.2" y1="1340.3" x2="460.2" y2="1340.3" stroke="#000" stroke-width="3"/>
<line x1="444.2" y1="1359.7" x2="460.2" y2="1359.7" stroke="#000" stroke-width="3"/>
<line x1="501.93" y1="1340.6" x2="501.93" y2="1357.4" stroke="#000" stroke-width="3"/>
<line x1="493.93" y1="1340.6" x2="509.93" y2="1340.6" stroke="#000" stroke-width="3"/>
<line x1="493.93" y1="1357.4" x2="509.93" y2="1357.4" stroke="#000" stroke-width="3"/>
<line x1="551.65" y1="1346.4" x2="551.65" y2="1361.2" stroke="#000" stroke-width="3"/>
<line x1="543.65" y1="1346.4" x2="559.65" y2="1346.4" stroke="#000" stroke-width="3"/>
<line x1="543.65" y1="1361.2" x2="559.65" y2="1361.2" stroke="#000" stroke-width="3"/>
<line x1="601.37" y1="1341.4" x2="601.37" y2="1356.2" stroke="#000" stroke-width="3"/>
<line x1="593.37" y1="1341.4" x2="609.37" y2="1341.4" stroke="#000" stroke-width="3"/>
<line x1="593.37" y1="1356.2" x2="609.37" y2="1356.2" stroke="#000" stroke-width="3"/>
<line x1="651.1" y1="1320.6" x2="651.1" y2="1333.4" stroke="#000" stroke-width="3"/>
<line x1="643.1" y1="1320.6" x2="659.1" y2="1320.6" stroke="#000" stroke-width="3"/>
<line x1="643.1" y1="1333.4" x2="659.1" y2="1333.4" stroke="#000" stroke-width="3"/>
<line x1="700.82" y1="1326.5" x2="700.82" y2="1344.7" stroke="#000" stroke-width="3"/>
<line x1="692.82" y1="1326.5" x2="708.82" y2="1326.5" stroke="#000" stroke-width="3"/>
<line x1="692.82" y1="1344.7" x2="708.82" y2="1344.7" stroke="#000" stroke-width="3"/>
<line x1="750.54" y1="1313" x2="750.54" y2="1330.4" stroke="#000" stroke-width="3"/>
<line x1="742.54" y1="1313" x2="758.54" y2="1313" stroke="#000" stroke-width="3"/>
<line x1="742.54" y1="1330.4" x2="758.54" y2="1330.4" stroke="#000" stroke-width="3"/>
<line x1="800.26" y1="1320.8" x2="800.26" y2="1336" stroke="#000" stroke-width="3"/>
<line x1="792.26" y1="1320.8" x2="808.26" y2="1320.8" stroke="#000" stroke-width="3"/>
<line x1="792.26" y1="1336" x2="808.26" y2="1336" stroke="#000" stroke-width="3"/>
<line x1="849.99" y1="1315.6" x2="849.99" y2="1331.8" stroke="#000" stroke-width="3"/>
<line x1="841.99" y1="1315.6" x2="857.99" y2="1315.6" stroke="#000" stroke-width="3"/>
<line x1="841.99" y1="1331.8" x2="857.99" y2="1331.8" stroke="#000" stroke-width="3"/>
<line x1="899.71" y1="1310.8" x2="899.71" y2="1327.2" stroke="#000" stroke-width="3"/>
<line x1="891.71" y1="1310.8" x2="907.71" y2="1310.8" stroke="#000" stroke-width="3"/>
<line x1="891.71" y1="1327.2" x2="907.71" y2="1327.2" stroke="#000" stroke-width="3"/>
<line x1="949.44" y1="1304.9" x2="949.44" y2="1324.3" stroke="#000" stroke-width="3"/>
<line x1="941.44" y1="1304.9" x2="957.44" y2="1304.9" stroke="#000" stroke-width="3"/>
<line x1="941.44" y1="1324.3" x2="957.44" y2="1324.3" stroke="#000" stroke-width="3"/>
<line x1="999.16" y1="1306.2" x2="999.16" y2="1330.4" stroke="#000" stroke-width="3"/>
<line x1="991.16" y1="1306.2" x2="1007.16" y2="1306.2" stroke="#000" stroke-width="3"/>
<line x1="991.16" y1="1330.4" x2="1007.16" y2="1330.4" stroke="#000" stroke-width="3"/>
<line x1="1048.88" y1="1300.9" x2="1048.88" y2="1325.7" stroke="#000" stroke-width="3"/>
<line x1="1040.88" y1="1300.9" x2="1056.88" y2="1300.9" stroke="#000" stroke-width="3"/>
<line x1="1040.88" y1="1325.7" x2="1056.88" y2="1325.7" stroke="#000" stroke-width="3"/>
<line x1="1098.61" y1="1294.3" x2="1098.61" y2="1319.7" stroke="#000" stroke-width="3"/>
<line x1="1090.61" y1="1294.3" x2="1106.61" y2="1294.3" stroke="#000" stroke-width="3"/>
<line x1="1090.61" y1="1319.7" x2="1106.61" y2="1319.7" stroke="#000" stroke-width="3"/>
<line x1="1198.05" y1="1387.8" x2="1198.05" y2="1409.4" stroke="#000" stroke-width="3"/>
<line x1="1190.05" y1="1387.8" x2="1206.05" y2="1387.8" stroke="#000" stroke-width="3"/>
<line x1="1190.05" y1="1409.4" x2="1206.05" y2="1409.4" stroke="#000" stroke-width="3"/>
<line x1="1247.78" y1="1337.8" x2="1247.78" y2="1362.8" stroke="#000" stroke-width="3"/>
<line x1="1239.78" y1="1337.8" x2="1255.78" y2="1337.8" stroke="#000" stroke-width="3"/>
<line x1="1239.78" y1="1362.8" x2="1255.78" y2="1362.8" stroke="#000" stroke-width="3"/>
<line x1="1297.5" y1="1344.7" x2="1297.5" y2="1375.1" stroke="#000" stroke-width="3"/>
<line x1="1289.5" y1="1344.7" x2="1305.5" y2="1344.7" stroke="#000" stroke-width="3"/>
<line x1="1289.5" y1="1375.1" x2="1305.5" y2="1375.1" stroke="#000" stroke-width="3"/>
<line x1="1347.22" y1="1307.2" x2="1347.22" y2="1333.6" stroke="#000" stroke-width="3"/>
<line x1="1339.22" y1="1307.2" x2="1355.22" y2="1307.2" stroke="#000" stroke-width="3"/>
<line x1="1339.22" y1="1333.6" x2="1355.22" y2="1333.6" stroke="#000" stroke-width="3"/>
<line x1="1396.95" y1="1311.7" x2="1396.95" y2="1346.3" stroke="#000" stroke-width="3"/>
<line x1="1388.95" y1="1311.7" x2="1404.95" y2="1311.7" stroke="#000" stroke-width="3"/>
<line x1="1388.95" y1="1346.3" x2="1404.95" y2="1346.3" stroke="#000" stroke-width="3"/>
<line x1="1446.67" y1="1329.6" x2="1446.67" y2="1357.2" stroke="#000" stroke-width="3"/>
<line x1="1438.67" y1="1329.6" x2="1454.67" y2="1329.6" stroke="#000" stroke-width="3"/>
<line x1="1438.67" y1="1357.2" x2="1454.67" y2="1357.2" stroke="#000" stroke-width="3"/>
<line x1="1496.39" y1="1309.1" x2="1496.39" y2="1342.9" stroke="#000" stroke-width="3"/>
<line x1="1488.39" y1="1309.1" x2="1504.39" y2="1309.1" stroke="#000" stroke-width="3"/>
<line x1="1488.39" y1="1342.9" x2="1504.39" y2="1342.9" stroke="#000" stroke-width="3"/>
<line x1="1546.12" y1="1326.1" x2="1546.12" y2="1368.3" stroke="#000" stroke-width="3"/>
<line x1="1538.12" y1="1326.1" x2="1554.12" y2="1326.1" stroke="#000" stroke-width="3"/>
<line x1="1538.12" y1="1368.3" x2="1554.12" y2="1368.3" stroke="#000" stroke-width="3"/>
<line x1="1595.84" y1="1333.1" x2="1595.84" y2="1360.3" stroke="#000" stroke-width="3"/>
<line x1="1587.84" y1="1333.1" x2="1603.84" y2="1333.1" stroke="#000" stroke-width="3"/>
<line x1="1587.84" y1="1360.3" x2="1603.84" y2="1360.3" stroke="#000" stroke-width="3"/>
<rect x="150.46" y="1396.3" width="6.8" height="6.8" fill="#dadada" stroke="#b9b9b9" stroke-width="1.1"/>
<rect x="200.19" y="1391.3" width="6.8" height="6.8" fill="#dadada" stroke="#b9b9b9" stroke-width="1.1"/>
<rect x="249.91" y="1387.3" width="6.8" height="6.8" fill="#dadada" stroke="#b9b9b9" stroke-width="1.1"/>
<rect x="299.63" y="1371.8" width="6.8" height="6.8" fill="#dadada" stroke="#b9b9b9" stroke-width="1.1"/>
<rect x="349.36" y="1367.9" width="6.8" height="6.8" fill="#dadada" stroke="#b9b9b9" stroke-width="1.1"/>
<rect x="399.08" y="1363.6" width="6.8" height="6.8" fill="#dadada" stroke="#b9b9b9" stroke-width="1.1"/>
<rect x="448.8" y="1346.6" width="6.8" height="6.8" fill="#dadada" stroke="#b9b9b9" stroke-width="1.1"/>
<rect x="498.53" y="1345.6" width="6.8" height="6.8" fill="#dadada" stroke="#b9b9b9" stroke-width="1.1"/>
<rect x="548.25" y="1350.4" width="6.8" height="6.8" fill="#dadada" stroke="#b9b9b9" stroke-width="1.1"/>
<rect x="597.97" y="1345.4" width="6.8" height="6.8" fill="#dadada" stroke="#b9b9b9" stroke-width="1.1"/>
<rect x="647.7" y="1323.6" width="6.8" height="6.8" fill="#dadada" stroke="#b9b9b9" stroke-width="1.1"/>
<rect x="697.42" y="1332.2" width="6.8" height="6.8" fill="#dadada" stroke="#b9b9b9" stroke-width="1.1"/>
<rect x="747.14" y="1318.3" width="6.8" height="6.8" fill="#dadada" stroke="#b9b9b9" stroke-width="1.1"/>
<rect x="796.87" y="1325" width="6.8" height="6.8" fill="#dadada" stroke="#b9b9b9" stroke-width="1.1"/>
<rect x="846.59" y="1320.3" width="6.8" height="6.8" fill="#dadada" stroke="#b9b9b9" stroke-width="1.1"/>
<rect x="896.31" y="1315.6" width="6.8" height="6.8" fill="#dadada" stroke="#b9b9b9" stroke-width="1.1"/>
<rect x="946.04" y="1311.2" width="6.8" height="6.8" fill="#dadada" stroke="#b9b9b9" stroke-width="1.1"/>
<rect x="995.76" y="1314.9" width="6.8" height="6.8" fill="#dadada" stroke="#b9b9b9" stroke-width="1.1"/>
<rect x="1045.48" y="1309.9" width="6.8" height="6.8" fill="#dadada" stroke="#b9b9b9" stroke-width="1.1"/>
<rect x="1095.2" y="1303.6" width="6.8" height="6.8" fill="#dadada" stroke="#b9b9b9" stroke-width="1.1"/>
<rect x="1194.65" y="1395.2" width="6.8" height="6.8" fill="#dadada" stroke="#b9b9b9" stroke-width="1.1"/>
<rect x="1244.38" y="1346.9" width="6.8" height="6.8" fill="#dadada" stroke="#b9b9b9" stroke-width="1.1"/>
<rect x="1294.1" y="1356.5" width="6.8" height="6.8" fill="#dadada" stroke="#b9b9b9" stroke-width="1.1"/>
<rect x="1343.82" y="1317" width="6.8" height="6.8" fill="#dadada" stroke="#b9b9b9" stroke-width="1.1"/>
<rect x="1393.55" y="1325.6" width="6.8" height="6.8" fill="#dadada" stroke="#b9b9b9" stroke-width="1.1"/>
<rect x="1443.27" y="1340" width="6.8" height="6.8" fill="#dadada" stroke="#b9b9b9" stroke-width="1.1"/>
<rect x="1492.99" y="1322.6" width="6.8" height="6.8" fill="#dadada" stroke="#b9b9b9" stroke-width="1.1"/>
<rect x="1542.71" y="1343.8" width="6.8" height="6.8" fill="#dadada" stroke="#b9b9b9" stroke-width="1.1"/>
<rect x="1592.44" y="1343.3" width="6.8" height="6.8" fill="#dadada" stroke="#b9b9b9" stroke-width="1.1"/>
<polyline points="153.86,1399.7 203.59,1394.7 253.31,1390.7 303.03,1375.2 352.75,1371.3 402.48,1367 452.2,1350 501.93,1349 551.65,1353.8 601.37,1348.8 651.1,1327 700.82,1335.6 750.54,1321.7 800.26,1328.4 849.99,1323.7 899.71,1319 949.44,1314.6 999.16,1318.3 1048.88,1313.3 1098.61,1307" fill="none" stroke="#000" stroke-width="3.5" stroke-linejoin="round" stroke-linecap="round"/>
<polyline points="1198.05,1398.6 1247.78,1350.3 1297.5,1359.9 1347.22,1320.4 1396.95,1329 1446.67,1343.4 1496.39,1326 1546.12,1347.2 1595.84,1346.7" fill="none" stroke="#000" stroke-width="3.5" stroke-linejoin="round" stroke-linecap="round"/>
<polyline points="153.86,1397.9 203.59,1392.8 253.31,1388.6 303.03,1373.8 352.75,1369.8 402.48,1365.6 452.2,1349.2 501.93,1348.3 551.65,1352.5 601.37,1348.1 651.1,1327.1 700.82,1335.1 750.54,1321.9 800.26,1327.9 849.99,1323.5 899.71,1318.8 949.44,1315 999.16,1317.7 1048.88,1312.7 1098.61,1307" fill="none" stroke="#000" stroke-width="8.5" stroke-linecap="round" stroke-linejoin="round" stroke-dasharray="0.01 17.72"/>
<polyline points="1198.05,1396.6 1247.78,1350 1297.5,1358.2 1347.22,1321 1396.95,1328.8 1446.67,1343 1496.39,1326 1546.12,1346.2 1595.84,1346" fill="none" stroke="#000" stroke-width="8.5" stroke-linecap="round" stroke-linejoin="round" stroke-dasharray="0.01 17.72"/>
<circle cx="153.86" cy="1397.9" r="4.7" fill="#000"/>
<circle cx="203.59" cy="1392.8" r="4.7" fill="#000"/>
<circle cx="253.31" cy="1388.6" r="4.7" fill="#000"/>
<circle cx="303.03" cy="1373.8" r="4.7" fill="#000"/>
<circle cx="352.75" cy="1369.8" r="4.7" fill="#000"/>
<circle cx="402.48" cy="1365.6" r="4.7" fill="#000"/>
<circle cx="452.2" cy="1349.2" r="4.7" fill="#000"/>
<circle cx="501.93" cy="1348.3" r="4.7" fill="#000"/>
<circle cx="551.65" cy="1352.5" r="4.7" fill="#000"/>
<circle cx="601.37" cy="1348.1" r="4.7" fill="#000"/>
<circle cx="651.1" cy="1327.1" r="4.7" fill="#000"/>
<circle cx="700.82" cy="1335.1" r="4.7" fill="#000"/>
<circle cx="750.54" cy="1321.9" r="4.7" fill="#000"/>
<circle cx="800.26" cy="1327.9" r="4.7" fill="#000"/>
<circle cx="849.99" cy="1323.5" r="4.7" fill="#000"/>
<circle cx="899.71" cy="1318.8" r="4.7" fill="#000"/>
<circle cx="949.44" cy="1315" r="4.7" fill="#000"/>
<circle cx="999.16" cy="1317.7" r="4.7" fill="#000"/>
<circle cx="1048.88" cy="1312.7" r="4.7" fill="#000"/>
<circle cx="1098.61" cy="1307" r="4.7" fill="#000"/>
<circle cx="1198.05" cy="1396.6" r="4.7" fill="#000"/>
<circle cx="1247.78" cy="1350" r="4.7" fill="#000"/>
<circle cx="1297.5" cy="1358.2" r="4.7" fill="#000"/>
<circle cx="1347.22" cy="1321" r="4.7" fill="#000"/>
<circle cx="1396.95" cy="1328.8" r="4.7" fill="#000"/>
<circle cx="1446.67" cy="1343" r="4.7" fill="#000"/>
<circle cx="1496.39" cy="1326" r="4.7" fill="#000"/>
<circle cx="1546.12" cy="1346.2" r="4.7" fill="#000"/>
<circle cx="1595.84" cy="1346" r="4.7" fill="#000"/>
</g>
<g>
<line x1="946.7" y1="1061.5" x2="1036.8" y2="1061.5" stroke="#000" stroke-width="3.4" stroke-linecap="round"/>
<rect x="988.35" y="1058.35" width="6.8" height="6.8" fill="#dadada" stroke="#b9b9b9" stroke-width="1.1"/>
<line x1="1321.7" y1="1061.5" x2="1411.6" y2="1061.5" stroke="#000" stroke-width="9.1" stroke-linecap="round" stroke-dasharray="0.01 17.88"/>
<circle cx="1366.4" cy="1061.5" r="4.7" fill="#000"/>
</g>
<g>
<text y="1069.5" font-size="23.5"><tspan x="1046.23" textLength="109.17" lengthAdjust="spacingAndGlyphs">Sleepiness</tspan> <tspan x="1160.43" textLength="55.37" lengthAdjust="spacingAndGlyphs">score</tspan></text>
<text y="1069.5" font-size="23.5"><tspan x="1421.32" textLength="103.14" lengthAdjust="spacingAndGlyphs">Simulated</tspan> <tspan x="1528.78" textLength="39.99" lengthAdjust="spacingAndGlyphs">KSS</tspan> <tspan x="1574.22" textLength="55.98" lengthAdjust="spacingAndGlyphs">score</tspan></text>
<text y="1110.2" font-size="38.4"><tspan x="27.45" font-size="33.8" stroke-width="1.3" textLength="8.77" lengthAdjust="spacingAndGlyphs">(</tspan><tspan x="37.08" font-size="38.4" textLength="23.85" lengthAdjust="spacingAndGlyphs">C</tspan><tspan x="61.7" font-size="33.8" stroke-width="1.3" textLength="9.3" lengthAdjust="spacingAndGlyphs">)</tspan></text>
<text y="1110.5" font-size="28.8"><tspan x="80.59" textLength="143.27" lengthAdjust="spacingAndGlyphs">Simulation</tspan> <tspan x="231.46" textLength="27.88" lengthAdjust="spacingAndGlyphs">of</tspan> <tspan x="266.16" textLength="47.54" lengthAdjust="spacingAndGlyphs">KSS</tspan> <tspan x="320.85" textLength="70.79" lengthAdjust="spacingAndGlyphs">score</tspan> <tspan x="397.92" textLength="72.59" lengthAdjust="spacingAndGlyphs">using</tspan> <tspan x="475.91" textLength="101.7" lengthAdjust="spacingAndGlyphs">relative</tspan> <tspan x="584.34" textLength="137.48" lengthAdjust="spacingAndGlyphs">sleepiness</tspan> <tspan x="728.85" textLength="70.79" lengthAdjust="spacingAndGlyphs">score</tspan> <tspan x="807.57" textLength="37.03" lengthAdjust="spacingAndGlyphs">for</tspan> <tspan x="852.85" textLength="27.82" lengthAdjust="spacingAndGlyphs">W</tspan></text>
<text x="105.6" y="1240.85" font-size="23.1" text-anchor="end" textLength="44.28" lengthAdjust="spacingAndGlyphs">0.05</text>
<text x="105.6" y="1359.55" font-size="23.1" text-anchor="end" textLength="44.28" lengthAdjust="spacingAndGlyphs">0.00</text>
<text x="105.6" y="1478.25" font-size="23.1" text-anchor="end" textLength="51.86" lengthAdjust="spacingAndGlyphs">-0.05</text>
<text x="1644.3" y="1148.05" font-size="23.1" textLength="12.08" lengthAdjust="spacingAndGlyphs">9</text>
<text x="1644.3" y="1214.1" font-size="23.1" textLength="12.08" lengthAdjust="spacingAndGlyphs">8</text>
<text x="1644.3" y="1280.15" font-size="23.1" textLength="12.08" lengthAdjust="spacingAndGlyphs">7</text>
<text x="1644.3" y="1346.2" font-size="23.1" textLength="12.08" lengthAdjust="spacingAndGlyphs">6</text>
<text x="1644.3" y="1412.25" font-size="23.1" textLength="12.08" lengthAdjust="spacingAndGlyphs">5</text>
<text x="1644.3" y="1478.3" font-size="23.1" textLength="12.08" lengthAdjust="spacingAndGlyphs">4</text>
<text y="31.8" font-size="23" transform="rotate(-90)"><tspan x="-1447.46" textLength="107.56" lengthAdjust="spacingAndGlyphs">Sleepiness</tspan> <tspan x="-1334.47" textLength="55.47" lengthAdjust="spacingAndGlyphs">score</tspan> <tspan x="-1273" textLength="12.38" lengthAdjust="spacingAndGlyphs">±</tspan> <tspan x="-1255.77" textLength="45.34" lengthAdjust="spacingAndGlyphs">SEM</tspan></text>
<text y="1714.7" font-size="23" transform="rotate(-90)"><tspan x="-1369.84" textLength="37.52" lengthAdjust="spacingAndGlyphs">KSS</tspan> <tspan x="-1327.72" textLength="55.26" lengthAdjust="spacingAndGlyphs">score</tspan> <tspan x="-1266.45" textLength="12.38" lengthAdjust="spacingAndGlyphs">±</tspan> <tspan x="-1248.72" textLength="45.34" lengthAdjust="spacingAndGlyphs">SEM</tspan></text>
<text x="203.59" y="1511.1" font-size="23.1" text-anchor="middle" textLength="11.56" lengthAdjust="spacingAndGlyphs">1</text>
<text x="303.03" y="1511.1" font-size="23.1" text-anchor="middle" textLength="11.56" lengthAdjust="spacingAndGlyphs">2</text>
<text x="402.48" y="1511.1" font-size="23.1" text-anchor="middle" textLength="11.56" lengthAdjust="spacingAndGlyphs">3</text>
<text x="501.93" y="1511.1" font-size="23.1" text-anchor="middle" textLength="11.56" lengthAdjust="spacingAndGlyphs">4</text>
<text x="601.37" y="1511.1" font-size="23.1" text-anchor="middle" textLength="11.56" lengthAdjust="spacingAndGlyphs">5</text>
<text x="700.82" y="1511.1" font-size="23.1" text-anchor="middle" textLength="11.56" lengthAdjust="spacingAndGlyphs">6</text>
<text x="800.26" y="1511.1" font-size="23.1" text-anchor="middle" textLength="11.56" lengthAdjust="spacingAndGlyphs">7</text>
<text x="899.71" y="1511.1" font-size="23.1" text-anchor="middle" textLength="11.56" lengthAdjust="spacingAndGlyphs">8</text>
<text x="999.16" y="1511.1" font-size="23.1" text-anchor="middle" textLength="11.56" lengthAdjust="spacingAndGlyphs">9</text>
<text x="1098.61" y="1511.1" font-size="23.1" text-anchor="middle" textLength="23.9" lengthAdjust="spacingAndGlyphs">10</text>
<text x="1198.05" y="1511.1" font-size="23.1" text-anchor="middle" textLength="11.56" lengthAdjust="spacingAndGlyphs">5</text>
<text x="1247.78" y="1511.1" font-size="23.1" text-anchor="middle" textLength="23.9" lengthAdjust="spacingAndGlyphs">15</text>
<text x="1297.5" y="1511.1" font-size="23.1" text-anchor="middle" textLength="23.9" lengthAdjust="spacingAndGlyphs">25</text>
<text x="1347.22" y="1511.1" font-size="23.1" text-anchor="middle" textLength="23.9" lengthAdjust="spacingAndGlyphs">35</text>
<text x="1396.95" y="1511.1" font-size="23.1" text-anchor="middle" textLength="23.9" lengthAdjust="spacingAndGlyphs">45</text>
<text x="1446.67" y="1511.1" font-size="23.1" text-anchor="middle" textLength="23.9" lengthAdjust="spacingAndGlyphs">55</text>
<text x="1496.39" y="1511.1" font-size="23.1" text-anchor="middle" textLength="23.9" lengthAdjust="spacingAndGlyphs">65</text>
<text x="1546.12" y="1511.1" font-size="23.1" text-anchor="middle" textLength="23.9" lengthAdjust="spacingAndGlyphs">75</text>
<text x="1595.84" y="1511.1" font-size="23.1" text-anchor="middle" textLength="23.9" lengthAdjust="spacingAndGlyphs">85</text>
<text y="1560.2" font-size="23.5"><tspan x="547.73" textLength="38.48" lengthAdjust="spacingAndGlyphs">The</tspan> <tspan x="591.83" textLength="41.49" lengthAdjust="spacingAndGlyphs">first</tspan> <tspan x="639.2" textLength="25.07" lengthAdjust="spacingAndGlyphs">10</tspan> <tspan x="669.01" textLength="85.55" lengthAdjust="spacingAndGlyphs">minutes</tspan></text>
<text y="1560.2" font-size="23.5"><tspan x="1303.05" textLength="13.05" lengthAdjust="spacingAndGlyphs">9</tspan> <tspan x="1322.08" textLength="73.77" lengthAdjust="spacingAndGlyphs">10-min</tspan> <tspan x="1401.05" textLength="89.39" lengthAdjust="spacingAndGlyphs">intervals</tspan></text>
</g>
<g transform="translate(0 0.25)">
<line x1="129" y1="1654.35" x2="129" y2="1994.2" stroke="#848484" stroke-width="2"/>
<line x1="1620.35" y1="1654.35" x2="1620.35" y2="1994.2" stroke="#848484" stroke-width="2"/>
<line x1="121.2" y1="1654.6" x2="129" y2="1654.6" stroke="#848484" stroke-width="1.8"/>
<line x1="121.2" y1="1767.8" x2="129" y2="1767.8" stroke="#848484" stroke-width="1.8"/>
<line x1="121.2" y1="1881" x2="129" y2="1881" stroke="#848484" stroke-width="1.8"/>
<line x1="121.2" y1="1994.2" x2="129" y2="1994.2" stroke="#848484" stroke-width="1.8"/>
<line x1="1620.35" y1="1679.85" x2="1628.35" y2="1679.85" stroke="#848484" stroke-width="1.8"/>
<line x1="1620.35" y1="1742.72" x2="1628.35" y2="1742.72" stroke="#848484" stroke-width="1.8"/>
<line x1="1620.35" y1="1805.59" x2="1628.35" y2="1805.59" stroke="#848484" stroke-width="1.8"/>
<line x1="1620.35" y1="1868.46" x2="1628.35" y2="1868.46" stroke="#848484" stroke-width="1.8"/>
<line x1="1620.35" y1="1931.33" x2="1628.35" y2="1931.33" stroke="#848484" stroke-width="1.8"/>
<line x1="1620.35" y1="1994.2" x2="1628.35" y2="1994.2" stroke="#848484" stroke-width="1.8"/>
<line x1="129" y1="1881" x2="1620.35" y2="1881" stroke="#bfbfbf" stroke-width="1.8"/>
<line x1="129" y1="1881" x2="129" y2="1872.8" stroke="#bfbfbf" stroke-width="1.8"/>
<line x1="178.72" y1="1881" x2="178.72" y2="1872.8" stroke="#bfbfbf" stroke-width="1.8"/>
<line x1="228.45" y1="1881" x2="228.45" y2="1872.8" stroke="#bfbfbf" stroke-width="1.8"/>
<line x1="278.17" y1="1881" x2="278.17" y2="1872.8" stroke="#bfbfbf" stroke-width="1.8"/>
<line x1="327.89" y1="1881" x2="327.89" y2="1872.8" stroke="#bfbfbf" stroke-width="1.8"/>
<line x1="377.62" y1="1881" x2="377.62" y2="1872.8" stroke="#bfbfbf" stroke-width="1.8"/>
<line x1="427.34" y1="1881" x2="427.34" y2="1872.8" stroke="#bfbfbf" stroke-width="1.8"/>
<line x1="477.06" y1="1881" x2="477.06" y2="1872.8" stroke="#bfbfbf" stroke-width="1.8"/>
<line x1="526.79" y1="1881" x2="526.79" y2="1872.8" stroke="#bfbfbf" stroke-width="1.8"/>
<line x1="576.51" y1="1881" x2="576.51" y2="1872.8" stroke="#bfbfbf" stroke-width="1.8"/>
<line x1="626.23" y1="1881" x2="626.23" y2="1872.8" stroke="#bfbfbf" stroke-width="1.8"/>
<line x1="675.96" y1="1881" x2="675.96" y2="1872.8" stroke="#bfbfbf" stroke-width="1.8"/>
<line x1="725.68" y1="1881" x2="725.68" y2="1872.8" stroke="#bfbfbf" stroke-width="1.8"/>
<line x1="775.4" y1="1881" x2="775.4" y2="1872.8" stroke="#bfbfbf" stroke-width="1.8"/>
<line x1="825.13" y1="1881" x2="825.13" y2="1872.8" stroke="#bfbfbf" stroke-width="1.8"/>
<line x1="874.85" y1="1881" x2="874.85" y2="1872.8" stroke="#bfbfbf" stroke-width="1.8"/>
<line x1="924.57" y1="1881" x2="924.57" y2="1872.8" stroke="#bfbfbf" stroke-width="1.8"/>
<line x1="974.3" y1="1881" x2="974.3" y2="1872.8" stroke="#bfbfbf" stroke-width="1.8"/>
<line x1="1024.02" y1="1881" x2="1024.02" y2="1872.8" stroke="#bfbfbf" stroke-width="1.8"/>
<line x1="1073.74" y1="1881" x2="1073.74" y2="1872.8" stroke="#bfbfbf" stroke-width="1.8"/>
<line x1="1123.47" y1="1881" x2="1123.47" y2="1872.8" stroke="#bfbfbf" stroke-width="1.8"/>
<line x1="1173.19" y1="1881" x2="1173.19" y2="1872.8" stroke="#bfbfbf" stroke-width="1.8"/>
<line x1="1222.91" y1="1881" x2="1222.91" y2="1872.8" stroke="#bfbfbf" stroke-width="1.8"/>
<line x1="1272.64" y1="1881" x2="1272.64" y2="1872.8" stroke="#bfbfbf" stroke-width="1.8"/>
<line x1="1322.36" y1="1881" x2="1322.36" y2="1872.8" stroke="#bfbfbf" stroke-width="1.8"/>
<line x1="1372.08" y1="1881" x2="1372.08" y2="1872.8" stroke="#bfbfbf" stroke-width="1.8"/>
<line x1="1421.81" y1="1881" x2="1421.81" y2="1872.8" stroke="#bfbfbf" stroke-width="1.8"/>
<line x1="1471.53" y1="1881" x2="1471.53" y2="1872.8" stroke="#bfbfbf" stroke-width="1.8"/>
<line x1="1521.25" y1="1881" x2="1521.25" y2="1872.8" stroke="#bfbfbf" stroke-width="1.8"/>
<line x1="1570.98" y1="1881" x2="1570.98" y2="1872.8" stroke="#bfbfbf" stroke-width="1.8"/>
<line x1="1620.35" y1="1881" x2="1620.35" y2="1872.8" stroke="#bfbfbf" stroke-width="1.8"/>
<line x1="121.2" y1="1881" x2="128.2" y2="1881" stroke="#848484" stroke-width="1.8"/>
<line x1="178.72" y1="1994.2" x2="178.72" y2="2043" stroke="#bfbfbf" stroke-width="1.8"/>
<line x1="228.45" y1="1994.2" x2="228.45" y2="2043" stroke="#bfbfbf" stroke-width="1.8"/>
<line x1="278.17" y1="1994.2" x2="278.17" y2="2043" stroke="#bfbfbf" stroke-width="1.8"/>
<line x1="327.89" y1="1994.2" x2="327.89" y2="2043" stroke="#bfbfbf" stroke-width="1.8"/>
<line x1="377.62" y1="1994.2" x2="377.62" y2="2043" stroke="#bfbfbf" stroke-width="1.8"/>
<line x1="427.34" y1="1994.2" x2="427.34" y2="2043" stroke="#bfbfbf" stroke-width="1.8"/>
<line x1="477.06" y1="1994.2" x2="477.06" y2="2043" stroke="#bfbfbf" stroke-width="1.8"/>
<line x1="526.79" y1="1994.2" x2="526.79" y2="2043" stroke="#bfbfbf" stroke-width="1.8"/>
<line x1="576.51" y1="1994.2" x2="576.51" y2="2043" stroke="#bfbfbf" stroke-width="1.8"/>
<line x1="626.23" y1="1994.2" x2="626.23" y2="2043" stroke="#bfbfbf" stroke-width="1.8"/>
<line x1="675.96" y1="1994.2" x2="675.96" y2="2043" stroke="#bfbfbf" stroke-width="1.8"/>
<line x1="725.68" y1="1994.2" x2="725.68" y2="2043" stroke="#bfbfbf" stroke-width="1.8"/>
<line x1="775.4" y1="1994.2" x2="775.4" y2="2043" stroke="#bfbfbf" stroke-width="1.8"/>
<line x1="825.13" y1="1994.2" x2="825.13" y2="2043" stroke="#bfbfbf" stroke-width="1.8"/>
<line x1="874.85" y1="1994.2" x2="874.85" y2="2043" stroke="#bfbfbf" stroke-width="1.8"/>
<line x1="924.57" y1="1994.2" x2="924.57" y2="2043" stroke="#bfbfbf" stroke-width="1.8"/>
<line x1="974.3" y1="1994.2" x2="974.3" y2="2043" stroke="#bfbfbf" stroke-width="1.8"/>
<line x1="1024.02" y1="1994.2" x2="1024.02" y2="2043" stroke="#bfbfbf" stroke-width="1.8"/>
<line x1="1073.74" y1="1994.2" x2="1073.74" y2="2043" stroke="#bfbfbf" stroke-width="1.8"/>
<line x1="1123.47" y1="1994.2" x2="1123.47" y2="2043" stroke="#bfbfbf" stroke-width="1.8"/>
<line x1="1173.19" y1="1994.2" x2="1173.19" y2="2093" stroke="#bfbfbf" stroke-width="1.8"/>
<line x1="1222.91" y1="1994.2" x2="1222.91" y2="2043" stroke="#bfbfbf" stroke-width="1.8"/>
<line x1="1272.64" y1="1994.2" x2="1272.64" y2="2043" stroke="#bfbfbf" stroke-width="1.8"/>
<line x1="1322.36" y1="1994.2" x2="1322.36" y2="2043" stroke="#bfbfbf" stroke-width="1.8"/>
<line x1="1372.08" y1="1994.2" x2="1372.08" y2="2043" stroke="#bfbfbf" stroke-width="1.8"/>
<line x1="1421.81" y1="1994.2" x2="1421.81" y2="2043" stroke="#bfbfbf" stroke-width="1.8"/>
<line x1="1471.53" y1="1994.2" x2="1471.53" y2="2043" stroke="#bfbfbf" stroke-width="1.8"/>
<line x1="1521.25" y1="1994.2" x2="1521.25" y2="2043" stroke="#bfbfbf" stroke-width="1.8"/>
<line x1="1570.98" y1="1994.2" x2="1570.98" y2="2043" stroke="#bfbfbf" stroke-width="1.8"/>
<line x1="129" y1="1994.2" x2="129" y2="2093" stroke="#bfbfbf" stroke-width="1.8"/>
<line x1="1620.35" y1="1994.2" x2="1620.35" y2="2093" stroke="#bfbfbf" stroke-width="1.8"/>
</g>
<g transform="translate(0 0.25)">
<line x1="153.86" y1="1905" x2="153.86" y2="1930.2" stroke="#a8a8a8" stroke-width="2"/>
<line x1="145.86" y1="1905" x2="161.86" y2="1905" stroke="#b4b4b4" stroke-width="1"/>
<line x1="145.86" y1="1905.2" x2="161.86" y2="1905.2" stroke="#787878" stroke-width="3.5" stroke-dasharray="9.7 4.3 2 10"/>
<line x1="145.86" y1="1930.2" x2="161.86" y2="1930.2" stroke="#b4b4b4" stroke-width="1"/>
<line x1="145.86" y1="1930.4" x2="161.86" y2="1930.4" stroke="#787878" stroke-width="3.5" stroke-dasharray="9.7 4.3 2 10"/>
<line x1="203.59" y1="1901.5" x2="203.59" y2="1926.7" stroke="#a8a8a8" stroke-width="2"/>
<line x1="195.59" y1="1901.5" x2="211.59" y2="1901.5" stroke="#b4b4b4" stroke-width="1"/>
<line x1="195.59" y1="1901.7" x2="211.59" y2="1901.7" stroke="#787878" stroke-width="3.5" stroke-dasharray="9.7 4.3 2 10"/>
<line x1="195.59" y1="1926.7" x2="211.59" y2="1926.7" stroke="#b4b4b4" stroke-width="1"/>
<line x1="195.59" y1="1926.9" x2="211.59" y2="1926.9" stroke="#787878" stroke-width="3.5" stroke-dasharray="9.7 4.3 2 10"/>
<line x1="253.31" y1="1897.1" x2="253.31" y2="1922.3" stroke="#a8a8a8" stroke-width="2"/>
<line x1="245.31" y1="1897.1" x2="261.31" y2="1897.1" stroke="#b4b4b4" stroke-width="1"/>
<line x1="245.31" y1="1897.3" x2="261.31" y2="1897.3" stroke="#787878" stroke-width="3.5" stroke-dasharray="9.7 4.3 2 10"/>
<line x1="245.31" y1="1922.3" x2="261.31" y2="1922.3" stroke="#b4b4b4" stroke-width="1"/>
<line x1="245.31" y1="1922.5" x2="261.31" y2="1922.5" stroke="#787878" stroke-width="3.5" stroke-dasharray="9.7 4.3 2 10"/>
<line x1="303.03" y1="1886.1" x2="303.03" y2="1911.3" stroke="#a8a8a8" stroke-width="2"/>
<line x1="295.03" y1="1886.1" x2="311.03" y2="1886.1" stroke="#b4b4b4" stroke-width="1"/>
<line x1="295.03" y1="1886.3" x2="311.03" y2="1886.3" stroke="#787878" stroke-width="3.5" stroke-dasharray="9.7 4.3 2 10"/>
<line x1="295.03" y1="1911.3" x2="311.03" y2="1911.3" stroke="#b4b4b4" stroke-width="1"/>
<line x1="295.03" y1="1911.5" x2="311.03" y2="1911.5" stroke="#787878" stroke-width="3.5" stroke-dasharray="9.7 4.3 2 10"/>
<line x1="352.75" y1="1885.7" x2="352.75" y2="1910.9" stroke="#a8a8a8" stroke-width="2"/>
<line x1="344.75" y1="1885.7" x2="360.75" y2="1885.7" stroke="#b4b4b4" stroke-width="1"/>
<line x1="344.75" y1="1885.9" x2="360.75" y2="1885.9" stroke="#787878" stroke-width="3.5" stroke-dasharray="9.7 4.3 2 10"/>
<line x1="344.75" y1="1910.9" x2="360.75" y2="1910.9" stroke="#b4b4b4" stroke-width="1"/>
<line x1="344.75" y1="1911.1" x2="360.75" y2="1911.1" stroke="#787878" stroke-width="3.5" stroke-dasharray="9.7 4.3 2 10"/>
<line x1="402.48" y1="1883.8" x2="402.48" y2="1909" stroke="#a8a8a8" stroke-width="2"/>
<line x1="394.48" y1="1883.8" x2="410.48" y2="1883.8" stroke="#b4b4b4" stroke-width="1"/>
<line x1="394.48" y1="1884" x2="410.48" y2="1884" stroke="#787878" stroke-width="3.5" stroke-dasharray="9.7 4.3 2 10"/>
<line x1="394.48" y1="1909" x2="410.48" y2="1909" stroke="#b4b4b4" stroke-width="1"/>
<line x1="394.48" y1="1909.2" x2="410.48" y2="1909.2" stroke="#787878" stroke-width="3.5" stroke-dasharray="9.7 4.3 2 10"/>
<line x1="452.2" y1="1872.4" x2="452.2" y2="1897.6" stroke="#a8a8a8" stroke-width="2"/>
<line x1="444.2" y1="1872.4" x2="460.2" y2="1872.4" stroke="#b4b4b4" stroke-width="1"/>
<line x1="444.2" y1="1872.6" x2="460.2" y2="1872.6" stroke="#787878" stroke-width="3.5" stroke-dasharray="9.7 4.3 2 10"/>
<line x1="444.2" y1="1897.6" x2="460.2" y2="1897.6" stroke="#b4b4b4" stroke-width="1"/>
<line x1="444.2" y1="1897.8" x2="460.2" y2="1897.8" stroke="#787878" stroke-width="3.5" stroke-dasharray="9.7 4.3 2 10"/>
<line x1="501.93" y1="1872.6" x2="501.93" y2="1897.8" stroke="#a8a8a8" stroke-width="2"/>
<line x1="493.93" y1="1872.6" x2="509.93" y2="1872.6" stroke="#b4b4b4" stroke-width="1"/>
<line x1="493.93" y1="1872.8" x2="509.93" y2="1872.8" stroke="#787878" stroke-width="3.5" stroke-dasharray="9.7 4.3 2 10"/>
<line x1="493.93" y1="1897.8" x2="509.93" y2="1897.8" stroke="#b4b4b4" stroke-width="1"/>
<line x1="493.93" y1="1898" x2="509.93" y2="1898" stroke="#787878" stroke-width="3.5" stroke-dasharray="9.7 4.3 2 10"/>
<line x1="551.65" y1="1873.6" x2="551.65" y2="1898.8" stroke="#a8a8a8" stroke-width="2"/>
<line x1="543.65" y1="1873.6" x2="559.65" y2="1873.6" stroke="#b4b4b4" stroke-width="1"/>
<line x1="543.65" y1="1873.8" x2="559.65" y2="1873.8" stroke="#787878" stroke-width="3.5" stroke-dasharray="9.7 4.3 2 10"/>
<line x1="543.65" y1="1898.8" x2="559.65" y2="1898.8" stroke="#b4b4b4" stroke-width="1"/>
<line x1="543.65" y1="1899" x2="559.65" y2="1899" stroke="#787878" stroke-width="3.5" stroke-dasharray="9.7 4.3 2 10"/>
<line x1="601.37" y1="1868.9" x2="601.37" y2="1894.1" stroke="#a8a8a8" stroke-width="2"/>
<line x1="593.37" y1="1868.9" x2="609.37" y2="1868.9" stroke="#b4b4b4" stroke-width="1"/>
<line x1="593.37" y1="1869.1" x2="609.37" y2="1869.1" stroke="#787878" stroke-width="3.5" stroke-dasharray="9.7 4.3 2 10"/>
<line x1="593.37" y1="1894.1" x2="609.37" y2="1894.1" stroke="#b4b4b4" stroke-width="1"/>
<line x1="593.37" y1="1894.3" x2="609.37" y2="1894.3" stroke="#787878" stroke-width="3.5" stroke-dasharray="9.7 4.3 2 10"/>
<line x1="651.1" y1="1848.8" x2="651.1" y2="1874" stroke="#a8a8a8" stroke-width="2"/>
<line x1="643.1" y1="1848.8" x2="659.1" y2="1848.8" stroke="#b4b4b4" stroke-width="1"/>
<line x1="643.1" y1="1849" x2="659.1" y2="1849" stroke="#787878" stroke-width="3.5" stroke-dasharray="9.7 4.3 2 10"/>
<line x1="643.1" y1="1874" x2="659.1" y2="1874" stroke="#b4b4b4" stroke-width="1"/>
<line x1="643.1" y1="1874.2" x2="659.1" y2="1874.2" stroke="#787878" stroke-width="3.5" stroke-dasharray="9.7 4.3 2 10"/>
<line x1="700.82" y1="1856.5" x2="700.82" y2="1881.7" stroke="#a8a8a8" stroke-width="2"/>
<line x1="692.82" y1="1856.5" x2="708.82" y2="1856.5" stroke="#b4b4b4" stroke-width="1"/>
<line x1="692.82" y1="1856.7" x2="708.82" y2="1856.7" stroke="#787878" stroke-width="3.5" stroke-dasharray="9.7 4.3 2 10"/>
<line x1="692.82" y1="1881.7" x2="708.82" y2="1881.7" stroke="#b4b4b4" stroke-width="1"/>
<line x1="692.82" y1="1881.9" x2="708.82" y2="1881.9" stroke="#787878" stroke-width="3.5" stroke-dasharray="9.7 4.3 2 10"/>
<line x1="750.54" y1="1843.8" x2="750.54" y2="1869" stroke="#a8a8a8" stroke-width="2"/>
<line x1="742.54" y1="1843.8" x2="758.54" y2="1843.8" stroke="#b4b4b4" stroke-width="1"/>
<line x1="742.54" y1="1844" x2="758.54" y2="1844" stroke="#787878" stroke-width="3.5" stroke-dasharray="9.7 4.3 2 10"/>
<line x1="742.54" y1="1869" x2="758.54" y2="1869" stroke="#b4b4b4" stroke-width="1"/>
<line x1="742.54" y1="1869.2" x2="758.54" y2="1869.2" stroke="#787878" stroke-width="3.5" stroke-dasharray="9.7 4.3 2 10"/>
<line x1="800.26" y1="1845.9" x2="800.26" y2="1871.1" stroke="#a8a8a8" stroke-width="2"/>
<line x1="792.26" y1="1845.9" x2="808.26" y2="1845.9" stroke="#b4b4b4" stroke-width="1"/>
<line x1="792.26" y1="1846.1" x2="808.26" y2="1846.1" stroke="#787878" stroke-width="3.5" stroke-dasharray="9.7 4.3 2 10"/>
<line x1="792.26" y1="1871.1" x2="808.26" y2="1871.1" stroke="#b4b4b4" stroke-width="1"/>
<line x1="792.26" y1="1871.3" x2="808.26" y2="1871.3" stroke="#787878" stroke-width="3.5" stroke-dasharray="9.7 4.3 2 10"/>
<line x1="849.99" y1="1843.8" x2="849.99" y2="1869" stroke="#a8a8a8" stroke-width="2"/>
<line x1="841.99" y1="1843.8" x2="857.99" y2="1843.8" stroke="#b4b4b4" stroke-width="1"/>
<line x1="841.99" y1="1844" x2="857.99" y2="1844" stroke="#787878" stroke-width="3.5" stroke-dasharray="9.7 4.3 2 10"/>
<line x1="841.99" y1="1869" x2="857.99" y2="1869" stroke="#b4b4b4" stroke-width="1"/>
<line x1="841.99" y1="1869.2" x2="857.99" y2="1869.2" stroke="#787878" stroke-width="3.5" stroke-dasharray="9.7 4.3 2 10"/>
<line x1="899.71" y1="1840.2" x2="899.71" y2="1865.4" stroke="#a8a8a8" stroke-width="2"/>
<line x1="891.71" y1="1840.2" x2="907.71" y2="1840.2" stroke="#b4b4b4" stroke-width="1"/>
<line x1="891.71" y1="1840.4" x2="907.71" y2="1840.4" stroke="#787878" stroke-width="3.5" stroke-dasharray="9.7 4.3 2 10"/>
<line x1="891.71" y1="1865.4" x2="907.71" y2="1865.4" stroke="#b4b4b4" stroke-width="1"/>
<line x1="891.71" y1="1865.6" x2="907.71" y2="1865.6" stroke="#787878" stroke-width="3.5" stroke-dasharray="9.7 4.3 2 10"/>
<line x1="949.44" y1="1840.1" x2="949.44" y2="1865.3" stroke="#a8a8a8" stroke-width="2"/>
<line x1="941.44" y1="1840.1" x2="957.44" y2="1840.1" stroke="#b4b4b4" stroke-width="1"/>
<line x1="941.44" y1="1840.3" x2="957.44" y2="1840.3" stroke="#787878" stroke-width="3.5" stroke-dasharray="9.7 4.3 2 10"/>
<line x1="941.44" y1="1865.3" x2="957.44" y2="1865.3" stroke="#b4b4b4" stroke-width="1"/>
<line x1="941.44" y1="1865.5" x2="957.44" y2="1865.5" stroke="#787878" stroke-width="3.5" stroke-dasharray="9.7 4.3 2 10"/>
<line x1="999.16" y1="1843.3" x2="999.16" y2="1868.5" stroke="#a8a8a8" stroke-width="2"/>
<line x1="991.16" y1="1843.3" x2="1007.16" y2="1843.3" stroke="#b4b4b4" stroke-width="1"/>
<line x1="991.16" y1="1843.5" x2="1007.16" y2="1843.5" stroke="#787878" stroke-width="3.5" stroke-dasharray="9.7 4.3 2 10"/>
<line x1="991.16" y1="1868.5" x2="1007.16" y2="1868.5" stroke="#b4b4b4" stroke-width="1"/>
<line x1="991.16" y1="1868.7" x2="1007.16" y2="1868.7" stroke="#787878" stroke-width="3.5" stroke-dasharray="9.7 4.3 2 10"/>
<line x1="1048.88" y1="1829.9" x2="1048.88" y2="1855.1" stroke="#a8a8a8" stroke-width="2"/>
<line x1="1040.88" y1="1829.9" x2="1056.88" y2="1829.9" stroke="#b4b4b4" stroke-width="1"/>
<line x1="1040.88" y1="1830.1" x2="1056.88" y2="1830.1" stroke="#787878" stroke-width="3.5" stroke-dasharray="9.7 4.3 2 10"/>
<line x1="1040.88" y1="1855.1" x2="1056.88" y2="1855.1" stroke="#b4b4b4" stroke-width="1"/>
<line x1="1040.88" y1="1855.3" x2="1056.88" y2="1855.3" stroke="#787878" stroke-width="3.5" stroke-dasharray="9.7 4.3 2 10"/>
<line x1="1098.61" y1="1824.6" x2="1098.61" y2="1849.8" stroke="#a8a8a8" stroke-width="2"/>
<line x1="1090.61" y1="1824.6" x2="1106.61" y2="1824.6" stroke="#b4b4b4" stroke-width="1"/>
<line x1="1090.61" y1="1824.8" x2="1106.61" y2="1824.8" stroke="#787878" stroke-width="3.5" stroke-dasharray="9.7 4.3 2 10"/>
<line x1="1090.61" y1="1849.8" x2="1106.61" y2="1849.8" stroke="#b4b4b4" stroke-width="1"/>
<line x1="1090.61" y1="1850" x2="1106.61" y2="1850" stroke="#787878" stroke-width="3.5" stroke-dasharray="9.7 4.3 2 10"/>
<line x1="1198.05" y1="1926.5" x2="1198.05" y2="1951.7" stroke="#a8a8a8" stroke-width="2"/>
<line x1="1190.05" y1="1926.5" x2="1206.05" y2="1926.5" stroke="#b4b4b4" stroke-width="1"/>
<line x1="1190.05" y1="1926.7" x2="1206.05" y2="1926.7" stroke="#787878" stroke-width="3.5" stroke-dasharray="9.7 4.3 2 10"/>
<line x1="1190.05" y1="1951.7" x2="1206.05" y2="1951.7" stroke="#b4b4b4" stroke-width="1"/>
<line x1="1190.05" y1="1951.9" x2="1206.05" y2="1951.9" stroke="#787878" stroke-width="3.5" stroke-dasharray="9.7 4.3 2 10"/>
<line x1="1247.78" y1="1874.4" x2="1247.78" y2="1899.6" stroke="#a8a8a8" stroke-width="2"/>
<line x1="1239.78" y1="1874.4" x2="1255.78" y2="1874.4" stroke="#b4b4b4" stroke-width="1"/>
<line x1="1239.78" y1="1874.6" x2="1255.78" y2="1874.6" stroke="#787878" stroke-width="3.5" stroke-dasharray="9.7 4.3 2 10"/>
<line x1="1239.78" y1="1899.6" x2="1255.78" y2="1899.6" stroke="#b4b4b4" stroke-width="1"/>
<line x1="1239.78" y1="1899.8" x2="1255.78" y2="1899.8" stroke="#787878" stroke-width="3.5" stroke-dasharray="9.7 4.3 2 10"/>
<line x1="1297.5" y1="1881.6" x2="1297.5" y2="1906.8" stroke="#a8a8a8" stroke-width="2"/>
<line x1="1289.5" y1="1881.6" x2="1305.5" y2="1881.6" stroke="#b4b4b4" stroke-width="1"/>
<line x1="1289.5" y1="1881.8" x2="1305.5" y2="1881.8" stroke="#787878" stroke-width="3.5" stroke-dasharray="9.7 4.3 2 10"/>
<line x1="1289.5" y1="1906.8" x2="1305.5" y2="1906.8" stroke="#b4b4b4" stroke-width="1"/>
<line x1="1289.5" y1="1907" x2="1305.5" y2="1907" stroke="#787878" stroke-width="3.5" stroke-dasharray="9.7 4.3 2 10"/>
<line x1="1347.22" y1="1840.3" x2="1347.22" y2="1865.5" stroke="#a8a8a8" stroke-width="2"/>
<line x1="1339.22" y1="1840.3" x2="1355.22" y2="1840.3" stroke="#b4b4b4" stroke-width="1"/>
<line x1="1339.22" y1="1840.5" x2="1355.22" y2="1840.5" stroke="#787878" stroke-width="3.5" stroke-dasharray="9.7 4.3 2 10"/>
<line x1="1339.22" y1="1865.5" x2="1355.22" y2="1865.5" stroke="#b4b4b4" stroke-width="1"/>
<line x1="1339.22" y1="1865.7" x2="1355.22" y2="1865.7" stroke="#787878" stroke-width="3.5" stroke-dasharray="9.7 4.3 2 10"/>
<line x1="1396.95" y1="1836.1" x2="1396.95" y2="1861.3" stroke="#a8a8a8" stroke-width="2"/>
<line x1="1388.95" y1="1836.1" x2="1404.95" y2="1836.1" stroke="#b4b4b4" stroke-width="1"/>
<line x1="1388.95" y1="1836.3" x2="1404.95" y2="1836.3" stroke="#787878" stroke-width="3.5" stroke-dasharray="9.7 4.3 2 10"/>
<line x1="1388.95" y1="1861.3" x2="1404.95" y2="1861.3" stroke="#b4b4b4" stroke-width="1"/>
<line x1="1388.95" y1="1861.5" x2="1404.95" y2="1861.5" stroke="#787878" stroke-width="3.5" stroke-dasharray="9.7 4.3 2 10"/>
<line x1="1446.67" y1="1846.7" x2="1446.67" y2="1871.9" stroke="#a8a8a8" stroke-width="2"/>
<line x1="1438.67" y1="1846.7" x2="1454.67" y2="1846.7" stroke="#b4b4b4" stroke-width="1"/>
<line x1="1438.67" y1="1846.9" x2="1454.67" y2="1846.9" stroke="#787878" stroke-width="3.5" stroke-dasharray="9.7 4.3 2 10"/>
<line x1="1438.67" y1="1871.9" x2="1454.67" y2="1871.9" stroke="#b4b4b4" stroke-width="1"/>
<line x1="1438.67" y1="1872.1" x2="1454.67" y2="1872.1" stroke="#787878" stroke-width="3.5" stroke-dasharray="9.7 4.3 2 10"/>
<line x1="1496.39" y1="1824.5" x2="1496.39" y2="1849.7" stroke="#a8a8a8" stroke-width="2"/>
<line x1="1488.39" y1="1824.5" x2="1504.39" y2="1824.5" stroke="#b4b4b4" stroke-width="1"/>
<line x1="1488.39" y1="1824.7" x2="1504.39" y2="1824.7" stroke="#787878" stroke-width="3.5" stroke-dasharray="9.7 4.3 2 10"/>
<line x1="1488.39" y1="1849.7" x2="1504.39" y2="1849.7" stroke="#b4b4b4" stroke-width="1"/>
<line x1="1488.39" y1="1849.9" x2="1504.39" y2="1849.9" stroke="#787878" stroke-width="3.5" stroke-dasharray="9.7 4.3 2 10"/>
<line x1="1546.12" y1="1867.7" x2="1546.12" y2="1892.9" stroke="#a8a8a8" stroke-width="2"/>
<line x1="1538.12" y1="1867.7" x2="1554.12" y2="1867.7" stroke="#b4b4b4" stroke-width="1"/>
<line x1="1538.12" y1="1867.9" x2="1554.12" y2="1867.9" stroke="#787878" stroke-width="3.5" stroke-dasharray="9.7 4.3 2 10"/>
<line x1="1538.12" y1="1892.9" x2="1554.12" y2="1892.9" stroke="#b4b4b4" stroke-width="1"/>
<line x1="1538.12" y1="1893.1" x2="1554.12" y2="1893.1" stroke="#787878" stroke-width="3.5" stroke-dasharray="9.7 4.3 2 10"/>
<line x1="1595.84" y1="1859.2" x2="1595.84" y2="1884.4" stroke="#a8a8a8" stroke-width="2"/>
<line x1="1587.84" y1="1859.2" x2="1603.84" y2="1859.2" stroke="#b4b4b4" stroke-width="1"/>
<line x1="1587.84" y1="1859.4" x2="1603.84" y2="1859.4" stroke="#787878" stroke-width="3.5" stroke-dasharray="9.7 4.3 2 10"/>
<line x1="1587.84" y1="1884.4" x2="1603.84" y2="1884.4" stroke="#b4b4b4" stroke-width="1"/>
<line x1="1587.84" y1="1884.6" x2="1603.84" y2="1884.6" stroke="#787878" stroke-width="3.5" stroke-dasharray="9.7 4.3 2 10"/>
<line x1="153.86" y1="1909.5" x2="153.86" y2="1924.7" stroke="#000" stroke-width="3"/>
<line x1="145.86" y1="1909.5" x2="161.86" y2="1909.5" stroke="#000" stroke-width="3"/>
<line x1="145.86" y1="1924.7" x2="161.86" y2="1924.7" stroke="#000" stroke-width="3"/>
<line x1="203.59" y1="1905.6" x2="203.59" y2="1921.4" stroke="#000" stroke-width="3"/>
<line x1="195.59" y1="1905.6" x2="211.59" y2="1905.6" stroke="#000" stroke-width="3"/>
<line x1="195.59" y1="1921.4" x2="211.59" y2="1921.4" stroke="#000" stroke-width="3"/>
<line x1="253.31" y1="1902.2" x2="253.31" y2="1916" stroke="#000" stroke-width="3"/>
<line x1="245.31" y1="1902.2" x2="261.31" y2="1902.2" stroke="#000" stroke-width="3"/>
<line x1="245.31" y1="1916" x2="261.31" y2="1916" stroke="#000" stroke-width="3"/>
<line x1="303.03" y1="1890.8" x2="303.03" y2="1905.2" stroke="#000" stroke-width="3"/>
<line x1="295.03" y1="1890.8" x2="311.03" y2="1890.8" stroke="#000" stroke-width="3"/>
<line x1="295.03" y1="1905.2" x2="311.03" y2="1905.2" stroke="#000" stroke-width="3"/>
<line x1="352.75" y1="1891.7" x2="352.75" y2="1903.5" stroke="#000" stroke-width="3"/>
<line x1="344.75" y1="1891.7" x2="360.75" y2="1891.7" stroke="#000" stroke-width="3"/>
<line x1="344.75" y1="1903.5" x2="360.75" y2="1903.5" stroke="#000" stroke-width="3"/>
<line x1="402.48" y1="1888.4" x2="402.48" y2="1902.6" stroke="#000" stroke-width="3"/>
<line x1="394.48" y1="1888.4" x2="410.48" y2="1888.4" stroke="#000" stroke-width="3"/>
<line x1="394.48" y1="1902.6" x2="410.48" y2="1902.6" stroke="#000" stroke-width="3"/>
<line x1="452.2" y1="1875.6" x2="452.2" y2="1893" stroke="#000" stroke-width="3"/>
<line x1="444.2" y1="1875.6" x2="460.2" y2="1875.6" stroke="#000" stroke-width="3"/>
<line x1="444.2" y1="1893" x2="460.2" y2="1893" stroke="#000" stroke-width="3"/>
<line x1="501.93" y1="1876" x2="501.93" y2="1892.6" stroke="#000" stroke-width="3"/>
<line x1="493.93" y1="1876" x2="509.93" y2="1876" stroke="#000" stroke-width="3"/>
<line x1="493.93" y1="1892.6" x2="509.93" y2="1892.6" stroke="#000" stroke-width="3"/>
<line x1="551.65" y1="1877.5" x2="551.65" y2="1893.5" stroke="#000" stroke-width="3"/>
<line x1="543.65" y1="1877.5" x2="559.65" y2="1877.5" stroke="#000" stroke-width="3"/>
<line x1="543.65" y1="1893.5" x2="559.65" y2="1893.5" stroke="#000" stroke-width="3"/>
<line x1="601.37" y1="1872.6" x2="601.37" y2="1888.6" stroke="#000" stroke-width="3"/>
<line x1="593.37" y1="1872.6" x2="609.37" y2="1872.6" stroke="#000" stroke-width="3"/>
<line x1="593.37" y1="1888.6" x2="609.37" y2="1888.6" stroke="#000" stroke-width="3"/>
<line x1="651.1" y1="1853.1" x2="651.1" y2="1867.9" stroke="#000" stroke-width="3"/>
<line x1="643.1" y1="1853.1" x2="659.1" y2="1853.1" stroke="#000" stroke-width="3"/>
<line x1="643.1" y1="1867.9" x2="659.1" y2="1867.9" stroke="#000" stroke-width="3"/>
<line x1="700.82" y1="1858.7" x2="700.82" y2="1877.5" stroke="#000" stroke-width="3"/>
<line x1="692.82" y1="1858.7" x2="708.82" y2="1858.7" stroke="#000" stroke-width="3"/>
<line x1="692.82" y1="1877.5" x2="708.82" y2="1877.5" stroke="#000" stroke-width="3"/>
<line x1="750.54" y1="1846.5" x2="750.54" y2="1865.3" stroke="#000" stroke-width="3"/>
<line x1="742.54" y1="1846.5" x2="758.54" y2="1846.5" stroke="#000" stroke-width="3"/>
<line x1="742.54" y1="1865.3" x2="758.54" y2="1865.3" stroke="#000" stroke-width="3"/>
<line x1="800.26" y1="1850.5" x2="800.26" y2="1866.5" stroke="#000" stroke-width="3"/>
<line x1="792.26" y1="1850.5" x2="808.26" y2="1850.5" stroke="#000" stroke-width="3"/>
<line x1="792.26" y1="1866.5" x2="808.26" y2="1866.5" stroke="#000" stroke-width="3"/>
<line x1="849.99" y1="1846.9" x2="849.99" y2="1865.7" stroke="#000" stroke-width="3"/>
<line x1="841.99" y1="1846.9" x2="857.99" y2="1846.9" stroke="#000" stroke-width="3"/>
<line x1="841.99" y1="1865.7" x2="857.99" y2="1865.7" stroke="#000" stroke-width="3"/>
<line x1="899.71" y1="1842.7" x2="899.71" y2="1861.7" stroke="#000" stroke-width="3"/>
<line x1="891.71" y1="1842.7" x2="907.71" y2="1842.7" stroke="#000" stroke-width="3"/>
<line x1="891.71" y1="1861.7" x2="907.71" y2="1861.7" stroke="#000" stroke-width="3"/>
<line x1="949.44" y1="1841.6" x2="949.44" y2="1862.2" stroke="#000" stroke-width="3"/>
<line x1="941.44" y1="1841.6" x2="957.44" y2="1841.6" stroke="#000" stroke-width="3"/>
<line x1="941.44" y1="1862.2" x2="957.44" y2="1862.2" stroke="#000" stroke-width="3"/>
<line x1="999.16" y1="1842.7" x2="999.16" y2="1868.5" stroke="#000" stroke-width="3"/>
<line x1="991.16" y1="1842.7" x2="1007.16" y2="1842.7" stroke="#000" stroke-width="3"/>
<line x1="991.16" y1="1868.5" x2="1007.16" y2="1868.5" stroke="#000" stroke-width="3"/>
<line x1="1048.88" y1="1830" x2="1048.88" y2="1855.2" stroke="#000" stroke-width="3"/>
<line x1="1040.88" y1="1830" x2="1056.88" y2="1830" stroke="#000" stroke-width="3"/>
<line x1="1040.88" y1="1855.2" x2="1056.88" y2="1855.2" stroke="#000" stroke-width="3"/>
<line x1="1098.61" y1="1824" x2="1098.61" y2="1850" stroke="#000" stroke-width="3"/>
<line x1="1090.61" y1="1824" x2="1106.61" y2="1824" stroke="#000" stroke-width="3"/>
<line x1="1090.61" y1="1850" x2="1106.61" y2="1850" stroke="#000" stroke-width="3"/>
<line x1="1198.05" y1="1927.3" x2="1198.05" y2="1949.5" stroke="#000" stroke-width="3"/>
<line x1="1190.05" y1="1927.3" x2="1206.05" y2="1927.3" stroke="#000" stroke-width="3"/>
<line x1="1190.05" y1="1949.5" x2="1206.05" y2="1949.5" stroke="#000" stroke-width="3"/>
<line x1="1247.78" y1="1874.2" x2="1247.78" y2="1898.8" stroke="#000" stroke-width="3"/>
<line x1="1239.78" y1="1874.2" x2="1255.78" y2="1874.2" stroke="#000" stroke-width="3"/>
<line x1="1239.78" y1="1898.8" x2="1255.78" y2="1898.8" stroke="#000" stroke-width="3"/>
<line x1="1297.5" y1="1877.6" x2="1297.5" y2="1910.2" stroke="#000" stroke-width="3"/>
<line x1="1289.5" y1="1877.6" x2="1305.5" y2="1877.6" stroke="#000" stroke-width="3"/>
<line x1="1289.5" y1="1910.2" x2="1305.5" y2="1910.2" stroke="#000" stroke-width="3"/>
<line x1="1347.22" y1="1840.4" x2="1347.22" y2="1864.4" stroke="#000" stroke-width="3"/>
<line x1="1339.22" y1="1840.4" x2="1355.22" y2="1840.4" stroke="#000" stroke-width="3"/>
<line x1="1339.22" y1="1864.4" x2="1355.22" y2="1864.4" stroke="#000" stroke-width="3"/>
<line x1="1396.95" y1="1826.4" x2="1396.95" y2="1870" stroke="#000" stroke-width="3"/>
<line x1="1388.95" y1="1826.4" x2="1404.95" y2="1826.4" stroke="#000" stroke-width="3"/>
<line x1="1388.95" y1="1870" x2="1404.95" y2="1870" stroke="#000" stroke-width="3"/>
<line x1="1446.67" y1="1845" x2="1446.67" y2="1872.8" stroke="#000" stroke-width="3"/>
<line x1="1438.67" y1="1845" x2="1454.67" y2="1845" stroke="#000" stroke-width="3"/>
<line x1="1438.67" y1="1872.8" x2="1454.67" y2="1872.8" stroke="#000" stroke-width="3"/>
<line x1="1496.39" y1="1818.5" x2="1496.39" y2="1854.5" stroke="#000" stroke-width="3"/>
<line x1="1488.39" y1="1818.5" x2="1504.39" y2="1818.5" stroke="#000" stroke-width="3"/>
<line x1="1488.39" y1="1854.5" x2="1504.39" y2="1854.5" stroke="#000" stroke-width="3"/>
<line x1="1546.12" y1="1858.3" x2="1546.12" y2="1901.3" stroke="#000" stroke-width="3"/>
<line x1="1538.12" y1="1858.3" x2="1554.12" y2="1858.3" stroke="#000" stroke-width="3"/>
<line x1="1538.12" y1="1901.3" x2="1554.12" y2="1901.3" stroke="#000" stroke-width="3"/>
<line x1="1595.84" y1="1858.6" x2="1595.84" y2="1884.6" stroke="#000" stroke-width="3"/>
<line x1="1587.84" y1="1858.6" x2="1603.84" y2="1858.6" stroke="#000" stroke-width="3"/>
<line x1="1587.84" y1="1884.6" x2="1603.84" y2="1884.6" stroke="#000" stroke-width="3"/>
<rect x="150.46" y="1913.7" width="6.8" height="6.8" fill="#dadada" stroke="#b9b9b9" stroke-width="1.1"/>
<rect x="200.19" y="1910.1" width="6.8" height="6.8" fill="#dadada" stroke="#b9b9b9" stroke-width="1.1"/>
<rect x="249.91" y="1905.7" width="6.8" height="6.8" fill="#dadada" stroke="#b9b9b9" stroke-width="1.1"/>
<rect x="299.63" y="1894.6" width="6.8" height="6.8" fill="#dadada" stroke="#b9b9b9" stroke-width="1.1"/>
<rect x="349.36" y="1894.2" width="6.8" height="6.8" fill="#dadada" stroke="#b9b9b9" stroke-width="1.1"/>
<rect x="399.08" y="1892.1" width="6.8" height="6.8" fill="#dadada" stroke="#b9b9b9" stroke-width="1.1"/>
<rect x="448.8" y="1880.9" width="6.8" height="6.8" fill="#dadada" stroke="#b9b9b9" stroke-width="1.1"/>
<rect x="498.53" y="1880.9" width="6.8" height="6.8" fill="#dadada" stroke="#b9b9b9" stroke-width="1.1"/>
<rect x="548.25" y="1882.1" width="6.8" height="6.8" fill="#dadada" stroke="#b9b9b9" stroke-width="1.1"/>
<rect x="597.97" y="1877.2" width="6.8" height="6.8" fill="#dadada" stroke="#b9b9b9" stroke-width="1.1"/>
<rect x="647.7" y="1857.1" width="6.8" height="6.8" fill="#dadada" stroke="#b9b9b9" stroke-width="1.1"/>
<rect x="697.42" y="1864.7" width="6.8" height="6.8" fill="#dadada" stroke="#b9b9b9" stroke-width="1.1"/>
<rect x="747.14" y="1852.5" width="6.8" height="6.8" fill="#dadada" stroke="#b9b9b9" stroke-width="1.1"/>
<rect x="796.87" y="1855.1" width="6.8" height="6.8" fill="#dadada" stroke="#b9b9b9" stroke-width="1.1"/>
<rect x="846.59" y="1852.9" width="6.8" height="6.8" fill="#dadada" stroke="#b9b9b9" stroke-width="1.1"/>
<rect x="896.31" y="1848.8" width="6.8" height="6.8" fill="#dadada" stroke="#b9b9b9" stroke-width="1.1"/>
<rect x="946.04" y="1848.5" width="6.8" height="6.8" fill="#dadada" stroke="#b9b9b9" stroke-width="1.1"/>
<rect x="995.76" y="1852.2" width="6.8" height="6.8" fill="#dadada" stroke="#b9b9b9" stroke-width="1.1"/>
<rect x="1045.48" y="1839.2" width="6.8" height="6.8" fill="#dadada" stroke="#b9b9b9" stroke-width="1.1"/>
<rect x="1095.2" y="1833.6" width="6.8" height="6.8" fill="#dadada" stroke="#b9b9b9" stroke-width="1.1"/>
<rect x="1194.65" y="1935" width="6.8" height="6.8" fill="#dadada" stroke="#b9b9b9" stroke-width="1.1"/>
<rect x="1244.38" y="1883.1" width="6.8" height="6.8" fill="#dadada" stroke="#b9b9b9" stroke-width="1.1"/>
<rect x="1294.1" y="1890.5" width="6.8" height="6.8" fill="#dadada" stroke="#b9b9b9" stroke-width="1.1"/>
<rect x="1343.82" y="1849" width="6.8" height="6.8" fill="#dadada" stroke="#b9b9b9" stroke-width="1.1"/>
<rect x="1393.55" y="1844.8" width="6.8" height="6.8" fill="#dadada" stroke="#b9b9b9" stroke-width="1.1"/>
<rect x="1443.27" y="1855.5" width="6.8" height="6.8" fill="#dadada" stroke="#b9b9b9" stroke-width="1.1"/>
<rect x="1492.99" y="1833.1" width="6.8" height="6.8" fill="#dadada" stroke="#b9b9b9" stroke-width="1.1"/>
<rect x="1542.71" y="1876.4" width="6.8" height="6.8" fill="#dadada" stroke="#b9b9b9" stroke-width="1.1"/>
<rect x="1592.44" y="1868.2" width="6.8" height="6.8" fill="#dadada" stroke="#b9b9b9" stroke-width="1.1"/>
<polyline points="153.86,1917.1 203.59,1913.5 253.31,1909.1 303.03,1898 352.75,1897.6 402.48,1895.5 452.2,1884.3 501.93,1884.3 551.65,1885.5 601.37,1880.6 651.1,1860.5 700.82,1868.1 750.54,1855.9 800.26,1858.5 849.99,1856.3 899.71,1852.2 949.44,1851.9 999.16,1855.6 1048.88,1842.6 1098.61,1837" fill="none" stroke="#000" stroke-width="3.5" stroke-linejoin="round" stroke-linecap="round"/>
<polyline points="1198.05,1938.4 1247.78,1886.5 1297.5,1893.9 1347.22,1852.4 1396.95,1848.2 1446.67,1858.9 1496.39,1836.5 1546.12,1879.8 1595.84,1871.6" fill="none" stroke="#000" stroke-width="3.5" stroke-linejoin="round" stroke-linecap="round"/>
<polyline points="153.86,1917.6 203.59,1914.1 253.31,1909.7 303.03,1898.7 352.75,1898.3 402.48,1896.4 452.2,1885 501.93,1885.2 551.65,1886.2 601.37,1881.5 651.1,1861.4 700.82,1869.1 750.54,1856.4 800.26,1858.5 849.99,1856.4 899.71,1852.8 949.44,1852.7 999.16,1855.9 1048.88,1842.5 1098.61,1837.2" fill="none" stroke="#000" stroke-width="8.5" stroke-linecap="round" stroke-linejoin="round" stroke-dasharray="0.01 17.72"/>
<polyline points="1198.05,1939.1 1247.78,1887 1297.5,1894.2 1347.22,1852.9 1396.95,1848.7 1446.67,1859.3 1496.39,1837.1 1546.12,1880.3 1595.84,1871.8" fill="none" stroke="#000" stroke-width="8.5" stroke-linecap="round" stroke-linejoin="round" stroke-dasharray="0.01 17.72"/>
<circle cx="153.86" cy="1917.6" r="4.7" fill="#000"/>
<circle cx="203.59" cy="1914.1" r="4.7" fill="#000"/>
<circle cx="253.31" cy="1909.7" r="4.7" fill="#000"/>
<circle cx="303.03" cy="1898.7" r="4.7" fill="#000"/>
<circle cx="352.75" cy="1898.3" r="4.7" fill="#000"/>
<circle cx="402.48" cy="1896.4" r="4.7" fill="#000"/>
<circle cx="452.2" cy="1885" r="4.7" fill="#000"/>
<circle cx="501.93" cy="1885.2" r="4.7" fill="#000"/>
<circle cx="551.65" cy="1886.2" r="4.7" fill="#000"/>
<circle cx="601.37" cy="1881.5" r="4.7" fill="#000"/>
<circle cx="651.1" cy="1861.4" r="4.7" fill="#000"/>
<circle cx="700.82" cy="1869.1" r="4.7" fill="#000"/>
<circle cx="750.54" cy="1856.4" r="4.7" fill="#000"/>
<circle cx="800.26" cy="1858.5" r="4.7" fill="#000"/>
<circle cx="849.99" cy="1856.4" r="4.7" fill="#000"/>
<circle cx="899.71" cy="1852.8" r="4.7" fill="#000"/>
<circle cx="949.44" cy="1852.7" r="4.7" fill="#000"/>
<circle cx="999.16" cy="1855.9" r="4.7" fill="#000"/>
<circle cx="1048.88" cy="1842.5" r="4.7" fill="#000"/>
<circle cx="1098.61" cy="1837.2" r="4.7" fill="#000"/>
<circle cx="1198.05" cy="1939.1" r="4.7" fill="#000"/>
<circle cx="1247.78" cy="1887" r="4.7" fill="#000"/>
<circle cx="1297.5" cy="1894.2" r="4.7" fill="#000"/>
<circle cx="1347.22" cy="1852.9" r="4.7" fill="#000"/>
<circle cx="1396.95" cy="1848.7" r="4.7" fill="#000"/>
<circle cx="1446.67" cy="1859.3" r="4.7" fill="#000"/>
<circle cx="1496.39" cy="1837.1" r="4.7" fill="#000"/>
<circle cx="1546.12" cy="1880.3" r="4.7" fill="#000"/>
<circle cx="1595.84" cy="1871.8" r="4.7" fill="#000"/>
</g>
<g>
<line x1="970.3" y1="1584.4" x2="1059.4" y2="1584.4" stroke="#000" stroke-width="3.4" stroke-linecap="round"/>
<rect x="1011.45" y="1581.25" width="6.8" height="6.8" fill="#dadada" stroke="#b9b9b9" stroke-width="1.1"/>
<line x1="1298.8" y1="1584.4" x2="1388.5" y2="1584.4" stroke="#000" stroke-width="9.1" stroke-linecap="round" stroke-dasharray="0.01 17.84"/>
<circle cx="1343.4" cy="1584.4" r="4.7" fill="#000"/>
</g>
<g>
<text y="1592.4" font-size="23.5"><tspan x="1069.9" textLength="37.35" lengthAdjust="spacingAndGlyphs">PC2</tspan> <tspan x="1114.43" textLength="55.37" lengthAdjust="spacingAndGlyphs">score</tspan></text>
<text y="1592.4" font-size="23.5"><tspan x="1398.32" textLength="103.14" lengthAdjust="spacingAndGlyphs">Simulated</tspan> <tspan x="1505.78" textLength="39.99" lengthAdjust="spacingAndGlyphs">KSS</tspan> <tspan x="1551.22" textLength="55.98" lengthAdjust="spacingAndGlyphs">score</tspan></text>
<text y="1632.6" font-size="38.4"><tspan x="27.45" font-size="33.8" stroke-width="1.3" textLength="8.77" lengthAdjust="spacingAndGlyphs">(</tspan><tspan x="37.8" font-size="38.4" textLength="27.63" lengthAdjust="spacingAndGlyphs">D</tspan><tspan x="65.9" font-size="33.8" stroke-width="1.3" textLength="9.3" lengthAdjust="spacingAndGlyphs">)</tspan></text>
<text y="1632.9" font-size="28.8"><tspan x="85.29" textLength="143.27" lengthAdjust="spacingAndGlyphs">Simulation</tspan> <tspan x="236.16" textLength="27.88" lengthAdjust="spacingAndGlyphs">of</tspan> <tspan x="270.86" textLength="47.54" lengthAdjust="spacingAndGlyphs">KSS</tspan> <tspan x="325.55" textLength="70.79" lengthAdjust="spacingAndGlyphs">score</tspan> <tspan x="402.62" textLength="72.59" lengthAdjust="spacingAndGlyphs">using</tspan> <tspan x="480.61" textLength="101.7" lengthAdjust="spacingAndGlyphs">relative</tspan> <tspan x="588.68" textLength="51.02" lengthAdjust="spacingAndGlyphs">PC2</tspan> <tspan x="646.45" textLength="70.79" lengthAdjust="spacingAndGlyphs">score</tspan> <tspan x="725.17" textLength="37.03" lengthAdjust="spacingAndGlyphs">for</tspan> <tspan x="770.75" textLength="27.82" lengthAdjust="spacingAndGlyphs">W</tspan></text>
<text x="105.6" y="1661.85" font-size="23.1" text-anchor="end" textLength="39.21" lengthAdjust="spacingAndGlyphs">-0.8</text>
<text x="105.6" y="1775.05" font-size="23.1" text-anchor="end" textLength="39.21" lengthAdjust="spacingAndGlyphs">-0.4</text>
<text x="105.6" y="1888.25" font-size="23.1" text-anchor="end" textLength="31.63" lengthAdjust="spacingAndGlyphs">0.0</text>
<text x="105.6" y="2001.45" font-size="23.1" text-anchor="end" textLength="31.63" lengthAdjust="spacingAndGlyphs">0.4</text>
<text x="1644.3" y="1687.1" font-size="23.1" textLength="12.08" lengthAdjust="spacingAndGlyphs">9</text>
<text x="1644.3" y="1749.97" font-size="23.1" textLength="12.08" lengthAdjust="spacingAndGlyphs">8</text>
<text x="1644.3" y="1812.84" font-size="23.1" textLength="12.08" lengthAdjust="spacingAndGlyphs">7</text>
<text x="1644.3" y="1875.71" font-size="23.1" textLength="12.08" lengthAdjust="spacingAndGlyphs">6</text>
<text x="1644.3" y="1938.58" font-size="23.1" textLength="12.08" lengthAdjust="spacingAndGlyphs">5</text>
<text x="1644.3" y="2001.45" font-size="23.1" textLength="12.08" lengthAdjust="spacingAndGlyphs">4</text>
<text y="31.8" font-size="23" transform="rotate(-90)"><tspan x="-1901.55" textLength="38.82" lengthAdjust="spacingAndGlyphs">PC2</tspan> <tspan x="-1857.27" textLength="55.47" lengthAdjust="spacingAndGlyphs">score</tspan> <tspan x="-1795.8" textLength="12.38" lengthAdjust="spacingAndGlyphs">±</tspan> <tspan x="-1778.57" textLength="45.34" lengthAdjust="spacingAndGlyphs">SEM</tspan></text>
<text y="1714.7" font-size="23" transform="rotate(-90)"><tspan x="-1884.83" textLength="37" lengthAdjust="spacingAndGlyphs">KSS</tspan> <tspan x="-1843.22" textLength="55.26" lengthAdjust="spacingAndGlyphs">score</tspan> <tspan x="-1781.95" textLength="12.38" lengthAdjust="spacingAndGlyphs">±</tspan> <tspan x="-1764.22" textLength="45.34" lengthAdjust="spacingAndGlyphs">SEM</tspan></text>
<text x="203.59" y="2034.1" font-size="23.1" text-anchor="middle" textLength="11.56" lengthAdjust="spacingAndGlyphs">1</text>
<text x="303.03" y="2034.1" font-size="23.1" text-anchor="middle" textLength="11.56" lengthAdjust="spacingAndGlyphs">2</text>
<text x="402.48" y="2034.1" font-size="23.1" text-anchor="middle" textLength="11.56" lengthAdjust="spacingAndGlyphs">3</text>
<text x="501.93" y="2034.1" font-size="23.1" text-anchor="middle" textLength="11.56" lengthAdjust="spacingAndGlyphs">4</text>
<text x="601.37" y="2034.1" font-size="23.1" text-anchor="middle" textLength="11.56" lengthAdjust="spacingAndGlyphs">5</text>
<text x="700.82" y="2034.1" font-size="23.1" text-anchor="middle" textLength="11.56" lengthAdjust="spacingAndGlyphs">6</text>
<text x="800.26" y="2034.1" font-size="23.1" text-anchor="middle" textLength="11.56" lengthAdjust="spacingAndGlyphs">7</text>
<text x="899.71" y="2034.1" font-size="23.1" text-anchor="middle" textLength="11.56" lengthAdjust="spacingAndGlyphs">8</text>
<text x="999.16" y="2034.1" font-size="23.1" text-anchor="middle" textLength="11.56" lengthAdjust="spacingAndGlyphs">9</text>
<text x="1098.61" y="2034.1" font-size="23.1" text-anchor="middle" textLength="23.9" lengthAdjust="spacingAndGlyphs">10</text>
<text x="1198.05" y="2034.1" font-size="23.1" text-anchor="middle" textLength="11.56" lengthAdjust="spacingAndGlyphs">5</text>
<text x="1247.78" y="2034.1" font-size="23.1" text-anchor="middle" textLength="23.9" lengthAdjust="spacingAndGlyphs">15</text>
<text x="1297.5" y="2034.1" font-size="23.1" text-anchor="middle" textLength="23.9" lengthAdjust="spacingAndGlyphs">25</text>
<text x="1347.22" y="2034.1" font-size="23.1" text-anchor="middle" textLength="23.9" lengthAdjust="spacingAndGlyphs">35</text>
<text x="1396.95" y="2034.1" font-size="23.1" text-anchor="middle" textLength="23.9" lengthAdjust="spacingAndGlyphs">45</text>
<text x="1446.67" y="2034.1" font-size="23.1" text-anchor="middle" textLength="23.9" lengthAdjust="spacingAndGlyphs">55</text>
<text x="1496.39" y="2034.1" font-size="23.1" text-anchor="middle" textLength="23.9" lengthAdjust="spacingAndGlyphs">65</text>
<text x="1546.12" y="2034.1" font-size="23.1" text-anchor="middle" textLength="23.9" lengthAdjust="spacingAndGlyphs">75</text>
<text x="1595.84" y="2034.1" font-size="23.1" text-anchor="middle" textLength="23.9" lengthAdjust="spacingAndGlyphs">85</text>
<text y="2083.2" font-size="23.5"><tspan x="547.73" textLength="38.48" lengthAdjust="spacingAndGlyphs">The</tspan> <tspan x="591.83" textLength="41.49" lengthAdjust="spacingAndGlyphs">first</tspan> <tspan x="639.2" textLength="25.07" lengthAdjust="spacingAndGlyphs">10</tspan> <tspan x="669.01" textLength="85.55" lengthAdjust="spacingAndGlyphs">minutes</tspan></text>
<text y="2083.2" font-size="23.5"><tspan x="1303.05" textLength="13.05" lengthAdjust="spacingAndGlyphs">9</tspan> <tspan x="1322.08" textLength="73.77" lengthAdjust="spacingAndGlyphs">10-min</tspan> <tspan x="1401.05" textLength="89.39" lengthAdjust="spacingAndGlyphs">intervals</tspan></text>
</g>
<g fill="#8a8a8a">
<rect x="0" y="0" width="1725" height="2"/>
<rect x="0" y="2091" width="1725" height="2"/>
<rect x="0" y="0" width="2" height="2093"/>
<rect x="1723" y="0" width="2" height="2093"/>
<rect x="0" y="522.7" width="1725" height="2"/>
<rect x="0" y="1043.5" width="1725" height="4"/>
<rect x="0" y="1568.4" width="1725" height="2"/>
</g>
</svg>
</body>
</html>
